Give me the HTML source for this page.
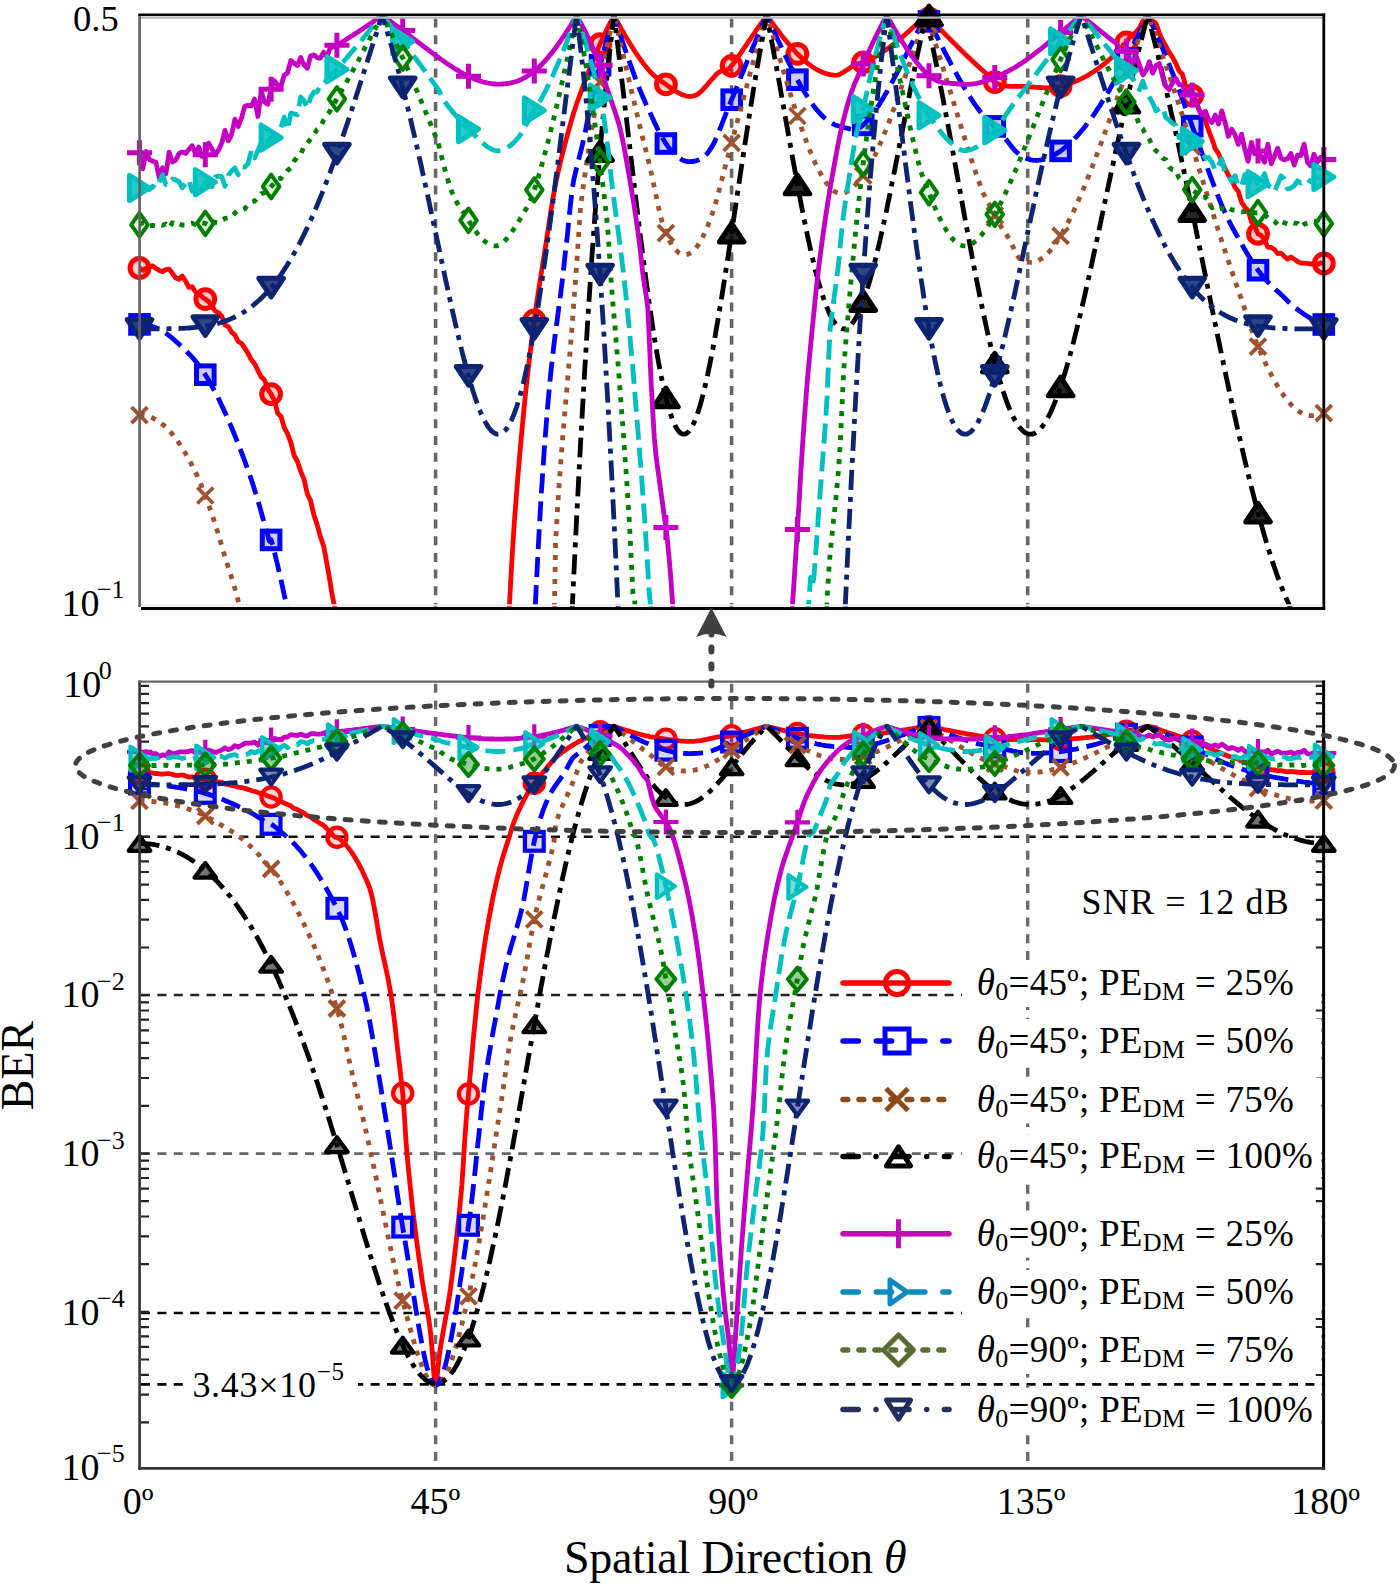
<!DOCTYPE html>
<html><head><meta charset="utf-8"><style>html,body{margin:0;padding:0;background:#fff}svg{display:block}</style></head><body>
<svg width="1400" height="1586" viewBox="0 0 1400 1586" font-family="'Liberation Serif', serif">
<defs><clipPath id="cT"><rect x="139.5" y="14.5" width="1184.3" height="593"/></clipPath>
<clipPath id="cB"><rect x="139.5" y="681.7" width="1184.3" height="786.8"/></clipPath></defs>
<rect width="100%" height="100%" fill="#fff"/>
<line x1="435.6" y1="18.5" x2="435.6" y2="607.5" stroke="#666" stroke-width="3.6" stroke-dasharray="9 7.7"/>
<line x1="731.6" y1="18.5" x2="731.6" y2="607.5" stroke="#666" stroke-width="3.6" stroke-dasharray="9 7.7"/>
<line x1="1027.7" y1="18.5" x2="1027.7" y2="607.5" stroke="#666" stroke-width="3.6" stroke-dasharray="9 7.7"/>
<g clip-path="url(#cT)"><polyline points="139.5,268 141.1,269.2 142.8,270.4 144.4,269.3 146.1,268.2 147.7,267.6 149.4,267 151,266.4 152.7,265.8 154.3,267.1 155.9,268.4 157.6,269.3 159.2,270.4 160.9,271 162.5,271.7 164.2,270.6 165.8,269.7 167.5,269.4 169.1,269.1 170.8,271.2 172.4,273.3 174,275.6 175.7,277.9 177.3,278.5 179,279.2 180.6,277.6 182.3,276.1 183.9,278.6 185.6,281.1 187.2,284.2 188.8,287.4 190.5,287 192.1,286.7 193.8,289.2 195.4,291.7 197.1,292.7 198.7,293.7 200.4,295.1 202,296.7 203.6,297.9 205.3,299.1 206.9,300.3 208.6,301.5 210.2,303.9 211.9,306.3 213.5,308.7 215.2,311 216.8,311.9 218.5,312.8 220.1,314.4 221.7,316 223.4,320.5 225,325.1 226.7,325.8 228.3,326.6 230,329.4 231.6,332.3 233.3,333.6 234.9,334.9 236.5,338.2 238.2,341.5 239.8,342.5 241.5,343.4 243.1,345.7 244.8,348.1 246.4,350.7 248.1,353.4 249.7,356.6 251.4,359.8 253,361.7 254.6,363.7 256.3,367.1 257.9,370.6 259.6,373.7 261.2,376.9 262.9,378.4 264.5,379.9 266.2,384.5 267.8,389.2 269.4,391.6 271.1,394.1 272.7,397.1 274.4,400.1 276,406.6 277.7,413.2 279.3,414.8 281,416.5 282.6,422 284.2,427.5 285.9,430.5 287.5,433.6 289.2,438 290.8,442.4 292.5,448.9 294.1,455.5 295.8,458.5 297.4,461.5 299.1,466.4 300.7,471.3 302.3,475.2 304,479.1 305.6,486.4 307.3,493.8 308.9,497.2 310.6,500.6 312.2,507.9 313.9,514.9 315.5,519.7 317.1,524.7 318.8,530.7 320.4,536.8 322.1,541.4 323.7,546.7 325.4,555.1 327,564.6 328.7,573.7 330.3,583.3 331.9,593.3 333.6,602.1 335.2,608.8 336.9,609.7 338.5,613.5 340.2,620.4 341.8,628.2 343.5,636.6 345.1,645.9 346.8,655.9 348.4,666.7 350,678.2 351.7,690.6 353.3,703.8 355,717.7 356.6,732.5 358.3,748.1 359.9,764.6 361.6,781.9 363.2,800.1 364.8,819.1 366.5,839 368.1,859.8 369.8,882.3 371.4,913.5 373.1,953.5 374.7,1000.3 376.4,1051.4 378,1103.8 379.6,1153.5 381.3,1197.5 382.9,1238.9 384.6,1279.1 386.2,1319.5 387.9,1361.8 389.5,1407.9 391.2,1460 392.8,1521.5 394.5,1592.8 396.1,1670.2 397.7,1749 399.4,1823.3 401,1896.2 402.7,1978.6 404.3,2090.8 406,2235.9 407.6,2339.8 409.3,2431.2 410.9,2513.8 412.5,2591.2 414.2,2665.7 415.8,2736 417.5,2802.7 419.1,2866.6 420.8,2928.4 422.4,2988.3 424.1,3042.1 425.7,3092 427.4,3142.2 429,3196.9 430.6,3260.9 432.3,3364.3 433.9,3483.8 435.6,3542 437.2,3491.3 438.9,3400.7 440.5,3338 442.2,3284.9 443.8,3235.8 445.4,3187.9 447.1,3138.6 448.7,3085.6 450.4,3026.7 452,2960.7 453.7,2888.6 455.3,2812.2 457,2733.1 458.6,2653.6 460.2,2569 461.9,2469.6 463.5,2335.6 465.2,2194.3 466.8,2080.1 468.5,1982.5 470.1,1881.8 471.8,1781.3 473.4,1684.1 475.1,1592.3 476.7,1507.6 478.3,1430.9 480,1359.6 481.6,1292.8 483.3,1230.2 484.9,1171.5 486.6,1116.4 488.2,1064.7 489.9,1016.1 491.5,970.2 493.1,926.8 494.8,885.8 496.4,847 498.1,810.3 499.7,775.6 501.4,742.7 503,711.9 504.7,683.7 506.3,656.8 507.9,630.1 509.6,602.4 511.2,572.1 512.9,543.9 514.5,520.2 516.2,498 517.8,477.2 519.5,457.6 521.1,439.1 522.8,421.5 524.4,404.9 526,389.1 527.7,374.1 529.3,359.7 531,346 532.6,332.9 534.3,320.3 535.9,308.3 537.6,297.2 539.2,286.5 540.8,276.1 542.5,265.8 544.1,255.5 545.8,244.9 547.4,234 549.1,222.9 550.7,212.1 552.4,201.9 554,192.4 555.6,183.7 557.3,175.9 558.9,168.4 560.6,161.3 562.2,154.6 563.9,148.1 565.5,141.8 567.2,135.7 568.8,129.7 570.5,123.9 572.1,118.2 573.7,112.8 575.4,107.7 577,102.8 578.7,98.1 580.3,93.6 582,89.1 583.6,84.6 585.3,80.3 586.9,76 588.5,71.8 590.2,67.6 591.8,63.5 593.5,59.5 595.1,55.6 596.8,51.7 598.4,47.9 600.1,44.1 601.7,40.5 603.4,36.9 605,33.4 606.6,29.9 608.3,26.6 609.9,23.3 611.6,20.1 613.2,16.9 614,15.5 614.9,17.2 616.5,20.2 618.2,23.2 619.8,26.2 621.4,29.1 623.1,32 624.7,34.9 626.4,37.7 628,40.4 629.7,43.2 631.3,45.8 633,48.4 634.6,51 636.2,53.5 637.9,55.9 639.5,58.2 641.2,60.5 642.8,62.7 644.5,64.9 646.1,66.9 647.8,68.9 649.4,70.8 651.1,72.6 652.7,74.3 654.3,75.9 656,77.2 657.6,78.5 659.3,79.7 660.9,80.9 662.6,82 664.2,83.2 665.9,84.4 667.5,85.6 669.1,86.8 670.8,87.9 672.4,89.1 674.1,90.2 675.7,91.2 677.4,92.2 679,93.1 680.7,94 682.3,94.7 683.9,95.3 685.6,95.8 687.2,96.2 688.9,96.4 690.5,96.4 692.2,96.2 693.8,95.9 695.5,95.3 697.1,94.5 698.8,93.4 700.4,92 702,90.5 703.7,88.8 705.3,86.9 707,85.1 708.6,83.1 710.3,81.2 711.9,79.3 713.6,77.5 715.2,75.7 716.8,74 718.5,72.5 720.1,71.5 721.8,71 723.4,70.7 725.1,70.4 726.7,70 728.4,69.2 730,67.8 731.6,65.8 733.3,63.5 734.9,61.3 736.6,59 738.2,56.6 739.9,54.3 741.5,51.9 743.2,49.5 744.8,47.1 746.5,44.7 748.1,42.3 749.7,39.8 751.4,37.4 753,35 754.7,32.6 756.3,30.2 758,27.8 759.6,25.5 761.3,23.1 762.9,20.8 764.5,18.5 766.2,16.2 766.7,15.5 767.8,17 769.5,19.3 771.1,21.5 772.8,23.7 774.4,25.9 776.1,28.1 777.7,30.3 779.4,32.5 781,34.6 782.6,36.7 784.3,38.7 785.9,40.8 787.6,42.8 789.2,44.7 790.9,46.7 792.5,48.5 794.2,50.3 795.8,52.1 797.4,53.8 799.1,55.5 800.7,57.1 802.4,58.7 804,60.2 805.7,61.6 807.3,63 809,64.3 810.6,65.5 812.2,66.7 813.9,67.8 815.5,68.8 817.2,69.8 818.8,70.6 820.5,71.4 822.1,72.2 823.8,72.8 825.4,73.4 827.1,73.9 828.7,74.3 830.3,74.7 832,75 833.6,75.2 835.3,75.3 836.9,75.2 838.6,74.8 840.2,74.1 841.9,73.2 843.5,72.2 845.1,71.1 846.8,70 848.4,68.9 850.1,67.7 851.7,66.7 853.4,65.8 855,65 856.7,64.4 858.3,63.9 859.9,63.4 861.6,62.9 863.2,62.3 864.9,61.6 866.5,61 868.2,60.2 869.8,59.5 871.5,58.6 873.1,57.8 874.8,56.9 876.4,56 878,55 879.7,54 881.3,52.9 883,51.9 884.6,50.7 886.3,49.6 887.9,48.4 889.6,47.2 891.2,46 892.8,44.7 894.5,43.4 896.1,42.1 897.8,40.8 899.4,39.4 901.1,38 902.7,36.6 904.4,35.2 906,33.8 907.7,32.3 909.3,30.9 910.9,29.4 912.6,27.9 914.2,26.4 915.9,24.9 917.5,23.4 919.2,21.8 920.8,20.3 922.5,18.8 924.1,17.2 925.7,15.7 925.9,15.5 927.4,16.9 929,18.4 930.7,20 932.3,21.6 934,23.2 935.6,24.8 937.3,26.4 938.9,28 940.5,29.6 942.2,31.3 943.8,32.9 945.5,34.6 947.1,36.2 948.8,37.9 950.4,39.5 952.1,41.2 953.7,42.8 955.4,44.4 957,46.1 958.6,47.7 960.3,49.3 961.9,51 963.6,52.6 965.2,54.2 966.9,55.8 968.5,57.4 970.2,58.9 971.8,60.5 973.4,62 975.1,63.6 976.7,65.1 978.4,66.6 980,68.1 981.7,69.5 983.3,71 985,72.4 986.6,73.8 988.2,75.5 989.9,77.4 991.5,79.3 993.2,80.9 994.8,82.1 996.5,83.1 998.1,83.9 999.8,84.5 1001.4,85.1 1003.1,85.5 1004.7,85.8 1006.3,86.1 1008,86.2 1009.6,86.3 1011.3,86.4 1012.9,86.4 1014.6,86.4 1016.2,86.3 1017.9,86.3 1019.5,86.3 1021.1,86.2 1022.8,86.3 1024.4,86.3 1026.1,86.4 1027.7,86.6 1029.4,86.7 1031,86.9 1032.7,87 1034.3,87.2 1035.9,87.3 1037.6,87.4 1039.2,87.5 1040.9,87.6 1042.5,87.7 1044.2,87.8 1045.8,87.8 1047.5,87.8 1049.1,87.8 1050.8,87.7 1052.4,87.6 1054,87.4 1055.7,87.2 1057.3,86.9 1059,86.6 1060.6,86.2 1062.3,85.8 1063.9,85.4 1065.6,84.9 1067.2,84.4 1068.8,83.9 1070.5,83.3 1072.1,82.7 1073.8,82.1 1075.4,81.4 1077.1,80.7 1078.7,80 1080.4,79.2 1082,78.4 1083.7,77.5 1085.3,76.7 1086.9,75.8 1088.6,74.8 1090.2,73.8 1091.9,72.8 1093.5,71.7 1095.2,70.7 1096.8,69.5 1098.5,68.3 1100.1,67.1 1101.7,65.9 1103.4,64.6 1105,63.3 1106.7,61.9 1108.3,60.5 1110,59 1111.6,57.5 1113.3,56 1114.9,54.4 1116.5,53 1118.2,51.6 1119.8,50.3 1121.5,47.9 1123.1,45.2 1124.8,43.8 1126.4,42.4 1128.1,39.8 1129.7,37.1 1131.4,35.9 1133,34.8 1134.6,33.3 1136.3,31.8 1137.9,29.8 1139.6,27.7 1141.2,24.4 1142.9,21.2 1144.5,18.5 1146.2,15.9 1147.7,15.5 1147.8,15.5 1149.4,18.3 1151.1,19.5 1152.7,20.8 1154.4,22.1 1156,23.5 1157.7,28.3 1159.3,33.3 1161,36.9 1162.6,40.5 1164.2,43.2 1165.9,46 1167.5,49.2 1169.2,52.5 1170.8,54.7 1172.5,57 1174.1,60.2 1175.8,63.4 1177.4,67.2 1179.1,71 1180.7,72.4 1182.3,73.9 1184,80 1185.6,86.1 1187.3,88.6 1188.9,91.2 1190.6,93.4 1192.2,95.6 1193.9,98.1 1195.5,100.7 1197.1,104.8 1198.8,108.9 1200.4,112.6 1202.1,116.3 1203.7,118.6 1205.4,121 1207,125.8 1208.7,130.7 1210.3,134.8 1211.9,138.9 1213.6,143.8 1215.2,148.7 1216.9,151.1 1218.5,153.5 1220.2,157.7 1221.8,161.8 1223.5,165.1 1225.1,168.5 1226.8,171.8 1228.4,175.1 1230,177.7 1231.7,180.2 1233.3,183.7 1235,187.2 1236.6,189.3 1238.3,191.3 1239.9,196.8 1241.6,202.3 1243.2,204.6 1244.8,207.1 1246.5,208.8 1248.1,210.6 1249.8,216.3 1251.4,221.8 1253.1,224.2 1254.7,226.3 1256.4,230.3 1258,233.9 1259.7,234.8 1261.3,235.5 1262.9,237.9 1264.6,240.1 1266.2,243.7 1267.9,247.2 1269.5,247.3 1271.2,247.3 1272.8,248.5 1274.5,249.5 1276.1,251.6 1277.7,253.6 1279.4,253.4 1281,253.1 1282.7,254.8 1284.3,256.4 1286,257.8 1287.6,259.1 1289.3,258.1 1290.9,257 1292.5,258 1294.2,259 1295.8,260.3 1297.5,261.5 1299.1,262.3 1300.8,263.1 1302.4,263.1 1304.1,263.1 1305.7,263.3 1307.4,263.4 1309,263.7 1310.6,264 1312.3,263.8 1313.9,263.6 1315.6,264 1317.2,264.5 1318.9,263.7 1320.5,262.8 1322.2,263.2 1323.8,263.5" fill="none" stroke="#ff0000" stroke-width="4.8" stroke-linejoin="round"/></g>
<circle cx="139.5" cy="268" r="9.4" fill="#ff0000" fill-opacity="0.2" stroke="#ff0000" stroke-width="5.0"/>
<circle cx="205.3" cy="299.1" r="9.4" fill="#ff0000" fill-opacity="0.2" stroke="#ff0000" stroke-width="5.0"/>
<circle cx="271.1" cy="394.1" r="9.4" fill="#ff0000" fill-opacity="0.2" stroke="#ff0000" stroke-width="5.0"/>
<circle cx="534.3" cy="320.3" r="9.4" fill="#ff0000" fill-opacity="0.2" stroke="#ff0000" stroke-width="5.0"/>
<circle cx="600.1" cy="44.1" r="9.4" fill="#ff0000" fill-opacity="0.2" stroke="#ff0000" stroke-width="5.0"/>
<circle cx="665.9" cy="84.4" r="9.4" fill="#ff0000" fill-opacity="0.2" stroke="#ff0000" stroke-width="5.0"/>
<circle cx="731.6" cy="65.8" r="9.4" fill="#ff0000" fill-opacity="0.2" stroke="#ff0000" stroke-width="5.0"/>
<circle cx="797.4" cy="53.8" r="9.4" fill="#ff0000" fill-opacity="0.2" stroke="#ff0000" stroke-width="5.0"/>
<circle cx="863.2" cy="62.3" r="9.4" fill="#ff0000" fill-opacity="0.2" stroke="#ff0000" stroke-width="5.0"/>
<circle cx="929" cy="18.4" r="9.4" fill="#ff0000" fill-opacity="0.2" stroke="#ff0000" stroke-width="5.0"/>
<circle cx="994.8" cy="82.1" r="9.4" fill="#ff0000" fill-opacity="0.2" stroke="#ff0000" stroke-width="5.0"/>
<circle cx="1060.6" cy="86.2" r="9.4" fill="#ff0000" fill-opacity="0.2" stroke="#ff0000" stroke-width="5.0"/>
<circle cx="1126.4" cy="42.4" r="9.4" fill="#ff0000" fill-opacity="0.2" stroke="#ff0000" stroke-width="5.0"/>
<circle cx="1192.2" cy="95.6" r="9.4" fill="#ff0000" fill-opacity="0.2" stroke="#ff0000" stroke-width="5.0"/>
<circle cx="1258" cy="233.9" r="9.4" fill="#ff0000" fill-opacity="0.2" stroke="#ff0000" stroke-width="5.0"/>
<circle cx="1323.8" cy="263.5" r="9.4" fill="#ff0000" fill-opacity="0.2" stroke="#ff0000" stroke-width="5.0"/>
<g clip-path="url(#cT)"><polyline points="139.5,324.4 141.1,324.4 142.8,324.5 144.4,324.7 146.1,324.9 147.7,325.2 149.4,325.6 151,326 152.7,326.6 154.3,327.1 155.9,327.8 157.6,328.5 159.2,329.3 160.9,330.2 162.5,331.1 164.2,332.1 165.8,333.2 167.5,334.3 169.1,335.6 170.8,336.9 172.4,338.2 174,339.7 175.7,341.2 177.3,342.7 179,344.1 180.6,345.7 182.3,347.2 183.9,348.7 185.6,350.3 187.2,352 188.8,353.6 190.5,355.4 192.1,357.2 193.8,359 195.4,361 197.1,363 198.7,365.1 200.4,367.3 202,369.7 203.6,372.1 205.3,374.7 206.9,377.4 208.6,380.2 210.2,383 211.9,386 213.5,389 215.2,392.1 216.8,395.3 218.5,398.6 220.1,402 221.7,405.4 223.4,409 225,412.6 226.7,416.2 228.3,420 230,423.8 231.6,427.7 233.3,431.7 234.9,435.7 236.5,439.7 238.2,443.9 239.8,448.1 241.5,452.3 243.1,456.7 244.8,461.1 246.4,465.7 248.1,470.3 249.7,475 251.4,479.9 253,484.8 254.6,489.9 256.3,495.2 257.9,500.6 259.6,506.3 261.2,512.1 262.9,518.1 264.5,524 266.2,529.9 267.8,535.7 269.4,541.2 271.1,539.9 272.7,544.8 274.4,551.6 276,558.5 277.7,565.5 279.3,572.7 281,579.9 282.6,587.3 284.2,594.8 285.9,602.4 287.5,610.2 289.2,618.3 290.8,626.7 292.5,635.3 294.1,644.3 295.8,653.5 297.4,663 299.1,672.9 300.7,683.1 302.3,693.5 304,704.3 305.6,715.4 307.3,726.8 308.9,738.6 310.6,750.7 312.2,763.1 313.9,775.8 315.5,788.9 317.1,802.3 318.8,816 320.4,830.1 322.1,844.5 323.7,859.3 325.4,874.4 327,889.9 328.7,905.7 330.3,921.8 331.9,938.3 333.6,955.1 335.2,972.3 336.9,989.7 338.5,1007.6 340.2,1026.5 341.8,1046.8 343.5,1068.5 345.1,1091.6 346.8,1116 348.4,1141.7 350,1168.8 351.7,1197.3 353.3,1227 355,1258 356.6,1290.2 358.3,1323.6 359.9,1358.2 361.6,1393.8 363.2,1430.4 364.8,1468 366.5,1508 368.1,1551.5 369.8,1597.9 371.4,1646.8 373.1,1697.8 374.7,1750.1 376.4,1803.1 378,1855.9 379.6,1909 381.3,1963.3 382.9,2018.5 384.6,2074 386.2,2129.6 387.9,2185.1 389.5,2241.6 391.2,2299 392.8,2357.1 394.5,2415.4 396.1,2473.5 397.7,2531.1 399.4,2587.6 401,2642.5 402.7,2695.2 404.3,2747 406,2800.3 407.6,2854.7 409.3,2910.1 410.9,2965.9 412.5,3021.9 414.2,3077.7 415.8,3132.7 417.5,3186.5 419.1,3238.6 420.8,3288.5 422.4,3335.6 424.1,3379.3 425.7,3419.1 427.4,3454.4 429,3484.5 430.6,3508.8 432.3,3526.9 433.9,3538.1 435.6,3542 437.2,3538.7 438.9,3529.1 440.5,3513.4 442.2,3492.1 443.8,3465.4 445.4,3433.7 447.1,3397.4 448.7,3357 450.4,3312.7 452,3265.1 453.7,3214.5 455.3,3161.3 457,3105.9 458.6,3048.7 460.2,2990.1 461.9,2930.3 463.5,2869.6 465.2,2808.5 466.8,2747.2 468.5,2685.8 470.1,2623.4 471.8,2552.6 473.4,2475 475.1,2393.3 476.7,2310.2 478.3,2227.8 480,2148 481.6,2064.9 483.3,1983 484.9,1914.6 486.6,1854.6 488.2,1799.3 489.9,1747.3 491.5,1697.6 493.1,1649.2 494.8,1601.2 496.4,1553 498.1,1504.8 499.7,1457.5 501.4,1411.6 503,1368 504.7,1327 506.3,1289.1 507.9,1254.5 509.6,1222.3 511.2,1191.8 512.9,1162.3 514.5,1133 516.2,1103.4 517.8,1072.9 519.5,1041.2 521.1,1007.9 522.8,971.5 524.4,927.1 526,877.2 527.7,824.6 529.3,772 531,721.3 532.6,674 534.3,631.1 535.9,592.8 537.6,560.4 539.2,530.1 540.8,502 542.5,475.9 544.1,451.8 545.8,429.6 547.4,409.3 549.1,390.6 550.7,373.7 552.4,358.3 554,344.3 555.6,331.5 557.3,319.2 558.9,307 560.6,294.5 562.2,280.8 563.9,266.1 565.5,251.2 567.2,236.7 568.8,220.5 570.5,204.2 572.1,190.2 573.7,180.3 575.4,172.7 577,165.9 578.7,159.5 580.3,153.2 582,146.5 583.6,139.4 585.3,131.5 586.9,123.5 588.5,115.7 590.2,108 591.8,100.4 593.5,93.1 595.1,85.8 596.8,78.8 598.4,71.9 600.1,65.2 601.7,58.7 603.4,52.3 605,46.2 606.6,40.2 608.3,34.3 609.9,28.7 611.6,23.2 613.2,17.9 614,15.5 614.9,18.3 616.5,23.4 618.2,28.5 619.8,33.5 621.4,38.5 623.1,43.5 624.7,48.3 626.4,53.2 628,57.9 629.7,62.6 631.3,67.2 633,71.7 634.6,76.1 636.2,80.5 637.9,84.7 639.5,88.9 641.2,92.9 642.8,96.8 644.5,100.6 646.1,104.4 647.8,108 649.4,111.5 651.1,115.1 652.7,118.6 654.3,122.1 656,125.6 657.6,128.9 659.3,132.1 660.9,135.2 662.6,138.2 664.2,140.9 665.9,143.5 667.5,145.9 669.1,148.1 670.8,150.2 672.4,152.1 674.1,153.8 675.7,155.4 677.4,156.8 679,158 680.7,159 682.3,159.9 683.9,160.6 685.6,161.1 687.2,161.5 688.9,161.7 690.5,161.7 692.2,161.5 693.8,161.3 695.5,160.9 697.1,160.5 698.8,159.8 700.4,159.1 702,158.1 703.7,156.9 705.3,155.4 707,153.7 708.6,151.6 710.3,149.3 711.9,146.7 713.6,143.7 715.2,140.4 716.8,136.7 718.5,132.7 720.1,128.6 721.8,124.3 723.4,120.1 725.1,115.8 726.7,111.6 728.4,107.6 730,103.7 731.6,99.7 733.3,95.7 734.9,91.6 736.6,87.6 738.2,83.5 739.9,79.4 741.5,75.3 743.2,71.3 744.8,67.2 746.5,63.1 748.1,59.1 749.7,55 751.4,51 753,47 754.7,43.1 756.3,39.2 758,35.3 759.6,31.5 761.3,27.7 762.9,24 764.5,20.3 766.2,16.6 766.7,15.5 767.8,17.9 769.5,21.5 771.1,25.1 772.8,28.7 774.4,32.3 776.1,35.9 777.7,39.4 779.4,43 781,46.5 782.6,50 784.3,53.5 785.9,56.9 787.6,60.3 789.2,63.7 790.9,67 792.5,70.3 794.2,73.5 795.8,76.6 797.4,79.7 799.1,82.7 800.7,85.6 802.4,88.5 804,91.3 805.7,94 807.3,96.6 809,99.1 810.6,101.6 812.2,103.9 813.9,106.1 815.5,108.3 817.2,110.3 818.8,112.2 820.5,114 822.1,115.7 823.8,117.3 825.4,118.7 827.1,120.1 828.7,121.3 830.3,122.4 832,123.4 833.6,124.2 835.3,124.9 836.9,125.5 838.6,126 840.2,126.3 841.9,126.7 843.5,127.2 845.1,127.7 846.8,128.2 848.4,128.6 850.1,129 851.7,129.3 853.4,129.4 855,129.3 856.7,129 858.3,128.4 859.9,127.5 861.6,126.3 863.2,124.9 864.9,123.3 866.5,121.5 868.2,119.7 869.8,117.7 871.5,115.6 873.1,113.5 874.8,111.2 876.4,108.8 878,106.3 879.7,103.8 881.3,101.1 883,98.4 884.6,95.6 886.3,92.8 887.9,89.9 889.6,86.9 891.2,83.9 892.8,80.8 894.5,77.7 896.1,74.5 897.8,71.3 899.4,68.1 901.1,64.8 902.7,61.6 904.4,58.3 906,55 907.7,51.7 909.3,48.4 910.9,45.1 912.6,41.8 914.2,38.5 915.9,35.2 917.5,31.9 919.2,28.7 920.8,25.4 922.5,22.2 924.1,19 925.7,15.9 925.9,15.5 927.4,18.2 929,21.4 930.7,24.6 932.3,27.8 934,30.9 935.6,34.1 937.3,37.3 938.9,40.5 940.5,43.7 942.2,46.9 943.8,50.1 945.5,53.3 947.1,56.4 948.8,59.5 950.4,62.7 952.1,65.7 953.7,68.8 955.4,71.8 957,74.8 958.6,77.8 960.3,80.7 961.9,83.6 963.6,86.4 965.2,89.2 966.9,91.9 968.5,94.6 970.2,97.2 971.8,99.8 973.4,102.3 975.1,104.7 976.7,107 978.4,109.2 980,111.3 981.7,113.2 983.3,115.1 985,116.8 986.6,118.5 988.2,120.1 989.9,121.7 991.5,123.3 993.2,124.9 994.8,126.4 996.5,128.1 998.1,129.8 999.8,131.6 1001.4,133.6 1003.1,135.6 1004.7,137.7 1006.3,139.8 1008,142 1009.6,144.1 1011.3,146.2 1012.9,148.2 1014.6,150.1 1016.2,151.8 1017.9,153.3 1019.5,154.7 1021.1,155.7 1022.8,156.7 1024.4,157.5 1026.1,158.3 1027.7,158.9 1029.4,159.4 1031,159.8 1032.7,160.1 1034.3,160.3 1035.9,160.3 1037.6,160.3 1039.2,160.2 1040.9,160 1042.5,159.7 1044.2,159.3 1045.8,158.8 1047.5,158.2 1049.1,157.5 1050.8,156.8 1052.4,156 1054,155.1 1055.7,154.1 1057.3,153.1 1059,152 1060.6,150.9 1062.3,149.7 1063.9,148.4 1065.6,147 1067.2,145.6 1068.8,144.2 1070.5,142.7 1072.1,141.1 1073.8,139.4 1075.4,137.7 1077.1,136 1078.7,134.1 1080.4,132.2 1082,130.3 1083.7,128.3 1085.3,126.2 1086.9,124.1 1088.6,121.9 1090.2,119.7 1091.9,117.4 1093.5,115.1 1095.2,112.7 1096.8,110.2 1098.5,107.7 1100.1,105.2 1101.7,102.6 1103.4,99.9 1105,97.2 1106.7,94.5 1108.3,91.7 1110,88.9 1111.6,86 1113.3,83.1 1114.9,80.1 1116.5,77.1 1118.2,74.1 1119.8,71 1121.5,67.9 1123.1,64.8 1124.8,61.7 1126.4,58.5 1128.1,55.3 1129.7,52 1131.4,48.8 1133,45.5 1134.6,42.2 1136.3,38.9 1137.9,35.5 1139.6,32.2 1141.2,28.8 1142.9,25.5 1144.5,22.1 1146.2,18.7 1147.7,15.5 1147.8,15.6 1149.4,19.1 1151.1,22.5 1152.7,26.1 1154.4,29.7 1156,33.3 1157.7,37 1159.3,40.8 1161,44.6 1162.6,48.5 1164.2,52.5 1165.9,56.5 1167.5,60.5 1169.2,64.6 1170.8,68.8 1172.5,73 1174.1,77.2 1175.8,81.5 1177.4,85.8 1179.1,90.2 1180.7,94.6 1182.3,99 1184,103.4 1185.6,107.9 1187.3,112.4 1188.9,117 1190.6,121.5 1192.2,126.1 1193.9,130.6 1195.5,135.2 1197.1,139.8 1198.8,144.4 1200.4,148.9 1202.1,153.5 1203.7,158 1205.4,162.5 1207,167 1208.7,171.5 1210.3,175.9 1211.9,180.3 1213.6,184.7 1215.2,188.9 1216.9,193.2 1218.5,197.4 1220.2,201.5 1221.8,205.4 1223.5,209.2 1225.1,212.8 1226.8,216.3 1228.4,219.7 1230,223 1231.7,226.1 1233.3,229.2 1235,232.2 1236.6,235.1 1238.3,238 1239.9,241 1241.6,243.9 1243.2,246.8 1244.8,249.6 1246.5,252.4 1248.1,255.2 1249.8,257.8 1251.4,260.4 1253.1,263 1254.7,265.5 1256.4,267.9 1258,270.2 1259.7,272.4 1261.3,274.6 1262.9,276.6 1264.6,278.5 1266.2,280.3 1267.9,282 1269.5,283.7 1271.2,285.3 1272.8,286.9 1274.5,288.4 1276.1,289.9 1277.7,291.4 1279.4,292.9 1281,294.5 1282.7,296 1284.3,297.6 1286,299.3 1287.6,300.9 1289.3,302.5 1290.9,304 1292.5,305.4 1294.2,306.8 1295.8,308.2 1297.5,309.5 1299.1,310.7 1300.8,311.9 1302.4,313.1 1304.1,314.2 1305.7,315.3 1307.4,316.4 1309,317.4 1310.6,318.4 1312.3,319.4 1313.9,320.4 1315.6,321.3 1317.2,322.3 1318.9,323.2 1320.5,324.1 1322.2,324.5 1323.8,324.5" fill="none" stroke="#0000ff" stroke-width="4.8" stroke-dasharray="20 8" stroke-linejoin="round"/></g>
<rect x="130.7" y="315.6" width="17.6" height="17.6" fill="#0000ff" fill-opacity="0.2" stroke="#0000ff" stroke-width="5.0"/>
<rect x="196.5" y="365.9" width="17.6" height="17.6" fill="#0000ff" fill-opacity="0.2" stroke="#0000ff" stroke-width="5.0"/>
<rect x="262.3" y="531.1" width="17.6" height="17.6" fill="#0000ff" fill-opacity="0.2" stroke="#0000ff" stroke-width="5.0"/>
<rect x="591.3" y="56.4" width="17.6" height="17.6" fill="#0000ff" fill-opacity="0.2" stroke="#0000ff" stroke-width="5.0"/>
<rect x="657.1" y="134.7" width="17.6" height="17.6" fill="#0000ff" fill-opacity="0.2" stroke="#0000ff" stroke-width="5.0"/>
<rect x="722.9" y="90.9" width="17.6" height="17.6" fill="#0000ff" fill-opacity="0.2" stroke="#0000ff" stroke-width="5.0"/>
<rect x="788.6" y="70.9" width="17.6" height="17.6" fill="#0000ff" fill-opacity="0.2" stroke="#0000ff" stroke-width="5.0"/>
<rect x="854.4" y="116.1" width="17.6" height="17.6" fill="#0000ff" fill-opacity="0.2" stroke="#0000ff" stroke-width="5.0"/>
<rect x="920.2" y="12.6" width="17.6" height="17.6" fill="#0000ff" fill-opacity="0.2" stroke="#0000ff" stroke-width="5.0"/>
<rect x="986" y="117.6" width="17.6" height="17.6" fill="#0000ff" fill-opacity="0.2" stroke="#0000ff" stroke-width="5.0"/>
<rect x="1051.8" y="142.1" width="17.6" height="17.6" fill="#0000ff" fill-opacity="0.2" stroke="#0000ff" stroke-width="5.0"/>
<rect x="1117.6" y="49.7" width="17.6" height="17.6" fill="#0000ff" fill-opacity="0.2" stroke="#0000ff" stroke-width="5.0"/>
<rect x="1183.4" y="117.3" width="17.6" height="17.6" fill="#0000ff" fill-opacity="0.2" stroke="#0000ff" stroke-width="5.0"/>
<rect x="1249.2" y="261.4" width="17.6" height="17.6" fill="#0000ff" fill-opacity="0.2" stroke="#0000ff" stroke-width="5.0"/>
<rect x="1315" y="315.7" width="17.6" height="17.6" fill="#0000ff" fill-opacity="0.2" stroke="#0000ff" stroke-width="5.0"/>
<g clip-path="url(#cT)"><polyline points="139.5,415.1 141.1,415.1 142.8,415.2 144.4,415.4 146.1,415.7 147.7,416.2 149.4,416.7 151,417.3 152.7,418 154.3,418.8 155.9,419.7 157.6,420.7 159.2,421.8 160.9,423 162.5,424.3 164.2,425.7 165.8,427.2 167.5,428.9 169.1,430.6 170.8,432.4 172.4,434.3 174,436.4 175.7,438.5 177.3,440.8 179,443.1 180.6,445.6 182.3,448.1 183.9,450.8 185.6,453.5 187.2,456.3 188.8,459.3 190.5,462.3 192.1,465.4 193.8,468.7 195.4,472.1 197.1,475.6 198.7,479.3 200.4,483.1 202,487 203.6,491.2 205.3,495.5 206.9,499.9 208.6,504.5 210.2,509.2 211.9,514 213.5,519 215.2,524.1 216.8,529.4 218.5,534.7 220.1,540.2 221.7,545.8 223.4,551.6 225,557.1 226.7,562.3 228.3,567.5 230,572.5 231.6,577.6 233.3,582.9 234.9,588.5 236.5,594.5 238.2,601 239.8,608 241.5,615.2 243.1,622.6 244.8,630.2 246.4,638 248.1,646 249.7,654.2 251.4,662.6 253,671.2 254.6,680 256.3,689 257.9,698.3 259.6,707.7 261.2,717.3 262.9,727.2 264.5,737.2 266.2,747.5 267.8,757.9 269.4,768.6 271.1,779.4 272.7,790.5 274.4,802 276,813.9 277.7,826.2 279.3,838.9 281,852 282.6,865.4 284.2,879.3 285.9,893.5 287.5,908.2 289.2,923.2 290.8,938.6 292.5,954.4 294.1,970.5 295.8,987 297.4,1003.8 299.1,1021 300.7,1038.5 302.3,1056.3 304,1074.4 305.6,1092.7 307.3,1111.4 308.9,1130.3 310.6,1149.6 312.2,1169.2 313.9,1189.2 315.5,1209.6 317.1,1230.5 318.8,1251.8 320.4,1273.6 322.1,1295.9 323.7,1318.8 325.4,1342.2 327,1366.3 328.7,1391 330.3,1416.4 331.9,1442.5 333.6,1469.4 335.2,1497.2 336.9,1525.8 338.5,1555.4 340.2,1588 341.8,1623.7 343.5,1661.8 345.1,1701.8 346.8,1742.7 348.4,1783.8 350,1824 351.7,1862.3 353.3,1899.3 355,1935.8 356.6,1972.1 358.3,2008.2 359.9,2044.4 361.6,2080.8 363.2,2117.8 364.8,2155.5 366.5,2194.1 368.1,2233.4 369.8,2273.4 371.4,2314.1 373.1,2355.3 374.7,2397 376.4,2439.1 378,2481.6 379.6,2524.4 381.3,2567.3 382.9,2610.3 384.6,2653.3 386.2,2696.1 387.9,2738.7 389.5,2780.9 391.2,2822.7 392.8,2863.7 394.5,2904 396.1,2943.4 397.7,2981.8 399.4,3018.9 401,3054.6 402.7,3088.8 404.3,3121.9 406,3155 407.6,3187.8 409.3,3220.2 410.9,3252.1 412.5,3283.3 414.2,3313.6 415.8,3342.9 417.5,3370.9 419.1,3397.4 420.8,3422.3 422.4,3445.5 424.1,3466.6 425.7,3485.5 427.4,3502 429,3515.9 430.6,3527.1 432.3,3535.2 433.9,3540.3 435.6,3542 437.2,3540.4 438.9,3535.7 440.5,3528.1 442.2,3517.6 443.8,3504.4 445.4,3488.5 447.1,3470.2 448.7,3449.4 450.4,3426.5 452,3401.4 453.7,3374.4 455.3,3345.6 457,3315.1 458.6,3283 460.2,3249.5 461.9,3214.7 463.5,3178.8 465.2,3141.8 466.8,3104 468.5,3065.4 470.1,3025.8 471.8,2984.2 473.4,2940.4 475.1,2894.6 476.7,2847 478.3,2797.7 480,2747 481.6,2694.9 483.3,2641.6 484.9,2587.3 486.6,2532.1 488.2,2476.3 489.9,2419.8 491.5,2362.9 493.1,2305.8 494.8,2248.5 496.4,2191.1 498.1,2133.8 499.7,2076.6 501.4,2019.8 503,1961.9 504.7,1899.5 506.3,1835.8 507.9,1774.3 509.6,1717.8 511.2,1668.6 512.9,1624.4 514.5,1582.5 516.2,1542.1 517.8,1502.5 519.5,1462.9 521.1,1422.7 522.8,1381.4 524.4,1338.4 526,1291.5 527.7,1241.4 529.3,1190.3 531,1140.2 532.6,1092.7 534.3,1049.1 535.9,1010.1 537.6,974 539.2,939.7 540.8,906.7 542.5,874.2 544.1,841.9 545.8,809.3 547.4,776.2 549.1,742.5 550.7,710 552.4,673.8 554,629.5 555.6,541.8 557.3,513 558.9,487.6 560.6,464.8 562.2,443.6 563.9,423.6 565.5,404.2 567.2,385 568.8,365.6 570.5,346 572.1,325.8 573.7,304.1 575.4,281.6 577,259.3 578.7,233.7 580.3,210.5 582,195.4 583.6,183.7 585.3,172.4 586.9,161.3 588.5,150.5 590.2,140 591.8,129.7 593.5,119.7 595.1,110 596.8,100.5 598.4,91.2 600.1,82.2 601.7,73.5 603.4,65 605,56.7 606.6,48.6 608.3,40.8 609.9,33.2 611.6,25.9 613.2,18.7 614,15.5 614.9,19.3 616.5,26.2 618.2,33.3 619.8,40.3 621.4,47.4 623.1,54.5 624.7,61.6 626.4,68.8 628,75.9 629.7,83 631.3,90.1 633,97.1 634.6,104.1 636.2,111.1 637.9,118 639.5,124.9 641.2,131.7 642.8,138.4 644.5,145 646.1,151.5 647.8,158 649.4,164.9 651.1,172.1 652.7,179.7 654.3,187.5 656,195.4 657.6,203.2 659.3,210.7 660.9,217.7 662.6,223.9 664.2,229 665.9,233.1 667.5,236.8 669.1,240.1 670.8,243.1 672.4,245.7 674.1,248 675.7,249.9 677.4,251.5 679,252.8 680.7,253.7 682.3,254.3 683.9,254.7 685.6,254.7 687.2,254.4 688.9,253.8 690.5,252.9 692.2,251.7 693.8,250.3 695.5,248.5 697.1,246.4 698.8,244 700.4,241.3 702,238.3 703.7,235.1 705.3,231.5 707,227.7 708.6,223.7 710.3,219.3 711.9,214.7 713.6,209.9 715.2,204.7 716.8,198.9 718.5,192.8 720.1,186.5 721.8,180.1 723.4,173.6 725.1,167.2 726.7,160.9 728.4,154.8 730,148.8 731.6,142.8 733.3,136.7 734.9,130.6 736.6,124.4 738.2,118.2 739.9,112 741.5,105.8 743.2,99.6 744.8,93.4 746.5,87.2 748.1,81 749.7,74.9 751.4,68.8 753,62.8 754.7,56.8 756.3,50.9 758,45.1 759.6,39.3 761.3,33.7 762.9,28.1 764.5,22.6 766.2,17.2 766.7,15.5 767.8,19.1 769.5,24.5 771.1,29.9 772.8,35.3 774.4,40.8 776.1,46.3 777.7,51.8 779.4,57.3 781,62.8 782.6,68.3 784.3,73.8 785.9,79.3 787.6,84.7 789.2,90.1 790.9,95.4 792.5,100.7 794.2,105.9 795.8,111 797.4,116 799.1,121 800.7,125.8 802.4,130.6 804,135.2 805.7,139.7 807.3,144.1 809,148.3 810.6,152.4 812.2,156.3 813.9,160.1 815.5,163.7 817.2,167.2 818.8,170.4 820.5,173.5 822.1,176.4 823.8,179.1 825.4,181.6 827.1,183.9 828.7,185.9 830.3,187.8 832,189.5 833.6,190.8 835.3,191.8 836.9,192.6 838.6,193.1 840.2,193.3 841.9,193.3 843.5,193 845.1,192.5 846.8,191.8 848.4,190.9 850.1,189.8 851.7,188.6 853.4,187.1 855,185.5 856.7,183.8 858.3,182 859.9,180.1 861.6,178 863.2,175.7 864.9,173.3 866.5,170.7 868.2,168 869.8,165.1 871.5,162.1 873.1,158.9 874.8,155.6 876.4,152.2 878,148.6 879.7,144.9 881.3,141.1 883,137.2 884.6,133.1 886.3,129 887.9,124.8 889.6,120.5 891.2,116.1 892.8,111.6 894.5,107.1 896.1,102.5 897.8,97.9 899.4,93.2 901.1,88.4 902.7,83.7 904.4,78.9 906,74 907.7,69.2 909.3,64.3 910.9,59.4 912.6,54.6 914.2,49.7 915.9,44.8 917.5,40 919.2,35.1 920.8,30.3 922.5,25.5 924.1,20.8 925.7,16.1 925.9,15.5 927.4,19.6 929,24.4 930.7,29.3 932.3,34.2 934,39.2 935.6,44.3 937.3,49.4 938.9,54.5 940.5,59.7 942.2,65 943.8,70.3 945.5,75.6 947.1,81 948.8,86.4 950.4,91.8 952.1,97.2 953.7,102.6 955.4,108 957,113.4 958.6,118.8 960.3,124.2 961.9,129.5 963.6,134.8 965.2,140.1 966.9,145.3 968.5,150.5 970.2,155.6 971.8,160.7 973.4,165.7 975.1,170.6 976.7,175.4 978.4,180.1 980,184.7 981.7,189.2 983.3,193.2 985,196.7 986.6,199.8 988.2,202.7 989.9,205.6 991.5,208.7 993.2,212 994.8,215.3 996.5,218.5 998.1,221.5 999.8,224.4 1001.4,227.2 1003.1,229.9 1004.7,232.4 1006.3,234.8 1008,237.1 1009.6,239.8 1011.3,243 1012.9,246.6 1014.6,250.3 1016.2,253.7 1017.9,256.6 1019.5,258.6 1021.1,259.7 1022.8,260.6 1024.4,261.3 1026.1,261.9 1027.7,262.2 1029.4,262.4 1031,262.4 1032.7,262.3 1034.3,262 1035.9,261.5 1037.6,260.8 1039.2,260 1040.9,259 1042.5,257.9 1044.2,256.6 1045.8,255.1 1047.5,253.6 1049.1,251.8 1050.8,249.9 1052.4,247.9 1054,245.7 1055.7,243.5 1057.3,241 1059,238.5 1060.6,235.8 1062.3,233 1063.9,230.1 1065.6,227.2 1067.2,224.1 1068.8,220.9 1070.5,217.6 1072.1,214.2 1073.8,210.7 1075.4,207.2 1077.1,203.5 1078.7,199.8 1080.4,196 1082,192.2 1083.7,188.2 1085.3,184.3 1086.9,180.2 1088.6,176.1 1090.2,171.9 1091.9,167.7 1093.5,163.4 1095.2,159.1 1096.8,154.7 1098.5,150.4 1100.1,145.9 1101.7,141.5 1103.4,137 1105,132.5 1106.7,127.9 1108.3,123.4 1110,118.8 1111.6,114.2 1113.3,109.6 1114.9,105 1116.5,100.4 1118.2,95.8 1119.8,91.2 1121.5,86.6 1123.1,82 1124.8,77.4 1126.4,72.8 1128.1,68.2 1129.7,63.7 1131.4,59.2 1133,54.6 1134.6,50.2 1136.3,45.7 1137.9,41.3 1139.6,36.9 1141.2,32.5 1142.9,28.1 1144.5,23.8 1146.2,19.6 1147.7,15.5 1147.8,15.7 1149.4,19.9 1151.1,24.2 1152.7,28.6 1154.4,33 1156,37.5 1157.7,42 1159.3,46.6 1161,51.2 1162.6,55.9 1164.2,60.6 1165.9,65.4 1167.5,70.2 1169.2,75.1 1170.8,80 1172.5,84.9 1174.1,89.9 1175.8,94.9 1177.4,100 1179.1,105.1 1180.7,110.2 1182.3,115.3 1184,120.5 1185.6,125.7 1187.3,130.9 1188.9,136.1 1190.6,141.4 1192.2,146.7 1193.9,151.9 1195.5,157.2 1197.1,162.5 1198.8,167.9 1200.4,173.2 1202.1,178.5 1203.7,183.8 1205.4,189.1 1207,194.4 1208.7,199.7 1210.3,205 1211.9,210.2 1213.6,215.5 1215.2,220.7 1216.9,225.9 1218.5,231 1220.2,236.2 1221.8,241.2 1223.5,246.3 1225.1,251.3 1226.8,256.3 1228.4,261.2 1230,266.1 1231.7,270.9 1233.3,275.8 1235,280.5 1236.6,285.3 1238.3,290 1239.9,294.8 1241.6,299.4 1243.2,304.2 1244.8,309.2 1246.5,314.2 1248.1,319.3 1249.8,324.3 1251.4,329.2 1253.1,334 1254.7,338.5 1256.4,342.8 1258,346.7 1259.7,350.5 1261.3,354.2 1262.9,357.8 1264.6,361.3 1266.2,364.8 1267.9,368.2 1269.5,371.5 1271.2,374.6 1272.8,377.7 1274.5,380.7 1276.1,383.6 1277.7,386.4 1279.4,389 1281,391.6 1282.7,394 1284.3,396.3 1286,398.5 1287.6,400.6 1289.3,402.5 1290.9,404.4 1292.5,406.1 1294.2,407.6 1295.8,409.1 1297.5,410.4 1299.1,411.5 1300.8,412.5 1302.4,413.4 1304.1,414.1 1305.7,414.7 1307.4,415.2 1309,415.5 1310.6,415.6 1312.3,415.6 1313.9,415.4 1315.6,415.1 1317.2,414.7 1318.9,414 1320.5,413.3 1322.2,413.1 1323.8,413.1" fill="none" stroke="#a0522d" stroke-width="4.8" stroke-dasharray="5 7" stroke-linejoin="round"/></g>
<path d="M131.5 407.1L147.5 423.1M131.5 423.1L147.5 407.1" stroke="#a0522d" stroke-width="3.8" fill="none"/>
<path d="M197.3 487.5L213.3 503.5M197.3 503.5L213.3 487.5" stroke="#a0522d" stroke-width="3.8" fill="none"/>
<path d="M592.1 74.2L608.1 90.2M592.1 90.2L608.1 74.2" stroke="#a0522d" stroke-width="3.8" fill="none"/>
<path d="M657.9 225.1L673.9 241.1M657.9 241.1L673.9 225.1" stroke="#a0522d" stroke-width="3.8" fill="none"/>
<path d="M723.6 134.8L739.6 150.8M723.6 150.8L739.6 134.8" stroke="#a0522d" stroke-width="3.8" fill="none"/>
<path d="M789.4 108L805.4 124M789.4 124L805.4 108" stroke="#a0522d" stroke-width="3.8" fill="none"/>
<path d="M855.2 167.7L871.2 183.7M855.2 183.7L871.2 167.7" stroke="#a0522d" stroke-width="3.8" fill="none"/>
<path d="M921 16.4L937 32.4M921 32.4L937 16.4" stroke="#a0522d" stroke-width="3.8" fill="none"/>
<path d="M986.8 207.3L1002.8 223.3M986.8 223.3L1002.8 207.3" stroke="#a0522d" stroke-width="3.8" fill="none"/>
<path d="M1052.6 227.8L1068.6 243.8M1052.6 243.8L1068.6 227.8" stroke="#a0522d" stroke-width="3.8" fill="none"/>
<path d="M1118.4 64.8L1134.4 80.8M1118.4 80.8L1134.4 64.8" stroke="#a0522d" stroke-width="3.8" fill="none"/>
<path d="M1184.2 138.7L1200.2 154.7M1184.2 154.7L1200.2 138.7" stroke="#a0522d" stroke-width="3.8" fill="none"/>
<path d="M1250 338.7L1266 354.7M1250 354.7L1266 338.7" stroke="#a0522d" stroke-width="3.8" fill="none"/>
<path d="M1315.8 405.1L1331.8 421.1M1315.8 421.1L1331.8 405.1" stroke="#a0522d" stroke-width="3.8" fill="none"/>
<g clip-path="url(#cT)"><polyline points="139.5,642.3 141.1,642.3 142.8,642.6 144.4,643 146.1,643.6 147.7,644.4 149.4,645.3 151,646.5 152.7,647.7 154.3,649.2 155.9,650.9 157.6,652.7 159.2,654.7 160.9,656.8 162.5,659.2 164.2,661.7 165.8,664.4 167.5,667.2 169.1,670.3 170.8,673.5 172.4,677 174,680.6 175.7,684.4 177.3,688.3 179,692.5 180.6,696.9 182.3,701.4 183.9,706.1 185.6,711.1 187.2,716.2 188.8,721.5 190.5,727.1 192.1,732.8 193.8,738.7 195.4,744.8 197.1,751.2 198.7,757.7 200.4,764.5 202,771.5 203.6,778.7 205.3,786.1 206.9,793.7 208.6,801.6 210.2,809.6 211.9,817.9 213.5,826.5 215.2,835.2 216.8,844.2 218.5,853.5 220.1,863 221.7,872.7 223.4,882.6 225,892.8 226.7,903.3 228.3,914 230,925 231.6,936.2 233.3,947.7 234.9,959.4 236.5,971.5 238.2,983.7 239.8,996.3 241.5,1009.1 243.1,1022.2 244.8,1035.6 246.4,1049.2 248.1,1063.2 249.7,1077.4 251.4,1091.9 253,1106.7 254.6,1121.8 256.3,1137.2 257.9,1152.9 259.6,1168.9 261.2,1185.2 262.9,1201.7 264.5,1218.6 266.2,1235.8 267.8,1253.3 269.4,1271.1 271.1,1289.2 272.7,1307.7 274.4,1326.4 276,1345.4 277.7,1364.8 279.3,1384.5 281,1404.5 282.6,1424.8 284.2,1445.4 285.9,1466.3 287.5,1487.5 289.2,1509.1 290.8,1530.9 292.5,1553.1 294.1,1575.5 295.8,1598.3 297.4,1621.4 299.1,1644.7 300.7,1668.4 302.3,1692.4 304,1716.6 305.6,1741.2 307.3,1766 308.9,1791.1 310.6,1816.5 312.2,1842.1 313.9,1868 315.5,1894.2 317.1,1920.6 318.8,1947.3 320.4,1974.2 322.1,2001.3 323.7,2028.6 325.4,2056.2 327,2084 328.7,2111.9 330.3,2140.1 331.9,2168.4 333.6,2196.9 335.2,2225.5 336.9,2254.3 338.5,2283.2 340.2,2312.2 341.8,2341.4 343.5,2370.6 345.1,2399.9 346.8,2429.2 348.4,2458.6 350,2488.1 351.7,2517.5 353.3,2546.9 355,2576.4 356.6,2605.7 358.3,2635.1 359.9,2664.3 361.6,2693.5 363.2,2722.5 364.8,2751.4 366.5,2780.2 368.1,2808.8 369.8,2837.1 371.4,2865.3 373.1,2893.2 374.7,2920.9 376.4,2948.3 378,2975.3 379.6,3002 381.3,3028.4 382.9,3054.4 384.6,3080 386.2,3105.1 387.9,3129.8 389.5,3154 391.2,3177.7 392.8,3200.9 394.5,3223.5 396.1,3245.5 397.7,3266.9 399.4,3287.6 401,3307.7 402.7,3327.2 404.3,3345.9 406,3363.8 407.6,3381 409.3,3397.4 410.9,3413 412.5,3427.7 414.2,3441.6 415.8,3454.5 417.5,3466.6 419.1,3477.7 420.8,3487.9 422.4,3497.1 424.1,3505.2 425.7,3512.4 427.4,3518.5 429,3523.5 430.6,3527.4 432.3,3530.3 433.9,3532 435.6,3532.6 437.2,3532 438.9,3530.2 440.5,3527.3 442.2,3523.2 443.8,3517.8 445.4,3511.3 447.1,3503.5 448.7,3494.5 450.4,3484.2 452,3472.8 453.7,3460 455.3,3446 457,3430.8 458.6,3414.3 460.2,3396.5 461.9,3377.5 463.5,3357.2 465.2,3335.8 466.8,3313 468.5,3289.1 470.1,3264 471.8,3237.6 473.4,3210.1 475.1,3181.4 476.7,3151.5 478.3,3120.5 480,3088.4 481.6,3055.2 483.3,3020.9 484.9,2985.6 486.6,2949.3 488.2,2912 489.9,2873.7 491.5,2834.4 493.1,2794.3 494.8,2753.3 496.4,2711.5 498.1,2668.9 499.7,2625.5 501.4,2581.4 503,2536.6 504.7,2491.1 506.3,2445.1 507.9,2398.5 509.6,2351.3 511.2,2303.7 512.9,2255.7 514.5,2207.3 516.2,2158.5 517.8,2109.4 519.5,2060.1 521.1,2010.6 522.8,1960.9 524.4,1911.1 526,1861.3 527.7,1811.4 529.3,1761.5 531,1711.8 532.6,1662.1 534.3,1612.6 535.9,1563.4 537.6,1514.3 539.2,1465.6 540.8,1417.2 542.5,1369.2 544.1,1321.7 545.8,1274.6 547.4,1228 549.1,1181.9 550.7,1136.4 552.4,1091.5 554,1047.3 555.6,1003.7 557.3,960.9 558.9,918.8 560.6,877.4 562.2,836.8 563.9,797.1 565.5,758.2 567.2,720.1 568.8,682.9 570.5,646.6 572.1,611.2 573.7,576.7 575.4,543.1 577,510.4 578.7,478.7 580.3,447.9 582,418.1 583.6,389.2 585.3,361.3 586.9,334.3 588.5,308.2 590.2,283.1 591.8,258.9 593.5,235.6 595.1,213.1 596.8,191.6 598.4,171 600.1,151.2 601.7,132.2 603.4,114.1 605,96.8 606.6,80.2 608.3,64.5 609.9,49.4 611.6,35.1 613.2,21.5 614,15.5 614.9,22.5 616.5,35.7 618.2,49.1 619.8,62.7 621.4,76.4 623.1,90.2 624.7,104.2 626.4,118.2 628,132.2 629.7,146.3 631.3,160.3 633,174.3 634.6,188.2 636.2,202 637.9,215.6 639.5,229.1 641.2,242.3 642.8,255.4 644.5,268.1 646.1,280.5 647.8,292.7 649.4,304.4 651.1,315.8 652.7,326.8 654.3,337.4 656,347.5 657.6,357.1 659.3,366.2 660.9,374.9 662.6,382.9 664.2,390.5 665.9,397.5 667.5,403.8 669.1,409.6 670.8,414.9 672.4,419.4 674.1,423.4 675.7,426.8 677.4,429.5 679,431.6 680.7,433.1 682.3,434 683.9,434.2 685.6,433.8 687.2,432.9 688.9,431.3 690.5,429.1 692.2,426.3 693.8,423 695.5,419.1 697.1,414.7 698.8,409.8 700.4,404.3 702,398.4 703.7,391.9 705.3,385.1 707,377.8 708.6,370.1 710.3,362 711.9,353.6 713.6,344.8 715.2,335.7 716.8,326.3 718.5,316.6 720.1,306.7 721.8,296.6 723.4,286.3 725.1,275.8 726.7,265.1 728.4,254.4 730,243.5 731.6,232.6 733.3,221.6 734.9,210.6 736.6,199.5 738.2,188.5 739.9,177.5 741.5,166.5 743.2,155.6 744.8,144.8 746.5,134.1 748.1,123.5 749.7,113.1 751.4,102.8 753,92.6 754.7,82.6 756.3,72.8 758,63.2 759.6,53.8 761.3,44.5 762.9,35.5 764.5,26.8 766.2,18.2 766.7,15.5 767.8,21.2 769.5,29.8 771.1,38.4 772.8,47.2 774.4,56.1 776.1,65.1 777.7,74.2 779.4,83.4 781,92.6 782.6,101.9 784.3,111.2 785.9,120.5 787.6,129.8 789.2,139 790.9,148.3 792.5,157.5 794.2,166.6 795.8,175.6 797.4,184.5 799.1,193.3 800.7,202 802.4,210.5 804,218.8 805.7,226.9 807.3,234.8 809,242.5 810.6,249.9 812.2,257.1 813.9,264 815.5,270.7 817.2,277 818.8,283 820.5,288.7 822.1,294 823.8,299 825.4,303.7 827.1,307.9 828.7,311.8 830.3,315.3 832,318.4 833.6,321.1 835.3,323.4 836.9,325.3 838.6,326.8 840.2,327.9 841.9,328.6 843.5,328.8 845.1,328.7 846.8,328.1 848.4,327.2 850.1,325.8 851.7,324 853.4,321.9 855,319.3 856.7,316.4 858.3,313.1 859.9,309.4 861.6,305.4 863.2,301.1 864.9,296.4 866.5,291.4 868.2,286.1 869.8,280.5 871.5,274.6 873.1,268.5 874.8,262.1 876.4,255.5 878,248.6 879.7,241.5 881.3,234.3 883,226.8 884.6,219.2 886.3,211.5 887.9,203.6 889.6,195.6 891.2,187.4 892.8,179.2 894.5,171 896.1,162.6 897.8,154.2 899.4,145.8 901.1,137.4 902.7,128.9 904.4,120.5 906,112.1 907.7,103.7 909.3,95.3 910.9,87 912.6,78.8 914.2,70.7 915.9,62.6 917.5,54.6 919.2,46.7 920.8,39 922.5,31.3 924.1,23.8 925.7,16.4 925.9,15.5 927.4,22 929,29.5 930.7,37.2 932.3,45 934,52.9 935.6,61 937.3,69.2 938.9,77.5 940.5,86 942.2,94.5 943.8,103.2 945.5,111.9 947.1,120.7 948.8,129.5 950.4,138.5 952.1,147.4 953.7,156.4 955.4,165.5 957,174.5 958.6,183.6 960.3,192.7 961.9,201.7 963.6,210.8 965.2,219.8 966.9,228.7 968.5,237.6 970.2,246.4 971.8,255.1 973.4,263.8 975.1,272.3 976.7,280.7 978.4,289 980,297.2 981.7,305.2 983.3,313 985,320.7 986.6,328.2 988.2,335.5 989.9,342.6 991.5,349.5 993.2,356.1 994.8,362.6 996.5,368.8 998.1,374.8 999.8,380.5 1001.4,385.9 1003.1,391.1 1004.7,396 1006.3,400.7 1008,405 1009.6,409.1 1011.3,412.8 1012.9,416.3 1014.6,419.5 1016.2,422.3 1017.9,424.9 1019.5,427.2 1021.1,429.1 1022.8,430.7 1024.4,432.1 1026.1,433.1 1027.7,433.8 1029.4,434.1 1031,434.2 1032.7,434 1034.3,433.4 1035.9,432.6 1037.6,431.5 1039.2,430 1040.9,428.3 1042.5,426.3 1044.2,424 1045.8,421.4 1047.5,418.5 1049.1,415.4 1050.8,412 1052.4,408.3 1054,404.4 1055.7,400.3 1057.3,395.9 1059,391.3 1060.6,386.5 1062.3,381.4 1063.9,376.2 1065.6,370.7 1067.2,365.1 1068.8,359.3 1070.5,353.3 1072.1,347.1 1073.8,340.8 1075.4,334.3 1077.1,327.7 1078.7,320.9 1080.4,314.1 1082,307.1 1083.7,300 1085.3,292.8 1086.9,285.5 1088.6,278.1 1090.2,270.7 1091.9,263.2 1093.5,255.6 1095.2,248 1096.8,240.3 1098.5,232.6 1100.1,224.9 1101.7,217.1 1103.4,209.4 1105,201.6 1106.7,193.8 1108.3,186.1 1110,178.3 1111.6,170.6 1113.3,162.9 1114.9,155.2 1116.5,147.6 1118.2,140 1119.8,132.4 1121.5,124.9 1123.1,117.5 1124.8,110.1 1126.4,102.8 1128.1,95.6 1129.7,88.4 1131.4,81.3 1133,74.3 1134.6,67.4 1136.3,60.5 1137.9,53.8 1139.6,47.1 1141.2,40.5 1142.9,34.1 1144.5,27.7 1146.2,21.4 1147.7,15.5 1147.8,15.8 1149.4,21.9 1151.1,28.2 1152.7,34.6 1154.4,41.1 1156,47.6 1157.7,54.3 1159.3,61.1 1161,67.9 1162.6,74.8 1164.2,81.8 1165.9,88.9 1167.5,96.1 1169.2,103.3 1170.8,110.7 1172.5,118 1174.1,125.5 1175.8,133 1177.4,140.6 1179.1,148.2 1180.7,155.9 1182.3,163.7 1184,171.5 1185.6,179.3 1187.3,187.2 1188.9,195.1 1190.6,203.1 1192.2,211.1 1193.9,219.1 1195.5,227.1 1197.1,235.2 1198.8,243.3 1200.4,251.3 1202.1,259.4 1203.7,267.5 1205.4,275.6 1207,283.7 1208.7,291.8 1210.3,299.9 1211.9,308 1213.6,316 1215.2,324 1216.9,332 1218.5,340 1220.2,347.9 1221.8,355.8 1223.5,363.7 1225.1,371.5 1226.8,379.3 1228.4,387 1230,394.6 1231.7,402.2 1233.3,409.7 1235,417.2 1236.6,424.6 1238.3,431.9 1239.9,439.1 1241.6,446.3 1243.2,453.3 1244.8,460.3 1246.5,467.2 1248.1,474 1249.8,480.7 1251.4,487.3 1253.1,493.8 1254.7,500.2 1256.4,506.5 1258,512.6 1259.7,518.7 1261.3,524.6 1262.9,530.4 1264.6,536.1 1266.2,541.7 1267.9,547.1 1269.5,552.4 1271.2,557.6 1272.8,562.6 1274.5,567.5 1276.1,572.2 1277.7,576.9 1279.4,581.3 1281,585.7 1282.7,589.8 1284.3,593.9 1286,597.7 1287.6,601.5 1289.3,605 1290.9,608.4 1292.5,611.7 1294.2,614.8 1295.8,617.7 1297.5,620.5 1299.1,623.1 1300.8,625.6 1302.4,627.9 1304.1,630 1305.7,631.9 1307.4,633.7 1309,635.3 1310.6,636.8 1312.3,638.1 1313.9,639.2 1315.6,640.1 1317.2,640.9 1318.9,641.5 1320.5,641.9 1322.2,642.2 1323.8,642.3" fill="none" stroke="#000000" stroke-width="4.8" stroke-dasharray="20 7 5 7" stroke-linejoin="round"/></g>
<path d="M600.1 141.9L612.4 160.5L587.8 160.5Z" stroke="#000000" stroke-width="5.0" fill="#000000" fill-opacity="0.85" stroke-linejoin="round"/>
<path d="M665.9 388.2L678.2 406.8L653.6 406.8Z" stroke="#000000" stroke-width="5.0" fill="#000000" fill-opacity="0.85" stroke-linejoin="round"/>
<path d="M731.6 223.3L743.9 241.9L719.4 241.9Z" stroke="#000000" stroke-width="5.0" fill="#000000" fill-opacity="0.85" stroke-linejoin="round"/>
<path d="M797.4 175.2L809.7 193.8L785.1 193.8Z" stroke="#000000" stroke-width="5.0" fill="#000000" fill-opacity="0.85" stroke-linejoin="round"/>
<path d="M863.2 291.8L875.5 310.4L850.9 310.4Z" stroke="#000000" stroke-width="5.0" fill="#000000" fill-opacity="0.85" stroke-linejoin="round"/>
<path d="M929 6.2L941.3 24.8L916.7 24.8Z" stroke="#000000" stroke-width="5.0" fill="#000000" fill-opacity="0.85" stroke-linejoin="round"/>
<path d="M994.8 353.3L1007.1 371.9L982.5 371.9Z" stroke="#000000" stroke-width="5.0" fill="#000000" fill-opacity="0.85" stroke-linejoin="round"/>
<path d="M1060.6 377.2L1072.9 395.8L1048.3 395.8Z" stroke="#000000" stroke-width="5.0" fill="#000000" fill-opacity="0.85" stroke-linejoin="round"/>
<path d="M1126.4 93.5L1138.7 112.1L1114.1 112.1Z" stroke="#000000" stroke-width="5.0" fill="#000000" fill-opacity="0.85" stroke-linejoin="round"/>
<path d="M1192.2 201.8L1204.5 220.4L1179.9 220.4Z" stroke="#000000" stroke-width="5.0" fill="#000000" fill-opacity="0.85" stroke-linejoin="round"/>
<path d="M1258 503.3L1270.3 521.9L1245.7 521.9Z" stroke="#000000" stroke-width="5.0" fill="#000000" fill-opacity="0.85" stroke-linejoin="round"/>
<g clip-path="url(#cT)"><polyline points="139.5,152.8 141.1,160.8 142.8,168.9 144.4,160.2 146.1,151.5 147.7,155.5 149.4,159.7 151,160.3 152.7,161.1 154.3,161.7 155.9,162.3 157.6,170.1 159.2,177.8 160.9,172.9 162.5,167.8 164.2,171 165.8,173.8 167.5,163.3 169.1,152.1 170.8,157.5 172.4,162 174,161.2 175.7,160.2 177.3,156.9 179,153.7 180.6,152.6 182.3,152.1 183.9,152.3 185.6,153.4 187.2,151.4 188.8,149.7 190.5,147.6 192.1,145.7 193.8,149.5 195.4,153.3 197.1,150.3 198.7,147.1 200.4,151.9 202,156.4 203.6,155.6 205.3,154.7 206.9,149 208.6,143.1 210.2,146 211.9,148.8 213.5,151.7 215.2,154.5 216.8,152.5 218.5,150.3 220.1,146.7 221.7,143.1 223.4,137 225,130.4 226.7,135.8 228.3,140.8 230,137.6 231.6,134.3 233.3,126.7 234.9,119.1 236.5,122.7 238.2,126.6 239.8,122.2 241.5,118.1 243.1,112.2 244.8,106.4 246.4,105.9 248.1,105.4 249.7,105.6 251.4,105.9 253,102.5 254.6,99.1 256.3,107.8 257.9,116.5 259.6,103.8 261.2,91.2 262.9,96.7 264.5,102.2 266.2,103.2 267.8,104.2 269.4,96.8 271.1,89.2 272.7,85 274.4,80.8 276,83 277.7,85.2 279.3,85.7 281,86.2 282.6,80.7 284.2,75.3 285.9,74.1 287.5,73.1 289.2,66.7 290.8,60.5 292.5,61.8 294.1,63.3 295.8,64.4 297.4,65.5 299.1,61.5 300.7,57.5 302.3,61.2 304,65 305.6,66.7 307.3,68.3 308.9,62.2 310.6,56 312.2,55.4 313.9,54.8 315.5,56.4 317.1,57.7 318.8,58.1 320.4,58.2 322.1,54.9 323.7,52.1 325.4,55 327,56.8 328.7,51.7 330.3,47.9 331.9,47.4 333.6,46.8 335.2,46.1 336.9,45.2 338.5,44.2 340.2,43.2 341.8,42.2 343.5,41.2 345.1,40.2 346.8,39.1 348.4,38.1 350,37 351.7,36 353.3,34.9 355,33.9 356.6,32.8 358.3,31.7 359.9,30.6 361.6,29.5 363.2,28.4 364.8,27.3 366.5,26.2 368.1,25.1 369.8,24 371.4,22.9 373.1,21.7 374.7,20.6 376.4,19.5 378,18.3 379.6,17.2 381.3,16 382.1,15.5 382.9,16.1 384.6,17.3 386.2,18.4 387.9,19.6 389.5,20.8 391.2,22 392.8,23.2 394.5,24.4 396.1,25.6 397.7,26.8 399.4,28 401,29.2 402.7,30.5 404.3,31.7 406,32.9 407.6,34.2 409.3,35.4 410.9,36.7 412.5,38 414.2,39.2 415.8,40.5 417.5,41.7 419.1,43 420.8,44.2 422.4,45.5 424.1,46.8 425.7,48 427.4,49.2 429,50.5 430.6,51.7 432.3,53 433.9,54.2 435.6,55.4 437.2,56.6 438.9,57.8 440.5,59 442.2,60.1 443.8,61.3 445.4,62.4 447.1,63.6 448.7,64.7 450.4,65.8 452,66.8 453.7,67.9 455.3,68.9 457,69.9 458.6,70.9 460.2,71.9 461.9,72.8 463.5,73.7 465.2,74.6 466.8,75.5 468.5,76.3 470.1,77.1 471.8,77.8 473.4,78.5 475.1,79.2 476.7,79.9 478.3,80.5 480,81 481.6,81.5 483.3,82 484.9,82.4 486.6,82.8 488.2,83.2 489.9,83.4 491.5,83.7 493.1,83.9 494.8,84 496.4,84.1 498.1,84.1 499.7,84.1 501.4,84.1 503,84 504.7,83.9 506.3,83.7 507.9,83.5 509.6,83.2 511.2,82.8 512.9,82.4 514.5,82 516.2,81.5 517.8,80.9 519.5,80.2 521.1,79.5 522.8,78.7 524.4,77.9 526,76.9 527.7,75.9 529.3,74.8 531,73.7 532.6,72.4 534.3,71.1 535.9,69.8 537.6,68.3 539.2,66.8 540.8,65.2 542.5,63.5 544.1,61.8 545.8,60 547.4,58.1 549.1,56.1 550.7,54.1 552.4,52.1 554,49.9 555.6,47.8 557.3,45.5 558.9,43.2 560.6,40.9 562.2,38.4 563.9,36 565.5,33.5 567.2,30.9 568.8,28.3 570.5,25.7 572.1,23 573.7,20.2 575.4,17.4 576.5,15.5 577,16.4 578.7,19.3 580.3,22.3 582,25.3 583.6,28.5 585.3,31.7 586.9,35.1 588.5,38.5 590.2,42 591.8,45.6 593.5,49.4 595.1,53.2 596.8,57.1 598.4,61.1 600.1,65.3 601.7,69.8 603.4,75.4 605,81.5 606.6,87.2 608.3,92 609.9,96.8 611.6,101.6 613.2,106.5 614.9,111.5 616.5,116.5 618.2,121.7 619.8,127.4 621.4,134.3 623.1,142.2 624.7,150.9 626.4,160.2 628,169.7 629.7,179.2 631.3,188.7 633,198.6 634.6,208.8 636.2,219.6 637.9,231 639.5,244 641.2,258.7 642.8,273.5 644.5,285.9 646.1,295.1 647.8,307.8 649.4,341.9 651.1,382.1 652.7,410.7 654.3,437.4 656,455.6 657.6,467.7 659.3,479.8 660.9,491.8 662.6,503.7 664.2,515.7 665.9,527.6 667.5,541.1 669.1,557.9 670.8,577.9 672.4,600.8 674.1,626.5 675.7,654.8 677.4,685.4 679,717.9 680.7,751.7 682.3,786.3 683.9,820.8 685.6,857.3 687.2,896.7 688.9,939.1 690.5,984.6 692.2,1032.9 693.8,1084.1 695.5,1138.2 697.1,1196.5 698.8,1259.2 700.4,1326.4 702,1397.8 703.7,1473.4 705.3,1553 707,1637.6 708.6,1729.6 710.3,1831.2 711.9,1938.2 713.6,2063.1 715.2,2246.8 716.8,2547.4 718.5,2720.7 720.1,2850.2 721.8,2957 723.4,3053.5 725.1,3143.3 726.7,3212.6 728.4,3280.5 730,3370.4 731.6,3542 733.3,3462.7 734.9,3323 736.6,3193.3 738.2,3056.1 739.9,2926.7 741.5,2805.5 743.2,2689 744.8,2576.1 746.5,2466 748.1,2365.1 749.7,2268 751.4,2165.4 753,2049.1 754.7,1900.7 756.3,1739.4 758,1591.7 759.6,1475.3 761.3,1389.2 762.9,1315.1 764.5,1249.7 766.2,1190.2 767.8,1134.5 769.5,1080.9 771.1,1030.2 772.8,982.4 774.4,937.6 776.1,895.7 777.7,856.8 779.4,820.8 781,787.7 782.6,757.4 784.3,729.3 785.9,702.8 787.6,677.4 789.2,652.7 790.9,628.3 792.5,604 794.2,579.5 795.8,554.7 797.4,529.4 799.1,502.1 800.7,473.7 802.4,447.8 804,424 805.7,401.7 807.3,381.2 809,362.5 810.6,346 812.2,329.3 813.9,312.4 815.5,296 817.2,280.7 818.8,266.6 820.5,253.5 822.1,241.1 823.8,229.4 825.4,218.1 827.1,207.3 828.7,197 830.3,187.2 832,177.7 833.6,168.5 835.3,159.4 836.9,150.5 838.6,141.9 840.2,133.9 841.9,126.5 843.5,119.8 845.1,113.5 846.8,107.4 848.4,101.6 850.1,96.3 851.7,91.3 853.4,86.8 855,82.7 856.7,78.9 858.3,75.2 859.9,71.6 861.6,67.9 863.2,64.1 864.9,60.3 866.5,56.6 868.2,52.9 869.8,49.3 871.5,45.7 873.1,42.2 874.8,38.7 876.4,35.4 878,32 879.7,28.8 881.3,25.6 883,22.5 884.6,19.4 886.3,16.4 886.8,15.5 887.9,17.5 889.6,20.4 891.2,23.3 892.8,26.1 894.5,28.9 896.1,31.7 897.8,34.5 899.4,37.2 901.1,39.8 902.7,42.4 904.4,45 906,47.5 907.7,49.9 909.3,52.3 910.9,54.7 912.6,56.9 914.2,59.2 915.9,61.3 917.5,63.4 919.2,65.4 920.8,67.3 922.5,69.2 924.1,71 925.7,72.7 927.4,74.4 929,75.8 930.7,77.1 932.3,78.2 934,79.2 935.6,80.1 937.3,80.8 938.9,81.4 940.5,81.9 942.2,82.3 943.8,82.6 945.5,82.8 947.1,83 948.8,83.2 950.4,83.3 952.1,83.4 953.7,83.5 955.4,83.6 957,83.8 958.6,84 960.3,84.2 961.9,84.3 963.6,84.4 965.2,84.4 966.9,84.4 968.5,84.4 970.2,84.3 971.8,84.1 973.4,83.9 975.1,83.7 976.7,83.4 978.4,83 980,82.6 981.7,82.2 983.3,81.8 985,81.2 986.6,80.7 988.2,80.1 989.9,79.5 991.5,78.8 993.2,78.1 994.8,77.4 996.5,76.7 998.1,75.9 999.8,75.2 1001.4,74.4 1003.1,73.6 1004.7,72.8 1006.3,72 1008,71.2 1009.6,70.3 1011.3,69.4 1012.9,68.5 1014.6,67.6 1016.2,66.6 1017.9,65.6 1019.5,64.5 1021.1,63.4 1022.8,62.3 1024.4,61.2 1026.1,60 1027.7,58.8 1029.4,57.6 1031,56.4 1032.7,55.2 1034.3,53.9 1035.9,52.7 1037.6,51.4 1039.2,50.1 1040.9,48.8 1042.5,47.5 1044.2,46.1 1045.8,44.8 1047.5,43.4 1049.1,42.1 1050.8,40.7 1052.4,39.4 1054,38 1055.7,36.6 1057.3,35.3 1059,33.9 1060.6,32.5 1062.3,31.1 1063.9,29.8 1065.6,28.4 1067.2,27 1068.8,25.6 1070.5,24.3 1072.1,22.9 1073.8,21.6 1075.4,20.2 1077.1,18.9 1078.7,17.5 1080.4,16.2 1081.2,15.5 1082,16.1 1083.7,17.5 1085.3,18.8 1086.9,20.1 1088.6,21.5 1090.2,22.8 1091.9,24.1 1093.5,25.4 1095.2,26.8 1096.8,28.1 1098.5,29.4 1100.1,30.7 1101.7,32.1 1103.4,33.4 1105,34.7 1106.7,36 1108.3,37.3 1110,38.6 1111.6,39.9 1113.3,41.2 1114.9,42.2 1116.5,43.7 1118.2,46.4 1119.8,50.1 1121.5,50.6 1123.1,50.3 1124.8,50.9 1126.4,51.2 1128.1,54.7 1129.7,58.7 1131.4,60.9 1133,63.2 1134.6,60.1 1136.3,56.3 1137.9,60.6 1139.6,65.4 1141.2,70.2 1142.9,75 1144.5,72.6 1146.2,70.2 1147.8,66 1149.4,61.7 1151.1,67.5 1152.7,73.2 1154.4,69.4 1156,65.6 1157.7,64.6 1159.3,63.6 1161,69.9 1162.6,76.2 1164.2,81.3 1165.9,86.4 1167.5,88 1169.2,89.6 1170.8,86.2 1172.5,82.7 1174.1,80.6 1175.8,78.4 1177.4,81.5 1179.1,84.7 1180.7,84.7 1182.3,84.7 1184,89.1 1185.6,93.6 1187.3,92.1 1188.9,90.5 1190.6,92.7 1192.2,94.9 1193.9,97.2 1195.5,99.7 1197.1,104.5 1198.8,109.5 1200.4,112.2 1202.1,115 1203.7,113 1205.4,111.2 1207,115.4 1208.7,119.6 1210.3,121.1 1211.9,122.6 1213.6,118.9 1215.2,115.1 1216.9,119.6 1218.5,124 1220.2,117.5 1221.8,110.9 1223.5,116.8 1225.1,122.7 1226.8,129.6 1228.4,136.4 1230,132.8 1231.7,129.2 1233.3,132 1235,134.7 1236.6,139.5 1238.3,144.4 1239.9,139.2 1241.6,134.1 1243.2,141.7 1244.8,149.4 1246.5,155.4 1248.1,161.4 1249.8,151.9 1251.4,142.3 1253.1,148.1 1254.7,153.9 1256.4,152.5 1258,151 1259.7,154 1261.3,157 1262.9,159.5 1264.6,162.1 1266.2,153.2 1267.9,144.3 1269.5,154.1 1271.2,163.9 1272.8,160 1274.5,156 1276.1,152.2 1277.7,148.2 1279.4,153.2 1281,158.2 1282.7,159.1 1284.3,159.9 1286,159.3 1287.6,158.7 1289.3,156.1 1290.9,153.6 1292.5,159.4 1294.2,165.1 1295.8,160.2 1297.5,155.2 1299.1,155.3 1300.8,155.5 1302.4,149.8 1304.1,144.1 1305.7,153 1307.4,161.9 1309,163.9 1310.6,165.9 1312.3,160.1 1313.9,154.3 1315.6,158.3 1317.2,162.2 1318.9,159.8 1320.5,157.4 1322.2,158.4 1323.8,159.4" fill="none" stroke="#c400c4" stroke-width="4.8" stroke-linejoin="round"/></g>
<path d="M127 152.8L152 152.8M139.5 140.3L139.5 165.3" stroke="#c400c4" stroke-width="5.0" fill="none"/>
<path d="M192.8 154.7L217.8 154.7M205.3 142.2L205.3 167.2" stroke="#c400c4" stroke-width="5.0" fill="none"/>
<path d="M258.6 89.2L283.6 89.2M271.1 76.7L271.1 101.7" stroke="#c400c4" stroke-width="5.0" fill="none"/>
<path d="M324.4 45.2L349.4 45.2M336.9 32.7L336.9 57.7" stroke="#c400c4" stroke-width="5.0" fill="none"/>
<path d="M390.2 30.5L415.2 30.5M402.7 18L402.7 43" stroke="#c400c4" stroke-width="5.0" fill="none"/>
<path d="M456 76.3L481 76.3M468.5 63.8L468.5 88.8" stroke="#c400c4" stroke-width="5.0" fill="none"/>
<path d="M521.8 71.1L546.8 71.1M534.3 58.6L534.3 83.6" stroke="#c400c4" stroke-width="5.0" fill="none"/>
<path d="M587.6 65.3L612.6 65.3M600.1 52.8L600.1 77.8" stroke="#c400c4" stroke-width="5.0" fill="none"/>
<path d="M653.4 527.6L678.4 527.6M665.9 515.1L665.9 540.1" stroke="#c400c4" stroke-width="5.0" fill="none"/>
<path d="M784.9 529.4L809.9 529.4M797.4 516.9L797.4 541.9" stroke="#c400c4" stroke-width="5.0" fill="none"/>
<path d="M850.7 64.1L875.7 64.1M863.2 51.6L863.2 76.6" stroke="#c400c4" stroke-width="5.0" fill="none"/>
<path d="M916.5 75.8L941.5 75.8M929 63.3L929 88.3" stroke="#c400c4" stroke-width="5.0" fill="none"/>
<path d="M982.3 77.4L1007.3 77.4M994.8 64.9L994.8 89.9" stroke="#c400c4" stroke-width="5.0" fill="none"/>
<path d="M1048.1 32.5L1073.1 32.5M1060.6 20L1060.6 45" stroke="#c400c4" stroke-width="5.0" fill="none"/>
<path d="M1113.9 51.2L1138.9 51.2M1126.4 38.7L1126.4 63.7" stroke="#c400c4" stroke-width="5.0" fill="none"/>
<path d="M1179.7 94.9L1204.7 94.9M1192.2 82.4L1192.2 107.4" stroke="#c400c4" stroke-width="5.0" fill="none"/>
<path d="M1245.5 151L1270.5 151M1258 138.5L1258 163.5" stroke="#c400c4" stroke-width="5.0" fill="none"/>
<path d="M1311.3 159.4L1336.3 159.4M1323.8 146.9L1323.8 171.9" stroke="#c400c4" stroke-width="5.0" fill="none"/>
<g clip-path="url(#cT)"><polyline points="139.5,188 141.1,186.6 142.8,185.1 144.4,186.1 146.1,187.2 147.7,188.4 149.4,189.6 151,187.9 152.7,186.3 154.3,187.4 155.9,188.6 157.6,185.4 159.2,182.2 160.9,178.4 162.5,174.7 164.2,179.6 165.8,184.5 167.5,184.7 169.1,185 170.8,182 172.4,179 174,179.4 175.7,179.9 177.3,180.8 179,181.7 180.6,184.7 182.3,187.8 183.9,185.6 185.6,183.3 187.2,181.5 188.8,179.7 190.5,185.5 192.1,191.2 193.8,188.8 195.4,186.4 197.1,190.2 198.7,194 200.4,192.1 202,190.1 203.6,186.2 205.3,182.2 206.9,182.3 208.6,182.4 210.2,184.6 211.9,186.8 213.5,181.9 215.2,177 216.8,176.6 218.5,176.2 220.1,176.4 221.7,176.6 223.4,181.4 225,186.2 226.7,180.8 228.3,175.3 230,173.1 231.6,170.8 233.3,169.4 234.9,167.9 236.5,171.4 238.2,174.8 239.8,170.8 241.5,166.8 243.1,167 244.8,167.2 246.4,165.4 248.1,163.7 249.7,157.1 251.4,150.6 253,154.3 254.6,157.9 256.3,154.2 257.9,150.5 259.6,146.4 261.2,142.3 262.9,144.7 264.5,147.2 266.2,144.3 267.8,141.4 269.4,139.5 271.1,137.6 272.7,135.8 274.4,134.1 276,136 277.7,137.9 279.3,132.7 281,127.5 282.6,122.3 284.2,117.1 285.9,123.4 287.5,129.7 289.2,121.4 290.8,113.1 292.5,113.5 294.1,113.9 295.8,114.3 297.4,114.8 299.1,105.9 300.7,97 302.3,98.8 304,100.5 305.6,104.3 307.3,108.1 308.9,102.9 310.6,97.7 312.2,94.7 313.9,91.9 315.5,92.1 317.1,92 318.8,88.5 320.4,85.4 322.1,85 323.7,84.3 325.4,81.6 327,79.1 328.7,76.9 330.3,74.8 331.9,74.6 333.6,73.6 335.2,71.3 336.9,69.3 338.5,67.4 340.2,65.5 341.8,63.6 343.5,61.7 345.1,59.8 346.8,57.8 348.4,55.9 350,53.9 351.7,52 353.3,50 355,48.1 356.6,46.1 358.3,44.1 359.9,42.1 361.6,40.2 363.2,38.2 364.8,36.2 366.5,34.2 368.1,32.3 369.8,30.3 371.4,28.3 373.1,26.3 374.7,24.3 376.4,22.4 378,20.4 379.6,18.4 381.3,16.4 382.1,15.5 382.9,16.5 384.6,18.5 386.2,20.5 387.9,22.5 389.5,24.5 391.2,26.6 392.8,28.6 394.5,30.7 396.1,32.8 397.7,34.9 399.4,37 401,39.1 402.7,41.3 404.3,43.4 406,45.6 407.6,47.8 409.3,49.9 410.9,52.1 412.5,54.3 414.2,56.5 415.8,58.8 417.5,61 419.1,63.2 420.8,65.4 422.4,67.7 424.1,69.9 425.7,72.1 427.4,74.4 429,76.6 430.6,78.9 432.3,81.1 433.9,83.4 435.6,85.6 437.2,87.8 438.9,90.4 440.5,93.9 442.2,97.6 443.8,100.3 445.4,102.5 447.1,104.7 448.7,106.9 450.4,109 452,111.1 453.7,113.1 455.3,115.1 457,117 458.6,118.9 460.2,120.7 461.9,122.5 463.5,124.3 465.2,126 466.8,127.6 468.5,129.2 470.1,130.8 471.8,132.4 473.4,134 475.1,135.6 476.7,137.2 478.3,138.8 480,140.4 481.6,142 483.3,143.4 484.9,144.8 486.6,146.1 488.2,147.3 489.9,148.3 491.5,149.2 493.1,149.9 494.8,150.4 496.4,150.6 498.1,150.6 499.7,150.5 501.4,150.2 503,149.7 504.7,149 506.3,148.2 507.9,147.2 509.6,146.1 511.2,144.8 512.9,143.3 514.5,141.8 516.2,140 517.8,138.2 519.5,136.2 521.1,133.8 522.8,131.1 524.4,128.1 526,125 527.7,121.9 529.3,118.8 531,115.8 532.6,113 534.3,110.4 535.9,107.9 537.6,105.2 539.2,102.4 540.8,99.6 542.5,96.6 544.1,93.5 545.8,90.3 547.4,87 549.1,83.6 550.7,80.1 552.4,76.6 554,72.9 555.6,69.1 557.3,65.3 558.9,61.4 560.6,57.4 562.2,53.3 563.9,49.2 565.5,45 567.2,40.8 568.8,36.4 570.5,32.1 572.1,27.6 573.7,23.1 575.4,18.6 576.5,15.5 577,16.9 578.7,21.6 580.3,26.5 582,31.5 583.6,36.6 585.3,42 586.9,47.5 588.5,53.1 590.2,58.9 591.8,65 593.5,71.1 595.1,77.5 596.8,84.1 598.4,90.8 600.1,97.7 601.7,105.2 603.4,114.4 605,125.3 606.6,137.7 608.3,151.6 609.9,166.3 611.6,181.1 613.2,194.9 614.9,207.1 616.5,219 618.2,231.1 619.8,243.4 621.4,256.3 623.1,269.8 624.7,284.3 626.4,299.7 628,316.1 629.7,333.3 631.3,351.4 633,370.3 634.6,389.8 636.2,409.9 637.9,430.3 639.5,451 641.2,472.1 642.8,494 644.5,516.7 646.1,541.7 647.8,569.3 649.4,595.1 651.1,610.1 652.7,612.9 654.3,633.7 656,659 657.6,688.3 659.3,721.1 660.9,756.7 662.6,794.4 664.2,833 665.9,871.3 667.5,909.7 669.1,949.9 670.8,991.8 672.4,1035.4 674.1,1080.7 675.7,1127.6 677.4,1175.9 679,1225.5 680.7,1276.1 682.3,1327.5 683.9,1380.6 685.6,1436.2 687.2,1495.2 688.9,1558.6 690.5,1626.2 692.2,1699.2 693.8,1779.3 695.5,1871.6 697.1,1985.4 698.8,2096.4 700.4,2183.7 702,2261.1 703.7,2332.8 705.3,2403.1 707,2477 708.6,2560.1 710.3,2658.8 711.9,2767.6 713.6,2875 715.2,2967.8 716.8,3045.9 718.5,3117.3 720.1,3182.9 721.8,3244 723.4,3302.1 725.1,3361.2 726.7,3424.4 728.4,3482.5 730,3525.3 731.6,3542 733.3,3531.1 734.9,3501.1 736.6,3455.4 738.2,3398 739.9,3332.6 741.5,3262.6 743.2,3166.7 744.8,3046.3 746.5,2943.4 748.1,2859 749.7,2781.4 751.4,2707.3 753,2633.9 754.7,2558.5 756.3,2485.8 758,2420.8 759.6,2354.8 761.3,2280.2 762.9,2190.5 764.5,2052.8 766.2,1836 767.8,1739.5 769.5,1666 771.1,1605.1 772.8,1550.3 774.4,1495.6 776.1,1437.2 777.7,1378.3 779.4,1320.9 781,1265.8 782.6,1213.8 784.3,1165.5 785.9,1121.2 787.6,1081.2 789.2,1044.8 790.9,1010.6 792.5,977.5 794.2,944.5 795.8,910.8 797.4,875.7 799.1,836.6 800.7,792.6 802.4,747.2 804,703.2 805.7,662.9 807.3,627.7 809,599 810.6,577.5 812.2,587 813.9,577.4 815.5,555.9 817.2,532.8 818.8,509.8 820.5,487.9 822.1,466.8 823.8,445.6 825.4,423.4 827.1,396.7 828.7,357 830.3,327.2 832,313.8 833.6,301.3 835.3,289 836.9,276.8 838.6,263.4 840.2,246 841.9,228.7 843.5,215.1 845.1,203.5 846.8,192.7 848.4,182 850.1,171.2 851.7,160.5 853.4,150.3 855,140.9 856.7,132.3 858.3,125.4 859.9,120.7 861.6,115.9 863.2,109.2 864.9,101.3 866.5,93.7 868.2,86.2 869.8,78.8 871.5,71.7 873.1,64.8 874.8,58.1 876.4,51.6 878,45.4 879.7,39.3 881.3,33.4 883,27.8 884.6,22.3 886.3,17.1 886.8,15.5 887.9,19 889.6,24 891.2,28.9 892.8,33.8 894.5,38.5 896.1,43.2 897.8,47.8 899.4,52.3 901.1,56.7 902.7,61 904.4,65.1 906,69.2 907.7,73.2 909.3,77.1 910.9,80.8 912.6,84.5 914.2,88 915.9,91.4 917.5,94.8 919.2,98 920.8,101.1 922.5,104.1 924.1,107 925.7,109.9 927.4,112.6 929,115.3 930.7,117.8 932.3,120.3 934,122.7 935.6,125.1 937.3,127.4 938.9,129.6 940.5,131.7 942.2,133.7 943.8,135.6 945.5,137.5 947.1,139.2 948.8,140.8 950.4,142.3 952.1,143.7 953.7,144.9 955.4,146.2 957,147.5 958.6,148.7 960.3,149.6 961.9,150.3 963.6,150.6 965.2,150.6 966.9,150.5 968.5,150.2 970.2,149.8 971.8,149.3 973.4,148.6 975.1,147.8 976.7,146.9 978.4,145.8 980,144.7 981.7,143.4 983.3,142.1 985,140.6 986.6,139.1 988.2,137.5 989.9,135.8 991.5,134 993.2,132.2 994.8,130.3 996.5,128.3 998.1,126.2 999.8,123.9 1001.4,121.6 1003.1,119.1 1004.7,116.7 1006.3,114.2 1008,111.8 1009.6,109.4 1011.3,107 1012.9,104.6 1014.6,102.4 1016.2,100.2 1017.9,98.1 1019.5,96 1021.1,93.9 1022.8,91.7 1024.4,89.6 1026.1,87.4 1027.7,85.2 1029.4,83 1031,80.8 1032.7,78.7 1034.3,76.4 1035.9,74.2 1037.6,72 1039.2,69.8 1040.9,67.6 1042.5,65.4 1044.2,63.2 1045.8,61 1047.5,58.8 1049.1,56.6 1050.8,54.4 1052.4,52.2 1054,50 1055.7,47.9 1057.3,45.7 1059,43.5 1060.6,41.4 1062.3,39.3 1063.9,37.1 1065.6,35 1067.2,32.9 1068.8,30.8 1070.5,28.7 1072.1,26.7 1073.8,24.6 1075.4,22.6 1077.1,20.5 1078.7,18.5 1080.4,16.5 1081.2,15.5 1082,16.5 1083.7,18.4 1085.3,20.4 1086.9,22.4 1088.6,24.4 1090.2,26.4 1091.9,28.4 1093.5,30.5 1095.2,32.5 1096.8,34.5 1098.5,36.5 1100.1,38.5 1101.7,40.5 1103.4,42.6 1105,44.6 1106.7,46.6 1108.3,48.6 1110,50.6 1111.6,52.6 1113.3,54.6 1114.9,56.7 1116.5,58.8 1118.2,60.9 1119.8,62.9 1121.5,64.8 1123.1,66.5 1124.8,68.6 1126.4,70.6 1128.1,71.7 1129.7,72.6 1131.4,75.6 1133,78.7 1134.6,81.8 1136.3,85.1 1137.9,87.4 1139.6,89.7 1141.2,85.4 1142.9,81.2 1144.5,86.1 1146.2,91 1147.8,94 1149.4,97.1 1151.1,100.1 1152.7,103.1 1154.4,107 1156,110.9 1157.7,109.8 1159.3,108.8 1161,107.9 1162.6,107.1 1164.2,112.4 1165.9,117.6 1167.5,118.8 1169.2,120.1 1170.8,121.8 1172.5,123.4 1174.1,124.2 1175.8,124.9 1177.4,131.3 1179.1,137.6 1180.7,135.5 1182.3,133.3 1184,136.6 1185.6,139.9 1187.3,136.6 1188.9,133.4 1190.6,137.3 1192.2,141.3 1193.9,141.2 1195.5,141.2 1197.1,140.2 1198.8,139.4 1200.4,146.2 1202.1,153 1203.7,155.7 1205.4,158.3 1207,157.9 1208.7,157.5 1210.3,159.8 1211.9,162 1213.6,166.4 1215.2,170.6 1216.9,168 1218.5,165.2 1220.2,162.1 1221.8,158.9 1223.5,166.1 1225.1,173.4 1226.8,174.3 1228.4,175.1 1230,178.4 1231.7,181.6 1233.3,178.7 1235,175.8 1236.6,180.9 1238.3,186 1239.9,186.3 1241.6,186.6 1243.2,180.6 1244.8,174.6 1246.5,181.2 1248.1,187.6 1249.8,182.5 1251.4,177.4 1253.1,176.4 1254.7,175.4 1256.4,179.8 1258,184.1 1259.7,182.7 1261.3,181.2 1262.9,177.4 1264.6,173.6 1266.2,179.6 1267.9,185.5 1269.5,186.6 1271.2,187.6 1272.8,189.7 1274.5,191.8 1276.1,187.9 1277.7,184 1279.4,180 1281,175.9 1282.7,177.3 1284.3,178.6 1286,183.7 1287.6,188.9 1289.3,188.5 1290.9,188.1 1292.5,186.9 1294.2,185.8 1295.8,183.4 1297.5,180.9 1299.1,182 1300.8,183.1 1302.4,181.7 1304.1,180.3 1305.7,179.7 1307.4,179.2 1309,180.5 1310.6,181.7 1312.3,180.7 1313.9,179.6 1315.6,178.5 1317.2,177.5 1318.9,177.9 1320.5,178.3 1322.2,177.6 1323.8,177" fill="none" stroke="#00c0c0" stroke-width="4.8" stroke-dasharray="20 8" stroke-linejoin="round"/></g>
<path d="M149.5 188L129.5 175.4L129.5 200.6Z" stroke="#00c0c0" stroke-width="5.0" fill="#00c0c0" fill-opacity="0.85" stroke-linejoin="round"/>
<path d="M215.3 182.2L195.3 169.6L195.3 194.8Z" stroke="#00c0c0" stroke-width="5.0" fill="#00c0c0" fill-opacity="0.85" stroke-linejoin="round"/>
<path d="M281.1 137.6L261.1 125L261.1 150.2Z" stroke="#00c0c0" stroke-width="5.0" fill="#00c0c0" fill-opacity="0.85" stroke-linejoin="round"/>
<path d="M346.9 69.3L326.9 56.7L326.9 81.9Z" stroke="#00c0c0" stroke-width="5.0" fill="#00c0c0" fill-opacity="0.85" stroke-linejoin="round"/>
<path d="M412.7 41.3L392.7 28.7L392.7 53.9Z" stroke="#00c0c0" stroke-width="5.0" fill="#00c0c0" fill-opacity="0.85" stroke-linejoin="round"/>
<path d="M478.5 129.2L458.5 116.6L458.5 141.8Z" stroke="#00c0c0" stroke-width="5.0" fill="#00c0c0" fill-opacity="0.85" stroke-linejoin="round"/>
<path d="M544.3 110.4L524.3 97.8L524.3 123Z" stroke="#00c0c0" stroke-width="5.0" fill="#00c0c0" fill-opacity="0.85" stroke-linejoin="round"/>
<path d="M610.1 97.7L590.1 85.1L590.1 110.3Z" stroke="#00c0c0" stroke-width="5.0" fill="#00c0c0" fill-opacity="0.85" stroke-linejoin="round"/>
<path d="M873.2 109.2L853.2 96.6L853.2 121.8Z" stroke="#00c0c0" stroke-width="5.0" fill="#00c0c0" fill-opacity="0.85" stroke-linejoin="round"/>
<path d="M939 115.3L919 102.7L919 127.9Z" stroke="#00c0c0" stroke-width="5.0" fill="#00c0c0" fill-opacity="0.85" stroke-linejoin="round"/>
<path d="M1004.8 130.3L984.8 117.7L984.8 142.9Z" stroke="#00c0c0" stroke-width="5.0" fill="#00c0c0" fill-opacity="0.85" stroke-linejoin="round"/>
<path d="M1070.6 41.4L1050.6 28.8L1050.6 54Z" stroke="#00c0c0" stroke-width="5.0" fill="#00c0c0" fill-opacity="0.85" stroke-linejoin="round"/>
<path d="M1136.4 70.6L1116.4 58L1116.4 83.2Z" stroke="#00c0c0" stroke-width="5.0" fill="#00c0c0" fill-opacity="0.85" stroke-linejoin="round"/>
<path d="M1202.2 141.3L1182.2 128.7L1182.2 153.9Z" stroke="#00c0c0" stroke-width="5.0" fill="#00c0c0" fill-opacity="0.85" stroke-linejoin="round"/>
<path d="M1268 184.1L1248 171.5L1248 196.7Z" stroke="#00c0c0" stroke-width="5.0" fill="#00c0c0" fill-opacity="0.85" stroke-linejoin="round"/>
<path d="M1333.8 177L1313.8 164.4L1313.8 189.6Z" stroke="#00c0c0" stroke-width="5.0" fill="#00c0c0" fill-opacity="0.85" stroke-linejoin="round"/>
<g clip-path="url(#cT)"><polyline points="139.5,224.8 141.1,223.8 142.8,222.8 144.4,222.9 146.1,223.1 147.7,224.4 149.4,225.7 151,225.6 152.7,225.4 154.3,225.6 155.9,225.8 157.6,225 159.2,224.2 160.9,224.7 162.5,225.2 164.2,224.6 165.8,224 167.5,225.9 169.1,227.8 170.8,225.3 172.4,222.7 174,223.9 175.7,225.2 177.3,224.5 179,223.9 180.6,224.5 182.3,225.1 183.9,225.2 185.6,225.3 187.2,224.6 188.8,224 190.5,223.6 192.1,223.2 193.8,223.9 195.4,224.6 197.1,224.5 198.7,224.3 200.4,223.5 202,222.8 203.6,223.1 205.3,223.4 206.9,224.3 208.6,225.2 210.2,223.4 211.9,221.5 213.5,221.9 215.2,222.2 216.8,222.7 218.5,223 220.1,221.6 221.7,220.2 223.4,219.3 225,218.4 226.7,218.2 228.3,218 230,217.5 231.6,217 233.3,215 234.9,213.1 236.5,211.6 238.2,210.1 239.8,210.1 241.5,210 243.1,209.4 244.8,208.7 246.4,206.8 248.1,204.8 249.7,203.4 251.4,202 253,201.5 254.6,201.1 256.3,199.1 257.9,197.2 259.6,195.5 261.2,193.7 262.9,193.3 264.5,192.8 266.2,191.8 267.8,190.8 269.4,188.7 271.1,186.5 272.7,184.8 274.4,183 276,180.7 277.7,178.4 279.3,178.4 281,178.5 282.6,176.2 284.2,173.9 285.9,172.2 287.5,170.4 289.2,169.2 290.8,167.9 292.5,164.6 294.1,161.2 295.8,158.9 297.4,156.5 299.1,155.4 300.7,154.3 302.3,150.6 304,146.9 305.6,145.1 307.3,143.3 308.9,141.2 310.6,139.1 312.2,137 313.9,134.8 315.5,132.1 317.1,129.5 318.8,128.3 320.4,126.8 322.1,123.4 323.7,120 325.4,117.5 327,115 328.7,112.9 330.3,110.6 331.9,107.4 333.6,104.4 335.2,101.7 336.9,98.9 338.5,96.1 340.2,93.3 341.8,90.4 343.5,87.5 345.1,84.6 346.8,81.6 348.4,78.7 350,75.7 351.7,72.7 353.3,69.7 355,66.7 356.6,63.6 358.3,60.6 359.9,57.5 361.6,54.4 363.2,51.3 364.8,48.2 366.5,45.1 368.1,42 369.8,38.9 371.4,35.7 373.1,32.6 374.7,29.5 376.4,26.4 378,23.2 379.6,20.1 381.3,17 382.1,15.5 382.9,17.1 384.6,20.3 386.2,23.5 387.9,26.7 389.5,30 391.2,33.4 392.8,36.8 394.5,40.2 396.1,43.7 397.7,47.2 399.4,50.7 401,54.3 402.7,58 404.3,61.6 406,65.3 407.6,69.1 409.3,72.9 410.9,76.7 412.5,80.5 414.2,84.4 415.8,88.3 417.5,92.2 419.1,96.1 420.8,100.1 422.4,104 424.1,108 425.7,112.1 427.4,116.1 429,120.1 430.6,124.1 432.3,128.2 433.9,132.2 435.6,136.3 437.2,140.3 438.9,145.4 440.5,153 442.2,159.2 443.8,165.3 445.4,171.3 447.1,177.2 448.7,182.8 450.4,187.9 452,192.4 453.7,196.3 455.3,199.7 457,202.7 458.6,205.4 460.2,207.8 461.9,210.1 463.5,212.4 465.2,214.9 466.8,217.6 468.5,220.3 470.1,222.9 471.8,225.5 473.4,227.9 475.1,230.3 476.7,232.5 478.3,234.6 480,236.5 481.6,238.3 483.3,239.9 484.9,241.4 486.6,242.6 488.2,243.7 489.9,244.6 491.5,245.2 493.1,245.7 494.8,245.9 496.4,245.8 498.1,245.4 499.7,244.7 501.4,243.8 503,242.5 504.7,240.9 506.3,239.2 507.9,237.2 509.6,235.1 511.2,232.8 512.9,230.4 514.5,227.9 516.2,225.3 517.8,222.7 519.5,220 521.1,217.4 522.8,214.7 524.4,212 526,209.1 527.7,206 529.3,202.6 531,198.8 532.6,194.6 534.3,189.9 535.9,184.9 537.6,179.6 539.2,174 540.8,168.3 542.5,162.4 544.1,156.4 545.8,150.2 547.4,143.9 549.1,137.5 550.7,131 552.4,124.3 554,117.5 555.6,110.5 557.3,103.5 558.9,96.3 560.6,89.1 562.2,81.7 563.9,74.3 565.5,66.8 567.2,59.2 568.8,51.6 570.5,44 572.1,36.3 573.7,28.5 575.4,20.8 576.5,15.5 577,17.9 578.7,25.9 580.3,34.2 582,42.9 583.6,51.9 585.3,61.3 586.9,71 588.5,81.1 590.2,91.5 591.8,102.4 593.5,113.6 595.1,125.2 596.8,137.3 598.4,149.7 600.1,162.5 601.7,175.7 603.4,189.2 605,203 606.6,217.3 608.3,235.5 609.9,262.4 611.6,287.6 613.2,306.7 614.9,325.9 616.5,345.6 618.2,365.8 619.8,386.7 621.4,408 623.1,429.9 624.7,452.7 626.4,476.3 628,501.1 629.7,527.7 631.3,560.1 633,593.8 634.6,599.3 636.2,622.8 637.9,656.4 639.5,695.7 641.2,739.7 642.8,786.9 644.5,835.2 646.1,882 647.8,924 649.4,960.6 651.1,996.5 652.7,1032 654.3,1067.5 656,1103.3 657.6,1139.7 659.3,1177.2 660.9,1216.4 662.6,1260.5 664.2,1314.1 665.9,1368.5 667.5,1419.4 669.1,1469.9 670.8,1520.3 672.4,1571.2 674.1,1622.9 675.7,1675.3 677.4,1726.3 679,1777.3 680.7,1830.4 682.3,1888.2 683.9,1954.4 685.6,2056 687.2,2175.9 688.9,2270.4 690.5,2343.3 692.2,2409.5 693.8,2471.7 695.5,2532.7 697.1,2595.8 698.8,2662.6 700.4,2730.7 702,2798.8 703.7,2865.8 705.3,2930.2 707,2991.2 708.6,3050.5 710.3,3108.2 711.9,3163.5 713.6,3215.7 715.2,3263.9 716.8,3307.4 718.5,3346.8 720.1,3384.9 721.8,3420.9 723.4,3453.9 725.1,3483.1 726.7,3507.5 728.4,3526 730,3537.8 731.6,3542 733.3,3538.5 734.9,3528.4 736.6,3512.1 738.2,3490.1 739.9,3463 741.5,3431.2 743.2,3395.4 744.8,3356 746.5,3313.7 748.1,3268.8 749.7,3221.9 751.4,3171.8 753,3112.1 754.7,3045.2 756.3,2974.7 758,2904 759.6,2835.9 761.3,2769.5 762.9,2703.1 764.5,2636.8 766.2,2570.3 767.8,2503.9 769.5,2438.1 771.1,2374 772.8,2309.9 774.4,2244.8 776.1,2177.5 777.7,2106.5 779.4,2027.2 781,1943.9 782.6,1861.8 784.3,1785.4 785.9,1718.6 787.6,1661.9 789.2,1609.6 790.9,1560.1 792.5,1512.2 794.2,1464.9 795.8,1417.3 797.4,1368.6 799.1,1316.7 800.7,1263.6 802.4,1213.7 804,1170.5 805.7,1133.1 807.3,1097 809,1061.8 810.6,1027.1 812.2,992.4 813.9,957.6 815.5,921.8 817.2,878 818.8,827.3 820.5,774.4 822.1,722.8 823.8,675.2 825.4,633.5 827.1,598.9 828.7,572.3 830.3,551.8 832,534.9 833.6,519.5 835.3,504.2 836.9,487.6 838.6,468.6 840.2,444.9 841.9,408.7 843.5,374.3 845.1,350.9 846.8,330.2 848.4,310.6 850.1,291.5 851.7,273 853.4,255.1 855,238 856.7,221.7 858.3,206.1 859.9,191.2 861.6,177 863.2,163.6 864.9,150.7 866.5,138.2 868.2,126.2 869.8,114.5 871.5,103.3 873.1,92.4 874.8,81.9 876.4,71.8 878,62 879.7,52.6 881.3,43.4 883,34.6 884.6,26.2 886.3,18 886.8,15.5 887.9,21 889.6,28.9 891.2,36.9 892.8,45 894.5,53 896.1,61 897.8,69 899.4,77 901.1,84.9 902.7,92.8 904.4,100.6 906,108.4 907.7,116 909.3,123.5 910.9,130.9 912.6,138.2 914.2,145.3 915.9,152.2 917.5,158.9 919.2,165.5 920.8,171.4 922.5,176.2 924.1,180.4 925.7,184.2 927.4,188.2 929,192.7 930.7,197.1 932.3,201.3 934,205.3 935.6,209.1 937.3,212.8 938.9,216.3 940.5,219.7 942.2,222.9 943.8,226 945.5,228.9 947.1,231.5 948.8,234 950.4,236.2 952.1,238.3 953.7,240.1 955.4,241.6 957,243 958.6,244 960.3,244.9 961.9,245.5 963.6,245.8 965.2,245.9 966.9,245.7 968.5,245.3 970.2,244.7 971.8,243.8 973.4,242.8 975.1,241.5 976.7,240.1 978.4,238.5 980,236.7 981.7,234.7 983.3,232.6 985,230.4 986.6,228 988.2,225.5 989.9,222.9 991.5,220.1 993.2,217.3 994.8,214.4 996.5,211.4 998.1,208.2 999.8,205 1001.4,201.7 1003.1,198.3 1004.7,194.9 1006.3,191.3 1008,187.7 1009.6,184 1011.3,180.2 1012.9,176.4 1014.6,172.5 1016.2,168.6 1017.9,164.7 1019.5,160.7 1021.1,156.6 1022.8,152.6 1024.4,148.5 1026.1,144.4 1027.7,140.3 1029.4,136.2 1031,132 1032.7,127.9 1034.3,123.7 1035.9,119.6 1037.6,115.5 1039.2,111.3 1040.9,107.2 1042.5,103.1 1044.2,99 1045.8,94.9 1047.5,90.9 1049.1,86.9 1050.8,82.9 1052.4,78.9 1054,75 1055.7,71.1 1057.3,67.2 1059,63.3 1060.6,59.5 1062.3,55.8 1063.9,52 1065.6,48.4 1067.2,44.7 1068.8,41.1 1070.5,37.6 1072.1,34 1073.8,30.6 1075.4,27.2 1077.1,23.8 1078.7,20.5 1080.4,17.2 1081.2,15.5 1082,17 1083.7,20.3 1085.3,23.5 1086.9,26.8 1088.6,30 1090.2,33.3 1091.9,36.5 1093.5,39.7 1095.2,43 1096.8,46.2 1098.5,49.4 1100.1,52.7 1101.7,55.9 1103.4,59.1 1105,62.3 1106.7,65.4 1108.3,68.6 1110,71.8 1111.6,74.9 1113.3,78 1114.9,81.2 1116.5,84.5 1118.2,87.5 1119.8,90.3 1121.5,93.4 1123.1,96.4 1124.8,99.3 1126.4,102.1 1128.1,105.5 1129.7,108.9 1131.4,111.1 1133,113 1134.6,114.7 1136.3,116.1 1137.9,121.1 1139.6,126.3 1141.2,127.7 1142.9,129.1 1144.5,132.2 1146.2,135.2 1147.8,137.3 1149.4,139.4 1151.1,143.3 1152.7,147.2 1154.4,149 1156,150.8 1157.7,151.9 1159.3,152.9 1161,155.4 1162.6,158 1164.2,158.8 1165.9,159.6 1167.5,163.4 1169.2,167.1 1170.8,168.4 1172.5,169.6 1174.1,169.9 1175.8,170.2 1177.4,174.2 1179.1,178.2 1180.7,180 1182.3,181.8 1184,182.8 1185.6,183.8 1187.3,185.3 1188.9,186.9 1190.6,188.3 1192.2,189.7 1193.9,191 1195.5,192.3 1197.1,194.4 1198.8,196.4 1200.4,197 1202.1,197.5 1203.7,197.3 1205.4,197 1207,198.8 1208.7,200.6 1210.3,204.3 1211.9,207.9 1213.6,207.3 1215.2,206.6 1216.9,207.9 1218.5,209.2 1220.2,208.7 1221.8,208.2 1223.5,209.3 1225.1,210.3 1226.8,209.1 1228.4,207.8 1230,208.8 1231.7,209.8 1233.3,210 1235,210.2 1236.6,210.9 1238.3,211.5 1239.9,211.7 1241.6,212 1243.2,211.7 1244.8,211.5 1246.5,210.8 1248.1,210.1 1249.8,210.8 1251.4,211.4 1253.1,212.1 1254.7,212.9 1256.4,212.8 1258,212.7 1259.7,212.9 1261.3,213.3 1262.9,214.1 1264.6,215 1266.2,216.3 1267.9,217.7 1269.5,218.4 1271.2,219.1 1272.8,220.1 1274.5,221 1276.1,223 1277.7,224.9 1279.4,223.2 1281,221.4 1282.7,222.1 1284.3,222.8 1286,223.4 1287.6,224.1 1289.3,223.1 1290.9,222.2 1292.5,222.7 1294.2,223.2 1295.8,223.2 1297.5,223.3 1299.1,225.2 1300.8,227.2 1302.4,225.7 1304.1,224.2 1305.7,223.6 1307.4,223.1 1309,222.2 1310.6,221.4 1312.3,221.2 1313.9,221.1 1315.6,221.4 1317.2,221.6 1318.9,223.6 1320.5,225.5 1322.2,224.6 1323.8,223.7" fill="none" stroke="#008000" stroke-width="4.8" stroke-dasharray="5 7" stroke-linejoin="round"/></g>
<path d="M139.5 213L147.8 224.8L139.5 236.6L131.2 224.8Z" stroke="#008000" stroke-width="4.0" fill="#008000" fill-opacity="0.1" stroke-linejoin="round"/>
<path d="M205.3 211.6L213.6 223.4L205.3 235.2L197 223.4Z" stroke="#008000" stroke-width="4.0" fill="#008000" fill-opacity="0.1" stroke-linejoin="round"/>
<path d="M271.1 174.7L279.4 186.5L271.1 198.3L262.8 186.5Z" stroke="#008000" stroke-width="4.0" fill="#008000" fill-opacity="0.1" stroke-linejoin="round"/>
<path d="M336.9 87.1L345.2 98.9L336.9 110.7L328.6 98.9Z" stroke="#008000" stroke-width="4.0" fill="#008000" fill-opacity="0.1" stroke-linejoin="round"/>
<path d="M402.7 46.2L411 58L402.7 69.8L394.4 58Z" stroke="#008000" stroke-width="4.0" fill="#008000" fill-opacity="0.1" stroke-linejoin="round"/>
<path d="M468.5 208.5L476.8 220.3L468.5 232.1L460.2 220.3Z" stroke="#008000" stroke-width="4.0" fill="#008000" fill-opacity="0.1" stroke-linejoin="round"/>
<path d="M534.3 178.1L542.6 189.9L534.3 201.7L526 189.9Z" stroke="#008000" stroke-width="4.0" fill="#008000" fill-opacity="0.1" stroke-linejoin="round"/>
<path d="M600.1 150.7L608.4 162.5L600.1 174.3L591.8 162.5Z" stroke="#008000" stroke-width="4.0" fill="#008000" fill-opacity="0.1" stroke-linejoin="round"/>
<path d="M863.2 151.8L871.5 163.6L863.2 175.4L854.9 163.6Z" stroke="#008000" stroke-width="4.0" fill="#008000" fill-opacity="0.1" stroke-linejoin="round"/>
<path d="M929 180.9L937.3 192.7L929 204.5L920.7 192.7Z" stroke="#008000" stroke-width="4.0" fill="#008000" fill-opacity="0.1" stroke-linejoin="round"/>
<path d="M994.8 202.6L1003.1 214.4L994.8 226.2L986.5 214.4Z" stroke="#008000" stroke-width="4.0" fill="#008000" fill-opacity="0.1" stroke-linejoin="round"/>
<path d="M1060.6 47.7L1068.9 59.5L1060.6 71.3L1052.3 59.5Z" stroke="#008000" stroke-width="4.0" fill="#008000" fill-opacity="0.1" stroke-linejoin="round"/>
<path d="M1126.4 90.3L1134.7 102.1L1126.4 113.9L1118.1 102.1Z" stroke="#008000" stroke-width="4.0" fill="#008000" fill-opacity="0.1" stroke-linejoin="round"/>
<path d="M1192.2 177.9L1200.5 189.7L1192.2 201.5L1183.9 189.7Z" stroke="#008000" stroke-width="4.0" fill="#008000" fill-opacity="0.1" stroke-linejoin="round"/>
<path d="M1258 200.9L1266.3 212.7L1258 224.5L1249.7 212.7Z" stroke="#008000" stroke-width="4.0" fill="#008000" fill-opacity="0.1" stroke-linejoin="round"/>
<path d="M1323.8 211.9L1332.1 223.7L1323.8 235.5L1315.5 223.7Z" stroke="#008000" stroke-width="4.0" fill="#008000" fill-opacity="0.1" stroke-linejoin="round"/>
<g clip-path="url(#cT)"><polyline points="139.5,328.8 141.1,328.8 142.8,328.8 144.4,328.8 146.1,328.8 147.7,328.8 149.4,328.8 151,328.8 152.7,328.8 154.3,328.8 155.9,328.8 157.6,328.8 159.2,328.8 160.9,328.8 162.5,328.8 164.2,328.8 165.8,328.8 167.5,328.8 169.1,328.7 170.8,328.7 172.4,328.7 174,328.6 175.7,328.6 177.3,328.5 179,328.5 180.6,328.4 182.3,328.4 183.9,328.3 185.6,328.2 187.2,328.1 188.8,328 190.5,327.9 192.1,327.7 193.8,327.6 195.4,327.4 197.1,327.2 198.7,327.1 200.4,326.9 202,326.6 203.6,326.4 205.3,326.1 206.9,325.8 208.6,325.5 210.2,325.2 211.9,324.9 213.5,324.5 215.2,324.1 216.8,323.7 218.5,323.2 220.1,322.8 221.7,322.3 223.4,321.7 225,321.1 226.7,320.5 228.3,319.9 230,319.2 231.6,318.5 233.3,317.8 234.9,317 236.5,316.2 238.2,315.3 239.8,314.4 241.5,313.5 243.1,312.5 244.8,311.4 246.4,310.3 248.1,309.2 249.7,308 251.4,306.8 253,305.5 254.6,304.1 256.3,302.7 257.9,301.3 259.6,299.8 261.2,298.2 262.9,296.6 264.5,294.9 266.2,293.2 267.8,291.4 269.4,289.5 271.1,287.6 272.7,285.6 274.4,283.5 276,281.4 277.7,279.2 279.3,276.9 281,274.6 282.6,272.2 284.2,269.7 285.9,267.2 287.5,264.6 289.2,261.9 290.8,259.1 292.5,256.3 294.1,253.4 295.8,250.4 297.4,247.4 299.1,244.3 300.7,241.1 302.3,237.8 304,234.5 305.6,231.1 307.3,227.6 308.9,224.1 310.6,220.5 312.2,216.8 313.9,213 315.5,209.2 317.1,205.3 318.8,201.3 320.4,197.3 322.1,193.2 323.7,189 325.4,184.8 327,180.5 328.7,176.2 330.3,171.8 331.9,167.3 333.6,162.8 335.2,158.2 336.9,153.6 338.5,148.9 340.2,144.2 341.8,139.4 343.5,134.6 345.1,129.8 346.8,124.9 348.4,119.9 350,115 351.7,110 353.3,105 355,99.9 356.6,94.8 358.3,89.7 359.9,84.6 361.6,79.5 363.2,74.4 364.8,69.2 366.5,64.1 368.1,58.9 369.8,53.8 371.4,48.6 373.1,43.5 374.7,38.3 376.4,33.2 378,28.1 379.6,23 381.3,17.9 382.1,15.5 382.9,18.1 384.6,23.3 386.2,28.6 387.9,34 389.5,39.5 391.2,45.1 392.8,50.8 394.5,56.6 396.1,62.6 397.7,68.6 399.4,74.8 401,81.1 402.7,87.4 404.3,93.9 406,100.5 407.6,107.2 409.3,114 410.9,120.9 412.5,127.8 414.2,134.9 415.8,142 417.5,149.3 419.1,156.6 420.8,163.9 422.4,171.4 424.1,178.9 425.7,186.4 427.4,194 429,201.7 430.6,209.4 432.3,217.1 433.9,224.8 435.6,232.6 437.2,240.3 438.9,248.1 440.5,255.8 442.2,263.6 443.8,271.3 445.4,278.9 447.1,286.5 448.7,294.1 450.4,301.6 452,308.9 453.7,316.3 455.3,323.5 457,330.5 458.6,337.5 460.2,344.3 461.9,351 463.5,357.5 465.2,363.8 466.8,370 468.5,375.9 470.1,381.6 471.8,387.1 473.4,392.4 475.1,397.4 476.7,402.1 478.3,406.6 480,410.8 481.6,414.6 483.3,418.2 484.9,421.4 486.6,424.3 488.2,426.9 489.9,429 491.5,430.9 493.1,432.3 494.8,433.3 496.4,434 498.1,434.2 499.7,434 501.4,433.4 503,432.4 504.7,431 506.3,429.1 507.9,426.7 509.6,423.9 511.2,420.7 512.9,417 514.5,412.8 516.2,408.2 517.8,403.2 519.5,397.7 521.1,391.8 522.8,385.4 524.4,378.5 526,371.3 527.7,363.6 529.3,355.5 531,347 532.6,338.1 534.3,328.8 535.9,319.2 537.6,309.2 539.2,298.8 540.8,288.2 542.5,277.2 544.1,265.9 545.8,254.3 547.4,242.5 549.1,230.4 550.7,218.2 552.4,205.7 554,193.1 555.6,180.3 557.3,167.4 558.9,154.4 560.6,141.3 562.2,128.1 563.9,115 565.5,101.8 567.2,88.7 568.8,75.6 570.5,62.5 572.1,49.6 573.7,36.8 575.4,24.1 576.5,15.5 577,19.4 578.7,32.4 580.3,46.2 582,60.6 583.6,75.8 585.3,91.7 586.9,108.5 588.5,126.1 590.2,144.5 591.8,163.9 593.5,184.1 595.1,205.3 596.8,227.4 598.4,250.5 600.1,274.5 601.7,299.6 603.4,325.8 605,353 606.6,381.2 608.3,410.5 609.9,441 611.6,472.5 613.2,505.1 614.9,538.9 616.5,573.8 618.2,609.8 619.8,647 621.4,685.2 623.1,724.6 624.7,765.1 626.4,806.7 628,849.4 629.7,893.1 631.3,937.9 633,983.7 634.6,1030.6 636.2,1078.4 637.9,1127.1 639.5,1176.8 641.2,1227.3 642.8,1278.7 644.5,1330.9 646.1,1383.8 647.8,1437.5 649.4,1491.8 651.1,1546.7 652.7,1602.1 654.3,1658.1 656,1714.4 657.6,1771.2 659.3,1828.2 660.9,1885.5 662.6,1942.9 664.2,2000.5 665.9,2058 667.5,2115.5 669.1,2173 670.8,2230.2 672.4,2287.1 674.1,2343.7 675.7,2399.8 677.4,2455.5 679,2510.5 680.7,2564.9 682.3,2618.5 683.9,2671.3 685.6,2723.3 687.2,2774.2 688.9,2824 690.5,2872.7 692.2,2920.2 693.8,2966.4 695.5,3011.3 697.1,3054.7 698.8,3096.5 700.4,3136.9 702,3175.5 703.7,3212.5 705.3,3247.7 707,3281.1 708.6,3312.6 710.3,3342.1 711.9,3369.7 713.6,3395.3 715.2,3418.8 716.8,3440.1 718.5,3459.3 720.1,3476.4 721.8,3491.2 723.4,3503.8 725.1,3514.1 726.7,3522.2 728.4,3527.9 730,3531.4 731.6,3532.6 733.3,3531.4 734.9,3527.9 736.6,3522.2 738.2,3514.1 739.9,3503.8 741.5,3491.2 743.2,3476.4 744.8,3459.3 746.5,3440.1 748.1,3418.8 749.7,3395.3 751.4,3369.7 753,3342.1 754.7,3312.6 756.3,3281.1 758,3247.7 759.6,3212.5 761.3,3175.5 762.9,3136.9 764.5,3096.5 766.2,3054.7 767.8,3011.3 769.5,2966.4 771.1,2920.2 772.8,2872.7 774.4,2824 776.1,2774.2 777.7,2723.3 779.4,2671.3 781,2618.5 782.6,2564.9 784.3,2510.5 785.9,2455.5 787.6,2399.8 789.2,2343.7 790.9,2287.1 792.5,2230.2 794.2,2173 795.8,2115.5 797.4,2058 799.1,2000.5 800.7,1942.9 802.4,1885.5 804,1828.2 805.7,1771.2 807.3,1714.4 809,1658.1 810.6,1602.1 812.2,1546.7 813.9,1491.8 815.5,1437.5 817.2,1383.8 818.8,1330.9 820.5,1278.7 822.1,1227.3 823.8,1176.8 825.4,1127.1 827.1,1078.4 828.7,1030.6 830.3,983.7 832,937.9 833.6,893.1 835.3,849.4 836.9,806.7 838.6,765.1 840.2,724.6 841.9,685.2 843.5,647 845.1,609.8 846.8,573.8 848.4,538.9 850.1,505.1 851.7,472.5 853.4,441 855,410.5 856.7,381.2 858.3,353 859.9,325.8 861.6,299.6 863.2,274.5 864.9,250.5 866.5,227.4 868.2,205.3 869.8,184.1 871.5,163.9 873.1,144.5 874.8,126.1 876.4,108.5 878,91.7 879.7,75.8 881.3,60.6 883,46.2 884.6,32.4 886.3,19.4 886.8,15.5 887.9,24.1 889.6,36.8 891.2,49.6 892.8,62.5 894.5,75.6 896.1,88.7 897.8,101.8 899.4,115 901.1,128.1 902.7,141.3 904.4,154.4 906,167.4 907.7,180.3 909.3,193.1 910.9,205.7 912.6,218.2 914.2,230.4 915.9,242.5 917.5,254.3 919.2,265.9 920.8,277.2 922.5,288.2 924.1,298.8 925.7,309.2 927.4,319.2 929,328.8 930.7,338.1 932.3,347 934,355.5 935.6,363.6 937.3,371.3 938.9,378.5 940.5,385.4 942.2,391.8 943.8,397.7 945.5,403.2 947.1,408.2 948.8,412.8 950.4,417 952.1,420.7 953.7,423.9 955.4,426.7 957,429.1 958.6,431 960.3,432.4 961.9,433.4 963.6,434 965.2,434.2 966.9,434 968.5,433.3 970.2,432.3 971.8,430.9 973.4,429 975.1,426.9 976.7,424.3 978.4,421.4 980,418.2 981.7,414.6 983.3,410.8 985,406.6 986.6,402.1 988.2,397.4 989.9,392.4 991.5,387.1 993.2,381.6 994.8,375.9 996.5,370 998.1,363.8 999.8,357.5 1001.4,351 1003.1,344.3 1004.7,337.5 1006.3,330.5 1008,323.5 1009.6,316.3 1011.3,308.9 1012.9,301.6 1014.6,294.1 1016.2,286.5 1017.9,278.9 1019.5,271.3 1021.1,263.6 1022.8,255.8 1024.4,248.1 1026.1,240.3 1027.7,232.6 1029.4,224.8 1031,217.1 1032.7,209.4 1034.3,201.7 1035.9,194 1037.6,186.4 1039.2,178.9 1040.9,171.4 1042.5,163.9 1044.2,156.6 1045.8,149.3 1047.5,142 1049.1,134.9 1050.8,127.8 1052.4,120.9 1054,114 1055.7,107.2 1057.3,100.5 1059,93.9 1060.6,87.4 1062.3,81.1 1063.9,74.8 1065.6,68.6 1067.2,62.6 1068.8,56.6 1070.5,50.8 1072.1,45.1 1073.8,39.5 1075.4,34 1077.1,28.6 1078.7,23.3 1080.4,18.1 1081.2,15.5 1082,17.9 1083.7,23 1085.3,28.1 1086.9,33.2 1088.6,38.3 1090.2,43.5 1091.9,48.6 1093.5,53.8 1095.2,58.9 1096.8,64.1 1098.5,69.2 1100.1,74.4 1101.7,79.5 1103.4,84.6 1105,89.7 1106.7,94.8 1108.3,99.9 1110,105 1111.6,110 1113.3,115 1114.9,119.9 1116.5,124.9 1118.2,129.8 1119.8,134.6 1121.5,139.4 1123.1,144.2 1124.8,148.9 1126.4,153.6 1128.1,158.2 1129.7,162.8 1131.4,167.3 1133,171.8 1134.6,176.2 1136.3,180.5 1137.9,184.8 1139.6,189 1141.2,193.2 1142.9,197.3 1144.5,201.3 1146.2,205.3 1147.8,209.2 1149.4,213 1151.1,216.8 1152.7,220.5 1154.4,224.1 1156,227.6 1157.7,231.1 1159.3,234.5 1161,237.8 1162.6,241.1 1164.2,244.3 1165.9,247.4 1167.5,250.4 1169.2,253.4 1170.8,256.3 1172.5,259.1 1174.1,261.9 1175.8,264.6 1177.4,267.2 1179.1,269.7 1180.7,272.2 1182.3,274.6 1184,276.9 1185.6,279.2 1187.3,281.4 1188.9,283.5 1190.6,285.6 1192.2,287.6 1193.9,289.5 1195.5,291.4 1197.1,293.2 1198.8,294.9 1200.4,296.6 1202.1,298.2 1203.7,299.8 1205.4,301.3 1207,302.7 1208.7,304.1 1210.3,305.5 1211.9,306.8 1213.6,308 1215.2,309.2 1216.9,310.3 1218.5,311.4 1220.2,312.5 1221.8,313.5 1223.5,314.4 1225.1,315.3 1226.8,316.2 1228.4,317 1230,317.8 1231.7,318.5 1233.3,319.2 1235,319.9 1236.6,320.5 1238.3,321.1 1239.9,321.7 1241.6,322.3 1243.2,322.8 1244.8,323.2 1246.5,323.7 1248.1,324.1 1249.8,324.5 1251.4,324.9 1253.1,325.2 1254.7,325.5 1256.4,325.8 1258,326.1 1259.7,326.4 1261.3,326.6 1262.9,326.9 1264.6,327.1 1266.2,327.2 1267.9,327.4 1269.5,327.6 1271.2,327.7 1272.8,327.9 1274.5,328 1276.1,328.1 1277.7,328.2 1279.4,328.3 1281,328.4 1282.7,328.4 1284.3,328.5 1286,328.5 1287.6,328.6 1289.3,328.6 1290.9,328.7 1292.5,328.7 1294.2,328.7 1295.8,328.8 1297.5,328.8 1299.1,328.8 1300.8,328.8 1302.4,328.8 1304.1,328.8 1305.7,328.8 1307.4,328.8 1309,328.8 1310.6,328.8 1312.3,328.8 1313.9,328.8 1315.6,328.8 1317.2,328.8 1318.9,328.8 1320.5,328.8 1322.2,328.8 1323.8,328.8" fill="none" stroke="#0c2472" stroke-width="4.8" stroke-dasharray="20 7 5 7" stroke-linejoin="round"/></g>
<path d="M139.5 338.1L151.8 319.5L127.2 319.5Z" stroke="#0c2472" stroke-width="5.0" fill="#0c2472" fill-opacity="0.85" stroke-linejoin="round"/>
<path d="M205.3 335.4L217.6 316.8L193 316.8Z" stroke="#0c2472" stroke-width="5.0" fill="#0c2472" fill-opacity="0.85" stroke-linejoin="round"/>
<path d="M271.1 296.9L283.4 278.3L258.8 278.3Z" stroke="#0c2472" stroke-width="5.0" fill="#0c2472" fill-opacity="0.85" stroke-linejoin="round"/>
<path d="M336.9 162.9L349.2 144.3L324.6 144.3Z" stroke="#0c2472" stroke-width="5.0" fill="#0c2472" fill-opacity="0.85" stroke-linejoin="round"/>
<path d="M402.7 96.7L415 78.1L390.4 78.1Z" stroke="#0c2472" stroke-width="5.0" fill="#0c2472" fill-opacity="0.85" stroke-linejoin="round"/>
<path d="M468.5 385.2L480.8 366.6L456.2 366.6Z" stroke="#0c2472" stroke-width="5.0" fill="#0c2472" fill-opacity="0.85" stroke-linejoin="round"/>
<path d="M534.3 338.1L546.6 319.5L522 319.5Z" stroke="#0c2472" stroke-width="5.0" fill="#0c2472" fill-opacity="0.85" stroke-linejoin="round"/>
<path d="M600.1 283.8L612.4 265.2L587.8 265.2Z" stroke="#0c2472" stroke-width="5.0" fill="#0c2472" fill-opacity="0.85" stroke-linejoin="round"/>
<path d="M863.2 283.8L875.5 265.2L850.9 265.2Z" stroke="#0c2472" stroke-width="5.0" fill="#0c2472" fill-opacity="0.85" stroke-linejoin="round"/>
<path d="M929 338.1L941.3 319.5L916.7 319.5Z" stroke="#0c2472" stroke-width="5.0" fill="#0c2472" fill-opacity="0.85" stroke-linejoin="round"/>
<path d="M994.8 385.2L1007.1 366.6L982.5 366.6Z" stroke="#0c2472" stroke-width="5.0" fill="#0c2472" fill-opacity="0.85" stroke-linejoin="round"/>
<path d="M1060.6 96.7L1072.9 78.1L1048.3 78.1Z" stroke="#0c2472" stroke-width="5.0" fill="#0c2472" fill-opacity="0.85" stroke-linejoin="round"/>
<path d="M1126.4 162.9L1138.7 144.3L1114.1 144.3Z" stroke="#0c2472" stroke-width="5.0" fill="#0c2472" fill-opacity="0.85" stroke-linejoin="round"/>
<path d="M1192.2 296.9L1204.5 278.3L1179.9 278.3Z" stroke="#0c2472" stroke-width="5.0" fill="#0c2472" fill-opacity="0.85" stroke-linejoin="round"/>
<path d="M1258 335.4L1270.3 316.8L1245.7 316.8Z" stroke="#0c2472" stroke-width="5.0" fill="#0c2472" fill-opacity="0.85" stroke-linejoin="round"/>
<path d="M1323.8 338.1L1336.1 319.5L1311.5 319.5Z" stroke="#0c2472" stroke-width="5.0" fill="#0c2472" fill-opacity="0.85" stroke-linejoin="round"/>
<line x1="139.6" y1="14" x2="139.6" y2="607" stroke="#606060" stroke-width="2.6"/>
<line x1="138.3" y1="14.7" x2="1325.1" y2="14.7" stroke="#000" stroke-width="2.6"/>
<line x1="141" y1="17.6" x2="1322.3" y2="17.6" stroke="#b4b4b4" stroke-width="2.4"/>
<line x1="1323.8" y1="13.4" x2="1323.8" y2="610" stroke="#000" stroke-width="2.8"/>
<line x1="141" y1="608.4" x2="1325.1" y2="608.4" stroke="#000" stroke-width="3"/>
<text x="73" y="31" font-size="36.5" text-anchor="start">0.5</text>
<text x="61.4" y="615.5" font-size="38">10<tspan font-size="26" dx="-2.5" dy="-17.5">&#8722;1</tspan></text>
<line x1="141" y1="836.8" x2="1322.3" y2="836.8" stroke="#111" stroke-width="2.6" stroke-dasharray="9 7.4"/>
<line x1="141" y1="995" x2="1322.3" y2="995" stroke="#222" stroke-width="2.6" stroke-dasharray="9 7.4"/>
<line x1="141" y1="1153.6" x2="1322.3" y2="1153.6" stroke="#666" stroke-width="2.6" stroke-dasharray="9 7.4"/>
<line x1="141" y1="1313" x2="1322.3" y2="1313" stroke="#000" stroke-width="2.6" stroke-dasharray="9 7.4"/>
<line x1="141" y1="1384.4" x2="1322.3" y2="1384.4" stroke="#000" stroke-width="2.6" stroke-dasharray="9 7.4"/>
<line x1="435.6" y1="683.7" x2="435.6" y2="1468.5" stroke="#6a6a6a" stroke-width="3.4" stroke-dasharray="9 7.7"/>
<line x1="731.6" y1="683.7" x2="731.6" y2="1468.5" stroke="#6a6a6a" stroke-width="3.4" stroke-dasharray="9 7.7"/>
<line x1="1027.7" y1="683.7" x2="1027.7" y2="1468.5" stroke="#6a6a6a" stroke-width="3.4" stroke-dasharray="9 7.7"/>
<path d="M141 836.9h8M1322.3 836.9h-6.5M141 789.2h8M1322.3 789.2h-6.5M141 761.4h8M1322.3 761.4h-6.5M141 741.6h8M1322.3 741.6h-6.5M141 726.3h8M1322.3 726.3h-6.5M141 713.7h8M1322.3 713.7h-6.5M141 703.1h8M1322.3 703.1h-6.5M141 693.9h8M1322.3 693.9h-6.5M141 685.8h8M1322.3 685.8h-6.5M141 995.2h8M1322.3 995.2h-6.5M141 947.5h8M1322.3 947.5h-6.5M141 919.7h8M1322.3 919.7h-6.5M141 899.9h8M1322.3 899.9h-6.5M141 884.6h8M1322.3 884.6h-6.5M141 872h8M1322.3 872h-6.5M141 861.4h8M1322.3 861.4h-6.5M141 852.2h8M1322.3 852.2h-6.5M141 844.1h8M1322.3 844.1h-6.5M141 1153.5h8M1322.3 1153.5h-6.5M141 1105.8h8M1322.3 1105.8h-6.5M141 1078h8M1322.3 1078h-6.5M141 1058.2h8M1322.3 1058.2h-6.5M141 1042.9h8M1322.3 1042.9h-6.5M141 1030.3h8M1322.3 1030.3h-6.5M141 1019.7h8M1322.3 1019.7h-6.5M141 1010.5h8M1322.3 1010.5h-6.5M141 1002.4h8M1322.3 1002.4h-6.5M141 1311.8h8M1322.3 1311.8h-6.5M141 1264.1h8M1322.3 1264.1h-6.5M141 1236.3h8M1322.3 1236.3h-6.5M141 1216.5h8M1322.3 1216.5h-6.5M141 1201.2h8M1322.3 1201.2h-6.5M141 1188.6h8M1322.3 1188.6h-6.5M141 1178h8M1322.3 1178h-6.5M141 1168.8h8M1322.3 1168.8h-6.5M141 1160.7h8M1322.3 1160.7h-6.5M141 1422.4h8M1322.3 1422.4h-6.5M141 1394.6h8M1322.3 1394.6h-6.5M141 1374.8h8M1322.3 1374.8h-6.5M141 1359.5h8M1322.3 1359.5h-6.5M141 1346.9h8M1322.3 1346.9h-6.5M141 1336.3h8M1322.3 1336.3h-6.5M141 1327.1h8M1322.3 1327.1h-6.5M141 1319h8M1322.3 1319h-6.5" stroke="#222" stroke-width="2.2"/>
<g clip-path="url(#cB)"><polyline points="139.5,773.4 141.1,773.7 142.8,773.9 144.4,773.7 146.1,773.5 147.7,773.4 149.4,773.3 151,773.1 152.7,773 154.3,773.3 155.9,773.5 157.6,773.7 159.2,773.9 160.9,774 162.5,774.1 164.2,773.9 165.8,773.8 167.5,773.7 169.1,773.7 170.8,774 172.4,774.4 174,774.9 175.7,775.3 177.3,775.4 179,775.5 180.6,775.2 182.3,775 183.9,775.4 185.6,775.9 187.2,776.5 188.8,777.1 190.5,777 192.1,776.9 193.8,777.4 195.4,777.9 197.1,778.1 198.7,778.2 200.4,778.5 202,778.8 203.6,779 205.3,779.3 206.9,779.5 208.6,779.7 210.2,780.2 211.9,780.6 213.5,781 215.2,781.5 216.8,781.7 218.5,781.8 220.1,782.1 221.7,782.4 223.4,783.3 225,784.1 226.7,784.3 228.3,784.4 230,784.9 231.6,785.5 233.3,785.7 234.9,786 236.5,786.6 238.2,787.2 239.8,787.4 241.5,787.5 243.1,788 244.8,788.4 246.4,788.9 248.1,789.4 249.7,790 251.4,790.6 253,791 254.6,791.3 256.3,792 257.9,792.6 259.6,793.2 261.2,793.8 262.9,794.1 264.5,794.4 266.2,795.2 267.8,796.1 269.4,796.5 271.1,797 272.7,797.6 274.4,798.1 276,799.4 277.7,800.6 279.3,800.9 281,801.2 282.6,802.2 284.2,803.2 285.9,803.8 287.5,804.4 289.2,805.2 290.8,806 292.5,807.3 294.1,808.5 295.8,809 297.4,809.6 299.1,810.5 300.7,811.4 302.3,812.2 304,812.9 305.6,814.3 307.3,815.7 308.9,816.3 310.6,816.9 312.2,818.3 313.9,819.6 315.5,820.5 317.1,821.4 318.8,822.6 320.4,823.7 322.1,824.5 323.7,825.5 325.4,827.1 327,828.9 328.7,830.6 330.3,832.4 331.9,834.2 333.6,835.9 335.2,837.1 336.9,837.3 338.5,838 340.2,839.3 341.8,840.8 343.5,842.3 345.1,844.1 346.8,845.9 348.4,848 350,850.1 351.7,852.4 353.3,854.9 355,857.5 356.6,860.3 358.3,863.2 359.9,866.3 361.6,869.5 363.2,872.9 364.8,876.4 366.5,880.2 368.1,884 369.8,888.3 371.4,894.1 373.1,901.6 374.7,910.3 376.4,919.9 378,929.7 379.6,939 381.3,947.2 382.9,954.9 384.6,962.4 386.2,970 387.9,977.9 389.5,986.5 391.2,996.2 392.8,1007.7 394.5,1021.1 396.1,1035.5 397.7,1050.2 399.4,1064.1 401,1077.8 402.7,1093.2 404.3,1114.1 406,1141.3 407.6,1160.7 409.3,1177.8 410.9,1193.2 412.5,1207.7 414.2,1221.6 415.8,1234.7 417.5,1247.2 419.1,1259.1 420.8,1270.7 422.4,1281.9 424.1,1291.9 425.7,1301.3 427.4,1310.6 429,1320.9 430.6,1332.8 432.3,1352.2 433.9,1374.5 435.6,1385.4 437.2,1375.9 438.9,1359 440.5,1347.2 442.2,1337.3 443.8,1328.1 445.4,1319.2 447.1,1310 448.7,1300.1 450.4,1289.1 452,1276.7 453.7,1263.2 455.3,1249 457,1234.2 458.6,1219.3 460.2,1203.5 461.9,1184.9 463.5,1159.9 465.2,1133.5 466.8,1112.1 468.5,1093.9 470.1,1075.1 471.8,1056.3 473.4,1038.1 475.1,1021 476.7,1005.1 478.3,990.8 480,977.5 481.6,965 483.3,953.3 484.9,942.3 486.6,932 488.2,922.4 489.9,913.3 491.5,904.7 493.1,896.6 494.8,888.9 496.4,881.7 498.1,874.8 499.7,868.3 501.4,862.2 503,856.4 504.7,851.1 506.3,846.1 507.9,841.1 509.6,835.9 511.2,830.3 512.9,825 514.5,820.6 516.2,816.4 517.8,812.5 519.5,808.9 521.1,805.4 522.8,802.1 524.4,799 526,796.1 527.7,793.3 529.3,790.6 531,788 532.6,785.6 534.3,783.2 535.9,781 537.6,778.9 539.2,776.9 540.8,775 542.5,773 544.1,771.1 545.8,769.1 547.4,767.1 549.1,765 550.7,763 552.4,761.1 554,759.3 555.6,757.7 557.3,756.2 558.9,754.8 560.6,753.5 562.2,752.2 563.9,751 565.5,749.9 567.2,748.7 568.8,747.6 570.5,746.5 572.1,745.5 573.7,744.4 575.4,743.5 577,742.6 578.7,741.7 580.3,740.8 582,740 583.6,739.2 585.3,738.4 586.9,737.6 588.5,736.8 590.2,736 591.8,735.2 593.5,734.5 595.1,733.7 596.8,733 598.4,732.3 600.1,731.6 601.7,730.9 603.4,730.2 605,729.6 606.6,728.9 608.3,728.3 609.9,727.7 611.6,727.1 613.2,726.5 614,726.3 614.9,726.6 616.5,727.1 618.2,727.7 619.8,728.2 621.4,728.8 623.1,729.3 624.7,729.9 626.4,730.4 628,730.9 629.7,731.4 631.3,731.9 633,732.4 634.6,732.9 636.2,733.3 637.9,733.8 639.5,734.2 641.2,734.7 642.8,735.1 644.5,735.5 646.1,735.9 647.8,736.2 649.4,736.6 651.1,736.9 652.7,737.2 654.3,737.5 656,737.8 657.6,738 659.3,738.3 660.9,738.5 662.6,738.7 664.2,738.9 665.9,739.1 667.5,739.4 669.1,739.6 670.8,739.8 672.4,740 674.1,740.2 675.7,740.4 677.4,740.6 679,740.8 680.7,740.9 682.3,741.1 683.9,741.2 685.6,741.3 687.2,741.3 688.9,741.4 690.5,741.4 692.2,741.3 693.8,741.3 695.5,741.2 697.1,741 698.8,740.8 700.4,740.6 702,740.3 703.7,739.9 705.3,739.6 707,739.3 708.6,738.9 710.3,738.5 711.9,738.2 713.6,737.8 715.2,737.5 716.8,737.2 718.5,736.9 720.1,736.7 721.8,736.6 723.4,736.6 725.1,736.5 726.7,736.4 728.4,736.3 730,736 731.6,735.7 733.3,735.2 734.9,734.8 736.6,734.4 738.2,733.9 739.9,733.5 741.5,733.1 743.2,732.6 744.8,732.2 746.5,731.7 748.1,731.3 749.7,730.8 751.4,730.3 753,729.9 754.7,729.4 756.3,729 758,728.6 759.6,728.1 761.3,727.7 762.9,727.2 764.5,726.8 766.2,726.4 766.7,726.3 767.8,726.5 769.5,727 771.1,727.4 772.8,727.8 774.4,728.2 776.1,728.6 777.7,729 779.4,729.4 781,729.8 782.6,730.2 784.3,730.6 785.9,731 787.6,731.4 789.2,731.7 790.9,732.1 792.5,732.4 794.2,732.8 795.8,733.1 797.4,733.4 799.1,733.7 800.7,734 802.4,734.3 804,734.6 805.7,734.9 807.3,735.1 809,735.4 810.6,735.6 812.2,735.8 813.9,736 815.5,736.2 817.2,736.4 818.8,736.6 820.5,736.7 822.1,736.8 823.8,737 825.4,737.1 827.1,737.2 828.7,737.3 830.3,737.3 832,737.4 833.6,737.4 835.3,737.4 836.9,737.4 838.6,737.3 840.2,737.2 841.9,737 843.5,736.9 845.1,736.7 846.8,736.4 848.4,736.2 850.1,736 851.7,735.8 853.4,735.7 855,735.5 856.7,735.4 858.3,735.3 859.9,735.2 861.6,735.1 863.2,735 864.9,734.9 866.5,734.8 868.2,734.6 869.8,734.5 871.5,734.3 873.1,734.2 874.8,734 876.4,733.8 878,733.6 879.7,733.4 881.3,733.2 883,733 884.6,732.8 886.3,732.6 887.9,732.4 889.6,732.2 891.2,731.9 892.8,731.7 894.5,731.5 896.1,731.2 897.8,731 899.4,730.7 901.1,730.5 902.7,730.2 904.4,729.9 906,729.7 907.7,729.4 909.3,729.1 910.9,728.8 912.6,728.6 914.2,728.3 915.9,728 917.5,727.7 919.2,727.4 920.8,727.2 922.5,726.9 924.1,726.6 925.7,726.3 925.9,726.3 927.4,726.5 929,726.8 930.7,727.1 932.3,727.4 934,727.7 935.6,728 937.3,728.3 938.9,728.6 940.5,728.9 942.2,729.2 943.8,729.5 945.5,729.8 947.1,730.1 948.8,730.4 950.4,730.7 952.1,731 953.7,731.4 955.4,731.7 957,732 958.6,732.3 960.3,732.6 961.9,732.9 963.6,733.2 965.2,733.5 966.9,733.8 968.5,734.1 970.2,734.4 971.8,734.7 973.4,735 975.1,735.2 976.7,735.5 978.4,735.8 980,736.1 981.7,736.3 983.3,736.6 985,736.9 986.6,737.2 988.2,737.5 989.9,737.8 991.5,738.2 993.2,738.5 994.8,738.7 996.5,738.9 998.1,739 999.8,739.2 1001.4,739.3 1003.1,739.3 1004.7,739.4 1006.3,739.4 1008,739.5 1009.6,739.5 1011.3,739.5 1012.9,739.5 1014.6,739.5 1016.2,739.5 1017.9,739.5 1019.5,739.5 1021.1,739.5 1022.8,739.5 1024.4,739.5 1026.1,739.5 1027.7,739.5 1029.4,739.6 1031,739.6 1032.7,739.6 1034.3,739.6 1035.9,739.7 1037.6,739.7 1039.2,739.7 1040.9,739.7 1042.5,739.8 1044.2,739.8 1045.8,739.8 1047.5,739.8 1049.1,739.8 1050.8,739.7 1052.4,739.7 1054,739.7 1055.7,739.7 1057.3,739.6 1059,739.5 1060.6,739.5 1062.3,739.4 1063.9,739.3 1065.6,739.2 1067.2,739.1 1068.8,739 1070.5,738.9 1072.1,738.8 1073.8,738.7 1075.4,738.6 1077.1,738.4 1078.7,738.3 1080.4,738.2 1082,738 1083.7,737.8 1085.3,737.7 1086.9,737.5 1088.6,737.3 1090.2,737.2 1091.9,737 1093.5,736.8 1095.2,736.6 1096.8,736.3 1098.5,736.1 1100.1,735.9 1101.7,735.7 1103.4,735.4 1105,735.2 1106.7,734.9 1108.3,734.7 1110,734.4 1111.6,734.1 1113.3,733.8 1114.9,733.5 1116.5,733.3 1118.2,733 1119.8,732.8 1121.5,732.3 1123.1,731.8 1124.8,731.5 1126.4,731.3 1128.1,730.8 1129.7,730.3 1131.4,730.1 1133,729.9 1134.6,729.6 1136.3,729.3 1137.9,728.9 1139.6,728.5 1141.2,727.9 1142.9,727.3 1144.5,726.8 1146.2,726.3 1147.7,726.3 1147.8,726.3 1149.4,726.8 1151.1,727 1152.7,727.2 1154.4,727.5 1156,727.7 1157.7,728.7 1159.3,729.6 1161,730.2 1162.6,730.9 1164.2,731.4 1165.9,731.9 1167.5,732.6 1169.2,733.2 1170.8,733.6 1172.5,734 1174.1,734.6 1175.8,735.2 1177.4,735.9 1179.1,736.6 1180.7,736.9 1182.3,737.2 1184,738.3 1185.6,739.4 1187.3,739.9 1188.9,740.4 1190.6,740.8 1192.2,741.2 1193.9,741.7 1195.5,742.2 1197.1,742.9 1198.8,743.7 1200.4,744.4 1202.1,745.1 1203.7,745.5 1205.4,746 1207,746.9 1208.7,747.8 1210.3,748.6 1211.9,749.3 1213.6,750.2 1215.2,751.2 1216.9,751.6 1218.5,752 1220.2,752.8 1221.8,753.6 1223.5,754.2 1225.1,754.8 1226.8,755.5 1228.4,756.1 1230,756.6 1231.7,757 1233.3,757.7 1235,758.4 1236.6,758.7 1238.3,759.1 1239.9,760.1 1241.6,761.2 1243.2,761.6 1244.8,762.1 1246.5,762.4 1248.1,762.7 1249.8,763.8 1251.4,764.8 1253.1,765.3 1254.7,765.6 1256.4,766.4 1258,767.1 1259.7,767.2 1261.3,767.4 1262.9,767.8 1264.6,768.2 1266.2,768.9 1267.9,769.6 1269.5,769.6 1271.2,769.6 1272.8,769.8 1274.5,770 1276.1,770.4 1277.7,770.8 1279.4,770.7 1281,770.7 1282.7,771 1284.3,771.3 1286,771.5 1287.6,771.8 1289.3,771.6 1290.9,771.4 1292.5,771.6 1294.2,771.8 1295.8,772 1297.5,772.2 1299.1,772.4 1300.8,772.5 1302.4,772.5 1304.1,772.5 1305.7,772.6 1307.4,772.6 1309,772.6 1310.6,772.7 1312.3,772.7 1313.9,772.6 1315.6,772.7 1317.2,772.8 1318.9,772.6 1320.5,772.5 1322.2,772.5 1323.8,772.6" fill="none" stroke="#ff0000" stroke-width="4.8" stroke-linejoin="round"/></g>
<circle cx="139.5" cy="773.4" r="9.6" fill="#ff0000" fill-opacity="0.15" stroke="#ff0000" stroke-width="4.2"/>
<circle cx="205.3" cy="779.3" r="9.6" fill="#ff0000" fill-opacity="0.15" stroke="#ff0000" stroke-width="4.2"/>
<circle cx="271.1" cy="797" r="9.6" fill="#ff0000" fill-opacity="0.15" stroke="#ff0000" stroke-width="4.2"/>
<circle cx="336.9" cy="837.3" r="9.6" fill="#ff0000" fill-opacity="0.15" stroke="#ff0000" stroke-width="4.2"/>
<circle cx="402.7" cy="1093.2" r="9.6" fill="#ff0000" fill-opacity="0.15" stroke="#ff0000" stroke-width="4.2"/>
<circle cx="468.5" cy="1093.9" r="9.6" fill="#ff0000" fill-opacity="0.15" stroke="#ff0000" stroke-width="4.2"/>
<circle cx="534.3" cy="783.2" r="9.6" fill="#ff0000" fill-opacity="0.15" stroke="#ff0000" stroke-width="4.2"/>
<circle cx="600.1" cy="731.6" r="9.6" fill="#ff0000" fill-opacity="0.15" stroke="#ff0000" stroke-width="4.2"/>
<circle cx="665.9" cy="739.1" r="9.6" fill="#ff0000" fill-opacity="0.15" stroke="#ff0000" stroke-width="4.2"/>
<circle cx="731.6" cy="735.7" r="9.6" fill="#ff0000" fill-opacity="0.15" stroke="#ff0000" stroke-width="4.2"/>
<circle cx="797.4" cy="733.4" r="9.6" fill="#ff0000" fill-opacity="0.15" stroke="#ff0000" stroke-width="4.2"/>
<circle cx="863.2" cy="735" r="9.6" fill="#ff0000" fill-opacity="0.15" stroke="#ff0000" stroke-width="4.2"/>
<circle cx="929" cy="726.8" r="9.6" fill="#ff0000" fill-opacity="0.15" stroke="#ff0000" stroke-width="4.2"/>
<circle cx="994.8" cy="738.7" r="9.6" fill="#ff0000" fill-opacity="0.15" stroke="#ff0000" stroke-width="4.2"/>
<circle cx="1060.6" cy="739.5" r="9.6" fill="#ff0000" fill-opacity="0.15" stroke="#ff0000" stroke-width="4.2"/>
<circle cx="1126.4" cy="731.3" r="9.6" fill="#ff0000" fill-opacity="0.15" stroke="#ff0000" stroke-width="4.2"/>
<circle cx="1192.2" cy="741.2" r="9.6" fill="#ff0000" fill-opacity="0.15" stroke="#ff0000" stroke-width="4.2"/>
<circle cx="1258" cy="767.1" r="9.6" fill="#ff0000" fill-opacity="0.15" stroke="#ff0000" stroke-width="4.2"/>
<circle cx="1323.8" cy="772.6" r="9.6" fill="#ff0000" fill-opacity="0.15" stroke="#ff0000" stroke-width="4.2"/>
<g clip-path="url(#cB)"><polyline points="139.5,784 141.1,784 142.8,784 144.4,784 146.1,784.1 147.7,784.1 149.4,784.2 151,784.3 152.7,784.4 154.3,784.5 155.9,784.6 157.6,784.8 159.2,784.9 160.9,785.1 162.5,785.2 164.2,785.4 165.8,785.6 167.5,785.8 169.1,786.1 170.8,786.3 172.4,786.6 174,786.8 175.7,787.1 177.3,787.4 179,787.7 180.6,788 182.3,788.2 183.9,788.5 185.6,788.8 187.2,789.1 188.8,789.5 190.5,789.8 192.1,790.1 193.8,790.5 195.4,790.8 197.1,791.2 198.7,791.6 200.4,792 202,792.5 203.6,792.9 205.3,793.4 206.9,793.9 208.6,794.4 210.2,794.9 211.9,795.5 213.5,796.1 215.2,796.6 216.8,797.2 218.5,797.9 220.1,798.5 221.7,799.1 223.4,799.8 225,800.5 226.7,801.2 228.3,801.9 230,802.6 231.6,803.3 233.3,804 234.9,804.8 236.5,805.5 238.2,806.3 239.8,807.1 241.5,807.9 243.1,808.7 244.8,809.5 246.4,810.4 248.1,811.3 249.7,812.1 251.4,813 253,814 254.6,814.9 256.3,815.9 257.9,816.9 259.6,818 261.2,819.1 262.9,820.2 264.5,821.3 266.2,822.4 267.8,823.5 269.4,824.5 271.1,824.3 272.7,825.2 274.4,826.4 276,827.7 277.7,829.1 279.3,830.4 281,831.7 282.6,833.1 284.2,834.5 285.9,836 287.5,837.4 289.2,838.9 290.8,840.5 292.5,842.1 294.1,843.8 295.8,845.5 297.4,847.3 299.1,849.1 300.7,851 302.3,853 304,855 305.6,857.1 307.3,859.2 308.9,861.4 310.6,863.7 312.2,866 313.9,868.4 315.5,870.8 317.1,873.3 318.8,875.9 320.4,878.5 322.1,881.2 323.7,884 325.4,886.8 327,889.7 328.7,892.6 330.3,895.6 331.9,898.7 333.6,901.9 335.2,905.1 336.9,908.3 338.5,911.7 340.2,915.2 341.8,919 343.5,923.1 345.1,927.4 346.8,931.9 348.4,936.8 350,941.8 351.7,947.1 353.3,952.7 355,958.5 356.6,964.5 358.3,970.7 359.9,977.2 361.6,983.9 363.2,990.7 364.8,997.7 366.5,1005.2 368.1,1013.3 369.8,1022 371.4,1031.2 373.1,1040.7 374.7,1050.5 376.4,1060.4 378,1070.2 379.6,1080.2 381.3,1090.3 382.9,1100.6 384.6,1111 386.2,1121.4 387.9,1131.8 389.5,1142.3 391.2,1153.1 392.8,1163.9 394.5,1174.8 396.1,1185.7 397.7,1196.4 399.4,1207 401,1217.2 402.7,1227.1 404.3,1236.8 406,1246.7 407.6,1256.9 409.3,1267.3 410.9,1277.7 412.5,1288.2 414.2,1298.6 415.8,1308.9 417.5,1318.9 419.1,1328.7 420.8,1338 422.4,1346.8 424.1,1355 425.7,1362.4 427.4,1369 429,1374.6 430.6,1379.2 432.3,1382.5 433.9,1384.6 435.6,1385.4 437.2,1384.8 438.9,1383 440.5,1380 442.2,1376 443.8,1371 445.4,1365.1 447.1,1358.3 448.7,1350.8 450.4,1342.5 452,1333.6 453.7,1324.2 455.3,1314.2 457,1303.9 458.6,1293.2 460.2,1282.2 461.9,1271 463.5,1259.7 465.2,1248.3 466.8,1236.8 468.5,1225.3 470.1,1213.7 471.8,1200.5 473.4,1185.9 475.1,1170.7 476.7,1155.1 478.3,1139.7 480,1124.8 481.6,1109.3 483.3,1094 484.9,1081.2 486.6,1070 488.2,1059.6 489.9,1049.9 491.5,1040.6 493.1,1031.6 494.8,1022.6 496.4,1013.6 498.1,1004.6 499.7,995.8 501.4,987.2 503,979 504.7,971.4 506.3,964.3 507.9,957.8 509.6,951.8 511.2,946.1 512.9,940.6 514.5,935.1 516.2,929.6 517.8,923.9 519.5,918 521.1,911.7 522.8,904.9 524.4,896.6 526,887.3 527.7,877.5 529.3,867.6 531,858.2 532.6,849.3 534.3,841.3 535.9,834.2 537.6,828.1 539.2,822.4 540.8,817.2 542.5,812.3 544.1,807.8 545.8,803.7 547.4,799.8 549.1,796.4 550.7,793.2 552.4,790.3 554,787.7 555.6,785.3 557.3,783 558.9,780.7 560.6,778.4 562.2,775.8 563.9,773.1 565.5,770.3 567.2,767.6 568.8,764.6 570.5,761.5 572.1,758.9 573.7,757 575.4,755.6 577,754.4 578.7,753.2 580.3,752 582,750.7 583.6,749.4 585.3,747.9 586.9,746.4 588.5,745 590.2,743.5 591.8,742.1 593.5,740.7 595.1,739.4 596.8,738.1 598.4,736.8 600.1,735.5 601.7,734.3 603.4,733.1 605,732 606.6,730.9 608.3,729.8 609.9,728.7 611.6,727.7 613.2,726.7 614,726.3 614.9,726.8 616.5,727.7 618.2,728.7 619.8,729.6 621.4,730.6 623.1,731.5 624.7,732.4 626.4,733.3 628,734.2 629.7,735.1 631.3,735.9 633,736.8 634.6,737.6 636.2,738.4 637.9,739.2 639.5,740 641.2,740.7 642.8,741.5 644.5,742.2 646.1,742.9 647.8,743.5 649.4,744.2 651.1,744.9 652.7,745.5 654.3,746.2 656,746.8 657.6,747.4 659.3,748.1 660.9,748.6 662.6,749.2 664.2,749.7 665.9,750.2 667.5,750.6 669.1,751 670.8,751.4 672.4,751.8 674.1,752.1 675.7,752.4 677.4,752.7 679,752.9 680.7,753.1 682.3,753.2 683.9,753.4 685.6,753.5 687.2,753.5 688.9,753.6 690.5,753.6 692.2,753.5 693.8,753.5 695.5,753.4 697.1,753.3 698.8,753.2 700.4,753.1 702,752.9 703.7,752.7 705.3,752.4 707,752.1 708.6,751.7 710.3,751.3 711.9,750.8 713.6,750.2 715.2,749.6 716.8,748.9 718.5,748.2 720.1,747.4 721.8,746.6 723.4,745.8 725.1,745 726.7,744.2 728.4,743.5 730,742.7 731.6,742 733.3,741.2 734.9,740.5 736.6,739.7 738.2,739 739.9,738.2 741.5,737.4 743.2,736.7 744.8,735.9 746.5,735.2 748.1,734.4 749.7,733.6 751.4,732.9 753,732.1 754.7,731.4 756.3,730.7 758,730 759.6,729.2 761.3,728.5 762.9,727.8 764.5,727.1 766.2,726.5 766.7,726.3 767.8,726.7 769.5,727.4 771.1,728 772.8,728.7 774.4,729.4 776.1,730.1 777.7,730.7 779.4,731.4 781,732 782.6,732.7 784.3,733.4 785.9,734 787.6,734.6 789.2,735.3 790.9,735.9 792.5,736.5 794.2,737.1 795.8,737.7 797.4,738.3 799.1,738.8 800.7,739.4 802.4,739.9 804,740.4 805.7,740.9 807.3,741.4 809,741.9 810.6,742.3 812.2,742.8 813.9,743.2 815.5,743.6 817.2,744 818.8,744.3 820.5,744.7 822.1,745 823.8,745.3 825.4,745.5 827.1,745.8 828.7,746 830.3,746.2 832,746.4 833.6,746.6 835.3,746.7 836.9,746.8 838.6,746.9 840.2,747 841.9,747 843.5,747.1 845.1,747.2 846.8,747.3 848.4,747.4 850.1,747.5 851.7,747.5 853.4,747.5 855,747.5 856.7,747.5 858.3,747.4 859.9,747.2 861.6,747 863.2,746.7 864.9,746.4 866.5,746.1 868.2,745.7 869.8,745.4 871.5,745 873.1,744.6 874.8,744.1 876.4,743.7 878,743.2 879.7,742.8 881.3,742.3 883,741.8 884.6,741.2 886.3,740.7 887.9,740.2 889.6,739.6 891.2,739 892.8,738.5 894.5,737.9 896.1,737.3 897.8,736.7 899.4,736.1 901.1,735.5 902.7,734.9 904.4,734.3 906,733.6 907.7,733 909.3,732.4 910.9,731.8 912.6,731.2 914.2,730.5 915.9,729.9 917.5,729.3 919.2,728.7 920.8,728.1 922.5,727.5 924.1,726.9 925.7,726.3 925.9,726.3 927.4,726.8 929,727.4 930.7,727.9 932.3,728.5 934,729.1 935.6,729.7 937.3,730.3 938.9,730.9 940.5,731.5 942.2,732.1 943.8,732.7 945.5,733.3 947.1,733.9 948.8,734.5 950.4,735.1 952.1,735.6 953.7,736.2 955.4,736.8 957,737.3 958.6,737.9 960.3,738.4 961.9,739 963.6,739.5 965.2,740 966.9,740.5 968.5,741 970.2,741.5 971.8,742 973.4,742.5 975.1,742.9 976.7,743.4 978.4,743.8 980,744.2 981.7,744.5 983.3,744.9 985,745.2 986.6,745.5 988.2,745.8 989.9,746.1 991.5,746.4 993.2,746.7 994.8,747 996.5,747.3 998.1,747.6 999.8,748 1001.4,748.3 1003.1,748.7 1004.7,749.1 1006.3,749.5 1008,749.9 1009.6,750.3 1011.3,750.7 1012.9,751.1 1014.6,751.4 1016.2,751.7 1017.9,752 1019.5,752.3 1021.1,752.5 1022.8,752.6 1024.4,752.8 1026.1,752.9 1027.7,753.1 1029.4,753.1 1031,753.2 1032.7,753.3 1034.3,753.3 1035.9,753.3 1037.6,753.3 1039.2,753.3 1040.9,753.3 1042.5,753.2 1044.2,753.1 1045.8,753 1047.5,752.9 1049.1,752.8 1050.8,752.7 1052.4,752.5 1054,752.3 1055.7,752.2 1057.3,752 1059,751.8 1060.6,751.6 1062.3,751.3 1063.9,751.1 1065.6,750.8 1067.2,750.6 1068.8,750.3 1070.5,750 1072.1,749.7 1073.8,749.4 1075.4,749.1 1077.1,748.8 1078.7,748.4 1080.4,748.1 1082,747.7 1083.7,747.3 1085.3,746.9 1086.9,746.6 1088.6,746.1 1090.2,745.7 1091.9,745.3 1093.5,744.9 1095.2,744.4 1096.8,744 1098.5,743.5 1100.1,743 1101.7,742.5 1103.4,742 1105,741.5 1106.7,741 1108.3,740.5 1110,740 1111.6,739.4 1113.3,738.9 1114.9,738.3 1116.5,737.8 1118.2,737.2 1119.8,736.6 1121.5,736.1 1123.1,735.5 1124.8,734.9 1126.4,734.3 1128.1,733.7 1129.7,733.1 1131.4,732.5 1133,731.9 1134.6,731.2 1136.3,730.6 1137.9,730 1139.6,729.4 1141.2,728.7 1142.9,728.1 1144.5,727.5 1146.2,726.9 1147.7,726.3 1147.8,726.3 1149.4,726.9 1151.1,727.6 1152.7,728.2 1154.4,728.9 1156,729.6 1157.7,730.3 1159.3,731 1161,731.7 1162.6,732.4 1164.2,733.2 1165.9,733.9 1167.5,734.7 1169.2,735.4 1170.8,736.2 1172.5,737 1174.1,737.8 1175.8,738.6 1177.4,739.4 1179.1,740.2 1180.7,741 1182.3,741.9 1184,742.7 1185.6,743.5 1187.3,744.4 1188.9,745.2 1190.6,746.1 1192.2,746.9 1193.9,747.8 1195.5,748.6 1197.1,749.5 1198.8,750.3 1200.4,751.2 1202.1,752 1203.7,752.9 1205.4,753.7 1207,754.6 1208.7,755.4 1210.3,756.2 1211.9,757.1 1213.6,757.9 1215.2,758.7 1216.9,759.5 1218.5,760.2 1220.2,761 1221.8,761.7 1223.5,762.5 1225.1,763.1 1226.8,763.8 1228.4,764.4 1230,765 1231.7,765.6 1233.3,766.2 1235,766.8 1236.6,767.3 1238.3,767.8 1239.9,768.4 1241.6,768.9 1243.2,769.5 1244.8,770 1246.5,770.5 1248.1,771 1249.8,771.5 1251.4,772 1253.1,772.5 1254.7,773 1256.4,773.4 1258,773.9 1259.7,774.3 1261.3,774.7 1262.9,775 1264.6,775.4 1266.2,775.7 1267.9,776.1 1269.5,776.4 1271.2,776.7 1272.8,777 1274.5,777.3 1276.1,777.5 1277.7,777.8 1279.4,778.1 1281,778.4 1282.7,778.7 1284.3,779 1286,779.3 1287.6,779.6 1289.3,779.9 1290.9,780.2 1292.5,780.4 1294.2,780.7 1295.8,781 1297.5,781.2 1299.1,781.4 1300.8,781.7 1302.4,781.9 1304.1,782.1 1305.7,782.3 1307.4,782.5 1309,782.7 1310.6,782.9 1312.3,783.1 1313.9,783.2 1315.6,783.4 1317.2,783.6 1318.9,783.8 1320.5,783.9 1322.2,784 1323.8,784" fill="none" stroke="#0000ff" stroke-width="4.8" stroke-dasharray="20 8" stroke-linejoin="round"/></g>
<rect x="130.1" y="774.6" width="18.8" height="18.8" fill="#0000ff" fill-opacity="0.15" stroke="#0000ff" stroke-width="4.2"/>
<rect x="195.9" y="784" width="18.8" height="18.8" fill="#0000ff" fill-opacity="0.15" stroke="#0000ff" stroke-width="4.2"/>
<rect x="261.7" y="814.9" width="18.8" height="18.8" fill="#0000ff" fill-opacity="0.15" stroke="#0000ff" stroke-width="4.2"/>
<rect x="327.5" y="898.9" width="18.8" height="18.8" fill="#0000ff" fill-opacity="0.15" stroke="#0000ff" stroke-width="4.2"/>
<rect x="393.3" y="1217.7" width="18.8" height="18.8" fill="#0000ff" fill-opacity="0.15" stroke="#0000ff" stroke-width="4.2"/>
<rect x="459.1" y="1215.9" width="18.8" height="18.8" fill="#0000ff" fill-opacity="0.15" stroke="#0000ff" stroke-width="4.2"/>
<rect x="524.9" y="831.9" width="18.8" height="18.8" fill="#0000ff" fill-opacity="0.15" stroke="#0000ff" stroke-width="4.2"/>
<rect x="590.7" y="726.1" width="18.8" height="18.8" fill="#0000ff" fill-opacity="0.15" stroke="#0000ff" stroke-width="4.2"/>
<rect x="656.5" y="740.8" width="18.8" height="18.8" fill="#0000ff" fill-opacity="0.15" stroke="#0000ff" stroke-width="4.2"/>
<rect x="722.2" y="732.6" width="18.8" height="18.8" fill="#0000ff" fill-opacity="0.15" stroke="#0000ff" stroke-width="4.2"/>
<rect x="788" y="728.9" width="18.8" height="18.8" fill="#0000ff" fill-opacity="0.15" stroke="#0000ff" stroke-width="4.2"/>
<rect x="853.8" y="737.3" width="18.8" height="18.8" fill="#0000ff" fill-opacity="0.15" stroke="#0000ff" stroke-width="4.2"/>
<rect x="919.6" y="718" width="18.8" height="18.8" fill="#0000ff" fill-opacity="0.15" stroke="#0000ff" stroke-width="4.2"/>
<rect x="985.4" y="737.6" width="18.8" height="18.8" fill="#0000ff" fill-opacity="0.15" stroke="#0000ff" stroke-width="4.2"/>
<rect x="1051.2" y="742.2" width="18.8" height="18.8" fill="#0000ff" fill-opacity="0.15" stroke="#0000ff" stroke-width="4.2"/>
<rect x="1117" y="724.9" width="18.8" height="18.8" fill="#0000ff" fill-opacity="0.15" stroke="#0000ff" stroke-width="4.2"/>
<rect x="1182.8" y="737.5" width="18.8" height="18.8" fill="#0000ff" fill-opacity="0.15" stroke="#0000ff" stroke-width="4.2"/>
<rect x="1248.6" y="764.5" width="18.8" height="18.8" fill="#0000ff" fill-opacity="0.15" stroke="#0000ff" stroke-width="4.2"/>
<rect x="1314.4" y="774.6" width="18.8" height="18.8" fill="#0000ff" fill-opacity="0.15" stroke="#0000ff" stroke-width="4.2"/>
<g clip-path="url(#cB)"><polyline points="139.5,800.9 141.1,800.9 142.8,801 144.4,801 146.1,801.1 147.7,801.1 149.4,801.2 151,801.3 152.7,801.5 154.3,801.6 155.9,801.8 157.6,802 159.2,802.2 160.9,802.4 162.5,802.7 164.2,802.9 165.8,803.2 167.5,803.5 169.1,803.8 170.8,804.2 172.4,804.5 174,804.9 175.7,805.3 177.3,805.7 179,806.2 180.6,806.6 182.3,807.1 183.9,807.6 185.6,808.1 187.2,808.6 188.8,809.2 190.5,809.8 192.1,810.3 193.8,811 195.4,811.6 197.1,812.2 198.7,812.9 200.4,813.6 202,814.4 203.6,815.2 205.3,816 206.9,816.8 208.6,817.6 210.2,818.5 211.9,819.4 213.5,820.4 215.2,821.3 216.8,822.3 218.5,823.3 220.1,824.3 221.7,825.4 223.4,826.4 225,827.5 226.7,828.5 228.3,829.4 230,830.4 231.6,831.3 233.3,832.3 234.9,833.3 236.5,834.5 238.2,835.7 239.8,837 241.5,838.3 243.1,839.7 244.8,841.1 246.4,842.6 248.1,844.1 249.7,845.6 251.4,847.2 253,848.8 254.6,850.5 256.3,852.1 257.9,853.9 259.6,855.6 261.2,857.4 262.9,859.3 264.5,861.1 266.2,863.1 267.8,865 269.4,867 271.1,869 272.7,871.1 274.4,873.3 276,875.5 277.7,877.8 279.3,880.1 281,882.6 282.6,885.1 284.2,887.7 285.9,890.4 287.5,893.1 289.2,895.9 290.8,898.8 292.5,901.7 294.1,904.7 295.8,907.8 297.4,911 299.1,914.2 300.7,917.4 302.3,920.8 304,924.2 305.6,927.6 307.3,931.1 308.9,934.6 310.6,938.2 312.2,941.9 313.9,945.6 315.5,949.4 317.1,953.3 318.8,957.3 320.4,961.4 322.1,965.6 323.7,969.8 325.4,974.2 327,978.7 328.7,983.3 330.3,988.1 331.9,993 333.6,998 335.2,1003.2 336.9,1008.5 338.5,1014.1 340.2,1020.2 341.8,1026.8 343.5,1034 345.1,1041.4 346.8,1049.1 348.4,1056.8 350,1064.3 351.7,1071.4 353.3,1078.3 355,1085.2 356.6,1091.9 358.3,1098.7 359.9,1105.5 361.6,1112.3 363.2,1119.2 364.8,1126.2 366.5,1133.4 368.1,1140.8 369.8,1148.3 371.4,1155.9 373.1,1163.6 374.7,1171.4 376.4,1179.2 378,1187.2 379.6,1195.2 381.3,1203.2 382.9,1211.2 384.6,1219.3 386.2,1227.3 387.9,1235.2 389.5,1243.1 391.2,1250.9 392.8,1258.6 394.5,1266.1 396.1,1273.5 397.7,1280.7 399.4,1287.6 401,1294.3 402.7,1300.7 404.3,1306.9 406,1313 407.6,1319.2 409.3,1325.2 410.9,1331.2 412.5,1337 414.2,1342.7 415.8,1348.1 417.5,1353.4 419.1,1358.3 420.8,1363 422.4,1367.3 424.1,1371.3 425.7,1374.8 427.4,1377.9 429,1380.5 430.6,1382.6 432.3,1384.1 433.9,1385 435.6,1385.4 437.2,1385.1 438.9,1384.2 440.5,1382.8 442.2,1380.8 443.8,1378.3 445.4,1375.4 447.1,1371.9 448.7,1368.1 450.4,1363.8 452,1359.1 453.7,1354 455.3,1348.7 457,1343 458.6,1337 460.2,1330.7 461.9,1324.2 463.5,1317.5 465.2,1310.6 466.8,1303.5 468.5,1296.3 470.1,1288.9 471.8,1281.1 473.4,1272.9 475.1,1264.4 476.7,1255.5 478.3,1246.3 480,1236.8 481.6,1227 483.3,1217.1 484.9,1206.9 486.6,1196.6 488.2,1186.2 489.9,1175.6 491.5,1165 493.1,1154.3 494.8,1143.6 496.4,1132.9 498.1,1122.2 499.7,1111.5 501.4,1100.9 503,1090 504.7,1078.4 506.3,1066.5 507.9,1055 509.6,1044.4 511.2,1035.2 512.9,1027 514.5,1019.1 516.2,1011.6 517.8,1004.2 519.5,996.8 521.1,989.3 522.8,981.5 524.4,973.5 526,964.7 527.7,955.4 529.3,945.8 531,936.5 532.6,927.6 534.3,919.4 535.9,912.1 537.6,905.4 539.2,899 540.8,892.8 542.5,886.8 544.1,880.7 545.8,874.6 547.4,868.4 549.1,862.1 550.7,856 552.4,849.3 554,841 555.6,824.6 557.3,819.2 558.9,814.5 560.6,810.2 562.2,806.3 563.9,802.5 565.5,798.9 567.2,795.3 568.8,791.7 570.5,788 572.1,784.2 573.7,780.2 575.4,776 577,771.8 578.7,767 580.3,762.7 582,759.9 583.6,757.7 585.3,755.6 586.9,753.5 588.5,751.5 590.2,749.5 591.8,747.6 593.5,745.7 595.1,743.9 596.8,742.1 598.4,740.4 600.1,738.7 601.7,737.1 603.4,735.5 605,734 606.6,732.4 608.3,731 609.9,729.6 611.6,728.2 613.2,726.9 614,726.3 614.9,727 616.5,728.3 618.2,729.6 619.8,730.9 621.4,732.2 623.1,733.5 624.7,734.9 626.4,736.2 628,737.5 629.7,738.9 631.3,740.2 633,741.5 634.6,742.8 636.2,744.1 637.9,745.4 639.5,746.7 641.2,748 642.8,749.2 644.5,750.5 646.1,751.7 647.8,752.9 649.4,754.2 651.1,755.5 652.7,756.9 654.3,758.4 656,759.9 657.6,761.3 659.3,762.7 660.9,764 662.6,765.2 664.2,766.2 665.9,766.9 667.5,767.6 669.1,768.2 670.8,768.8 672.4,769.3 674.1,769.7 675.7,770.1 677.4,770.4 679,770.6 680.7,770.8 682.3,770.9 683.9,771 685.6,771 687.2,770.9 688.9,770.8 690.5,770.6 692.2,770.4 693.8,770.1 695.5,769.8 697.1,769.4 698.8,769 700.4,768.5 702,767.9 703.7,767.3 705.3,766.6 707,765.9 708.6,765.2 710.3,764.3 711.9,763.5 713.6,762.6 715.2,761.6 716.8,760.5 718.5,759.4 720.1,758.2 721.8,757 723.4,755.8 725.1,754.6 726.7,753.4 728.4,752.3 730,751.2 731.6,750 733.3,748.9 734.9,747.8 736.6,746.6 738.2,745.4 739.9,744.3 741.5,743.1 743.2,742 744.8,740.8 746.5,739.7 748.1,738.5 749.7,737.4 751.4,736.2 753,735.1 754.7,734 756.3,732.9 758,731.8 759.6,730.7 761.3,729.7 762.9,728.6 764.5,727.6 766.2,726.6 766.7,726.3 767.8,726.9 769.5,727.9 771.1,728.9 772.8,730 774.4,731 776.1,732 777.7,733 779.4,734.1 781,735.1 782.6,736.1 784.3,737.1 785.9,738.2 787.6,739.2 789.2,740.2 790.9,741.2 792.5,742.2 794.2,743.1 795.8,744.1 797.4,745 799.1,746 800.7,746.9 802.4,747.8 804,748.6 805.7,749.5 807.3,750.3 809,751.1 810.6,751.8 812.2,752.6 813.9,753.3 815.5,754 817.2,754.6 818.8,755.2 820.5,755.8 822.1,756.3 823.8,756.8 825.4,757.3 827.1,757.7 828.7,758.1 830.3,758.5 832,758.8 833.6,759 835.3,759.2 836.9,759.4 838.6,759.4 840.2,759.5 841.9,759.5 843.5,759.4 845.1,759.3 846.8,759.2 848.4,759 850.1,758.8 851.7,758.6 853.4,758.3 855,758 856.7,757.7 858.3,757.4 859.9,757 861.6,756.6 863.2,756.2 864.9,755.8 866.5,755.3 868.2,754.8 869.8,754.2 871.5,753.7 873.1,753.1 874.8,752.4 876.4,751.8 878,751.1 879.7,750.4 881.3,749.7 883,749 884.6,748.2 886.3,747.5 887.9,746.7 889.6,745.9 891.2,745.1 892.8,744.2 894.5,743.4 896.1,742.5 897.8,741.6 899.4,740.8 901.1,739.9 902.7,739 904.4,738.1 906,737.2 907.7,736.3 909.3,735.4 910.9,734.5 912.6,733.6 914.2,732.6 915.9,731.7 917.5,730.8 919.2,729.9 920.8,729 922.5,728.1 924.1,727.2 925.7,726.4 925.9,726.3 927.4,727 929,727.9 930.7,728.8 932.3,729.8 934,730.7 935.6,731.6 937.3,732.6 938.9,733.5 940.5,734.5 942.2,735.5 943.8,736.5 945.5,737.5 947.1,738.5 948.8,739.5 950.4,740.5 952.1,741.5 953.7,742.5 955.4,743.5 957,744.6 958.6,745.6 960.3,746.6 961.9,747.6 963.6,748.6 965.2,749.5 966.9,750.5 968.5,751.5 970.2,752.4 971.8,753.4 973.4,754.3 975.1,755.2 976.7,756.1 978.4,757 980,757.9 981.7,758.7 983.3,759.5 985,760.1 986.6,760.7 988.2,761.3 989.9,761.8 991.5,762.4 993.2,763 994.8,763.6 996.5,764.2 998.1,764.8 999.8,765.3 1001.4,765.8 1003.1,766.3 1004.7,766.8 1006.3,767.2 1008,767.7 1009.6,768.2 1011.3,768.8 1012.9,769.4 1014.6,770.1 1016.2,770.8 1017.9,771.3 1019.5,771.7 1021.1,771.9 1022.8,772.1 1024.4,772.2 1026.1,772.3 1027.7,772.4 1029.4,772.4 1031,772.4 1032.7,772.4 1034.3,772.3 1035.9,772.2 1037.6,772.1 1039.2,772 1040.9,771.8 1042.5,771.6 1044.2,771.3 1045.8,771 1047.5,770.7 1049.1,770.4 1050.8,770.1 1052.4,769.7 1054,769.3 1055.7,768.9 1057.3,768.4 1059,767.9 1060.6,767.4 1062.3,766.9 1063.9,766.4 1065.6,765.8 1067.2,765.2 1068.8,764.6 1070.5,764 1072.1,763.4 1073.8,762.7 1075.4,762.1 1077.1,761.4 1078.7,760.7 1080.4,760 1082,759.3 1083.7,758.5 1085.3,757.8 1086.9,757 1088.6,756.3 1090.2,755.5 1091.9,754.7 1093.5,753.9 1095.2,753.1 1096.8,752.3 1098.5,751.5 1100.1,750.6 1101.7,749.8 1103.4,749 1105,748.1 1106.7,747.3 1108.3,746.4 1110,745.6 1111.6,744.7 1113.3,743.8 1114.9,743 1116.5,742.1 1118.2,741.3 1119.8,740.4 1121.5,739.5 1123.1,738.7 1124.8,737.8 1126.4,737 1128.1,736.1 1129.7,735.3 1131.4,734.4 1133,733.6 1134.6,732.7 1136.3,731.9 1137.9,731.1 1139.6,730.2 1141.2,729.4 1142.9,728.6 1144.5,727.8 1146.2,727 1147.7,726.3 1147.8,726.3 1149.4,727.1 1151.1,727.9 1152.7,728.7 1154.4,729.5 1156,730.4 1157.7,731.2 1159.3,732.1 1161,732.9 1162.6,733.8 1164.2,734.7 1165.9,735.6 1167.5,736.5 1169.2,737.4 1170.8,738.3 1172.5,739.2 1174.1,740.2 1175.8,741.1 1177.4,742 1179.1,743 1180.7,743.9 1182.3,744.9 1184,745.9 1185.6,746.8 1187.3,747.8 1188.9,748.8 1190.6,749.8 1192.2,750.8 1193.9,751.8 1195.5,752.7 1197.1,753.7 1198.8,754.7 1200.4,755.7 1202.1,756.7 1203.7,757.7 1205.4,758.7 1207,759.7 1208.7,760.7 1210.3,761.7 1211.9,762.6 1213.6,763.6 1215.2,764.6 1216.9,765.6 1218.5,766.5 1220.2,767.5 1221.8,768.4 1223.5,769.4 1225.1,770.3 1226.8,771.3 1228.4,772.2 1230,773.1 1231.7,774 1233.3,774.9 1235,775.8 1236.6,776.7 1238.3,777.6 1239.9,778.4 1241.6,779.3 1243.2,780.2 1244.8,781.1 1246.5,782.1 1248.1,783 1249.8,784 1251.4,784.9 1253.1,785.8 1254.7,786.6 1256.4,787.4 1258,788.1 1259.7,788.9 1261.3,789.6 1262.9,790.2 1264.6,790.9 1266.2,791.5 1267.9,792.2 1269.5,792.8 1271.2,793.4 1272.8,794 1274.5,794.5 1276.1,795 1277.7,795.6 1279.4,796.1 1281,796.5 1282.7,797 1284.3,797.4 1286,797.8 1287.6,798.2 1289.3,798.6 1290.9,798.9 1292.5,799.3 1294.2,799.5 1295.8,799.8 1297.5,800.1 1299.1,800.3 1300.8,800.5 1302.4,800.6 1304.1,800.8 1305.7,800.9 1307.4,801 1309,801 1310.6,801 1312.3,801 1313.9,801 1315.6,800.9 1317.2,800.9 1318.9,800.7 1320.5,800.6 1322.2,800.6 1323.8,800.6" fill="none" stroke="#a0522d" stroke-width="4.8" stroke-dasharray="5 7" stroke-linejoin="round"/></g>
<path d="M131.5 792.9L147.5 808.9M131.5 808.9L147.5 792.9" stroke="#a0522d" stroke-width="4.0" fill="none"/>
<path d="M197.3 808L213.3 824M197.3 824L213.3 808" stroke="#a0522d" stroke-width="4.0" fill="none"/>
<path d="M263.1 861L279.1 877M263.1 877L279.1 861" stroke="#a0522d" stroke-width="4.0" fill="none"/>
<path d="M328.9 1000.5L344.9 1016.5M328.9 1016.5L344.9 1000.5" stroke="#a0522d" stroke-width="4.0" fill="none"/>
<path d="M394.7 1292.7L410.7 1308.7M394.7 1308.7L410.7 1292.7" stroke="#a0522d" stroke-width="4.0" fill="none"/>
<path d="M460.5 1288.3L476.5 1304.3M460.5 1304.3L476.5 1288.3" stroke="#a0522d" stroke-width="4.0" fill="none"/>
<path d="M526.3 911.4L542.3 927.4M526.3 927.4L542.3 911.4" stroke="#a0522d" stroke-width="4.0" fill="none"/>
<path d="M592.1 730.7L608.1 746.7M592.1 746.7L608.1 730.7" stroke="#a0522d" stroke-width="4.0" fill="none"/>
<path d="M657.9 758.9L673.9 774.9M657.9 774.9L673.9 758.9" stroke="#a0522d" stroke-width="4.0" fill="none"/>
<path d="M723.6 742L739.6 758M723.6 758L739.6 742" stroke="#a0522d" stroke-width="4.0" fill="none"/>
<path d="M789.4 737L805.4 753M789.4 753L805.4 737" stroke="#a0522d" stroke-width="4.0" fill="none"/>
<path d="M855.2 748.2L871.2 764.2M855.2 764.2L871.2 748.2" stroke="#a0522d" stroke-width="4.0" fill="none"/>
<path d="M921 719.9L937 735.9M921 735.9L937 719.9" stroke="#a0522d" stroke-width="4.0" fill="none"/>
<path d="M986.8 755.6L1002.8 771.6M986.8 771.6L1002.8 755.6" stroke="#a0522d" stroke-width="4.0" fill="none"/>
<path d="M1052.6 759.4L1068.6 775.4M1052.6 775.4L1068.6 759.4" stroke="#a0522d" stroke-width="4.0" fill="none"/>
<path d="M1118.4 729L1134.4 745M1118.4 745L1134.4 729" stroke="#a0522d" stroke-width="4.0" fill="none"/>
<path d="M1184.2 742.8L1200.2 758.8M1184.2 758.8L1200.2 742.8" stroke="#a0522d" stroke-width="4.0" fill="none"/>
<path d="M1250 780.1L1266 796.1M1250 796.1L1266 780.1" stroke="#a0522d" stroke-width="4.0" fill="none"/>
<path d="M1315.8 792.6L1331.8 808.6M1315.8 808.6L1331.8 792.6" stroke="#a0522d" stroke-width="4.0" fill="none"/>
<g clip-path="url(#cB)"><polyline points="139.5,843.4 141.1,843.4 142.8,843.5 144.4,843.5 146.1,843.7 147.7,843.8 149.4,844 151,844.2 152.7,844.4 154.3,844.7 155.9,845 157.6,845.3 159.2,845.7 160.9,846.1 162.5,846.6 164.2,847 165.8,847.5 167.5,848.1 169.1,848.6 170.8,849.2 172.4,849.9 174,850.6 175.7,851.3 177.3,852 179,852.8 180.6,853.6 182.3,854.5 183.9,855.3 185.6,856.3 187.2,857.2 188.8,858.2 190.5,859.2 192.1,860.3 193.8,861.4 195.4,862.6 197.1,863.8 198.7,865 200.4,866.2 202,867.5 203.6,868.9 205.3,870.3 206.9,871.7 208.6,873.2 210.2,874.7 211.9,876.2 213.5,877.8 215.2,879.5 216.8,881.1 218.5,882.9 220.1,884.6 221.7,886.5 223.4,888.3 225,890.2 226.7,892.2 228.3,894.2 230,896.2 231.6,898.3 233.3,900.5 234.9,902.7 236.5,904.9 238.2,907.2 239.8,909.6 241.5,912 243.1,914.4 244.8,916.9 246.4,919.5 248.1,922.1 249.7,924.7 251.4,927.4 253,930.2 254.6,933 256.3,935.9 257.9,938.8 259.6,941.8 261.2,944.9 262.9,948 264.5,951.1 266.2,954.3 267.8,957.6 269.4,960.9 271.1,964.3 272.7,967.8 274.4,971.3 276,974.8 277.7,978.4 279.3,982.1 281,985.9 282.6,989.6 284.2,993.5 285.9,997.4 287.5,1001.4 289.2,1005.4 290.8,1009.5 292.5,1013.6 294.1,1017.8 295.8,1022.1 297.4,1026.4 299.1,1030.8 300.7,1035.2 302.3,1039.7 304,1044.2 305.6,1048.8 307.3,1053.4 308.9,1058.1 310.6,1062.9 312.2,1067.7 313.9,1072.5 315.5,1077.4 317.1,1082.3 318.8,1087.3 320.4,1092.3 322.1,1097.4 323.7,1102.5 325.4,1107.7 327,1112.9 328.7,1118.1 330.3,1123.3 331.9,1128.6 333.6,1134 335.2,1139.3 336.9,1144.7 338.5,1150.1 340.2,1155.5 341.8,1161 343.5,1166.4 345.1,1171.9 346.8,1177.4 348.4,1182.9 350,1188.4 351.7,1193.9 353.3,1199.4 355,1204.9 356.6,1210.4 358.3,1215.9 359.9,1221.3 361.6,1226.8 363.2,1232.2 364.8,1237.6 366.5,1243 368.1,1248.3 369.8,1253.6 371.4,1258.9 373.1,1264.1 374.7,1269.3 376.4,1274.4 378,1279.5 379.6,1284.4 381.3,1289.4 382.9,1294.2 384.6,1299 386.2,1303.7 387.9,1308.3 389.5,1312.8 391.2,1317.3 392.8,1321.6 394.5,1325.8 396.1,1329.9 397.7,1333.9 399.4,1337.8 401,1341.6 402.7,1345.2 404.3,1348.7 406,1352.1 407.6,1355.3 409.3,1358.3 410.9,1361.3 412.5,1364 414.2,1366.6 415.8,1369 417.5,1371.3 419.1,1373.4 420.8,1375.3 422.4,1377 424.1,1378.5 425.7,1379.8 427.4,1381 429,1381.9 430.6,1382.6 432.3,1383.2 433.9,1383.5 435.6,1383.6 437.2,1383.5 438.9,1383.2 440.5,1382.6 442.2,1381.8 443.8,1380.9 445.4,1379.6 447.1,1378.2 448.7,1376.5 450.4,1374.6 452,1372.4 453.7,1370 455.3,1367.4 457,1364.6 458.6,1361.5 460.2,1358.2 461.9,1354.6 463.5,1350.8 465.2,1346.8 466.8,1342.6 468.5,1338.1 470.1,1333.4 471.8,1328.5 473.4,1323.3 475.1,1318 476.7,1312.4 478.3,1306.6 480,1300.6 481.6,1294.4 483.3,1288 484.9,1281.4 486.6,1274.6 488.2,1267.6 489.9,1260.5 491.5,1253.1 493.1,1245.6 494.8,1238 496.4,1230.1 498.1,1222.2 499.7,1214.1 501.4,1205.8 503,1197.5 504.7,1189 506.3,1180.4 507.9,1171.6 509.6,1162.8 511.2,1153.9 512.9,1145 514.5,1135.9 516.2,1126.8 517.8,1117.6 519.5,1108.4 521.1,1099.1 522.8,1089.9 524.4,1080.6 526,1071.2 527.7,1061.9 529.3,1052.6 531,1043.3 532.6,1034 534.3,1024.8 535.9,1015.6 537.6,1006.4 539.2,997.3 540.8,988.2 542.5,979.3 544.1,970.4 545.8,961.6 547.4,952.9 549.1,944.3 550.7,935.8 552.4,927.4 554,919.1 555.6,911 557.3,902.9 558.9,895.1 560.6,887.3 562.2,879.8 563.9,872.3 565.5,865.1 567.2,857.9 568.8,851 570.5,844.2 572.1,837.6 573.7,831.1 575.4,824.9 577,818.8 578.7,812.8 580.3,807.1 582,801.5 583.6,796.1 585.3,790.9 586.9,785.8 588.5,781 590.2,776.3 591.8,771.7 593.5,767.4 595.1,763.2 596.8,759.2 598.4,755.3 600.1,751.6 601.7,748.1 603.4,744.7 605,741.4 606.6,738.4 608.3,735.4 609.9,732.6 611.6,729.9 613.2,727.4 614,726.3 614.9,727.6 616.5,730 618.2,732.5 619.8,735.1 621.4,737.6 623.1,740.2 624.7,742.8 626.4,745.4 628,748.1 629.7,750.7 631.3,753.3 633,755.9 634.6,758.5 636.2,761.1 637.9,763.7 639.5,766.2 641.2,768.7 642.8,771.1 644.5,773.5 646.1,775.8 647.8,778.1 649.4,780.3 651.1,782.4 652.7,784.4 654.3,786.4 656,788.3 657.6,790.1 659.3,791.8 660.9,793.4 662.6,794.9 664.2,796.3 665.9,797.6 667.5,798.8 669.1,799.9 670.8,800.9 672.4,801.8 674.1,802.5 675.7,803.1 677.4,803.6 679,804 680.7,804.3 682.3,804.5 683.9,804.5 685.6,804.4 687.2,804.3 688.9,804 690.5,803.6 692.2,803 693.8,802.4 695.5,801.7 697.1,800.9 698.8,799.9 700.4,798.9 702,797.8 703.7,796.6 705.3,795.3 707,794 708.6,792.5 710.3,791 711.9,789.4 713.6,787.8 715.2,786.1 716.8,784.3 718.5,782.5 720.1,780.7 721.8,778.8 723.4,776.9 725.1,774.9 726.7,772.9 728.4,770.9 730,768.9 731.6,766.8 733.3,764.8 734.9,762.7 736.6,760.6 738.2,758.6 739.9,756.5 741.5,754.5 743.2,752.4 744.8,750.4 746.5,748.4 748.1,746.4 749.7,744.5 751.4,742.6 753,740.7 754.7,738.8 756.3,737 758,735.2 759.6,733.4 761.3,731.7 762.9,730 764.5,728.4 766.2,726.8 766.7,726.3 767.8,727.3 769.5,728.9 771.1,730.5 772.8,732.2 774.4,733.8 776.1,735.5 777.7,737.2 779.4,738.9 781,740.7 782.6,742.4 784.3,744.1 785.9,745.9 787.6,747.6 789.2,749.3 790.9,751.1 792.5,752.8 794.2,754.5 795.8,756.2 797.4,757.8 799.1,759.5 800.7,761.1 802.4,762.7 804,764.2 805.7,765.8 807.3,767.2 809,768.7 810.6,770.1 812.2,771.4 813.9,772.7 815.5,773.9 817.2,775.1 818.8,776.2 820.5,777.3 822.1,778.3 823.8,779.2 825.4,780.1 827.1,780.9 828.7,781.6 830.3,782.3 832,782.9 833.6,783.4 835.3,783.8 836.9,784.2 838.6,784.4 840.2,784.6 841.9,784.8 843.5,784.8 845.1,784.8 846.8,784.7 848.4,784.5 850.1,784.2 851.7,783.9 853.4,783.5 855,783 856.7,782.5 858.3,781.9 859.9,781.2 861.6,780.4 863.2,779.6 864.9,778.8 866.5,777.8 868.2,776.8 869.8,775.8 871.5,774.7 873.1,773.5 874.8,772.3 876.4,771.1 878,769.8 879.7,768.5 881.3,767.1 883,765.8 884.6,764.3 886.3,762.9 887.9,761.4 889.6,759.9 891.2,758.4 892.8,756.9 894.5,755.3 896.1,753.7 897.8,752.2 899.4,750.6 901.1,749 902.7,747.5 904.4,745.9 906,744.3 907.7,742.7 909.3,741.2 910.9,739.6 912.6,738.1 914.2,736.6 915.9,735.1 917.5,733.6 919.2,732.1 920.8,730.6 922.5,729.2 924.1,727.8 925.7,726.4 925.9,726.3 927.4,727.5 929,728.9 930.7,730.3 932.3,731.8 934,733.2 935.6,734.8 937.3,736.3 938.9,737.8 940.5,739.4 942.2,741 943.8,742.6 945.5,744.3 947.1,745.9 948.8,747.6 950.4,749.2 952.1,750.9 953.7,752.6 955.4,754.3 957,756 958.6,757.7 960.3,759.4 961.9,761.1 963.6,762.7 965.2,764.4 966.9,766.1 968.5,767.8 970.2,769.4 971.8,771 973.4,772.7 975.1,774.3 976.7,775.8 978.4,777.4 980,778.9 981.7,780.4 983.3,781.9 985,783.3 986.6,784.7 988.2,786.1 989.9,787.4 991.5,788.7 993.2,789.9 994.8,791.1 996.5,792.3 998.1,793.4 999.8,794.5 1001.4,795.5 1003.1,796.5 1004.7,797.4 1006.3,798.2 1008,799.1 1009.6,799.8 1011.3,800.5 1012.9,801.2 1014.6,801.8 1016.2,802.3 1017.9,802.8 1019.5,803.2 1021.1,803.6 1022.8,803.9 1024.4,804.1 1026.1,804.3 1027.7,804.4 1029.4,804.5 1031,804.5 1032.7,804.5 1034.3,804.4 1035.9,804.2 1037.6,804 1039.2,803.7 1040.9,803.4 1042.5,803 1044.2,802.6 1045.8,802.1 1047.5,801.6 1049.1,801 1050.8,800.4 1052.4,799.7 1054,798.9 1055.7,798.2 1057.3,797.4 1059,796.5 1060.6,795.6 1062.3,794.6 1063.9,793.7 1065.6,792.6 1067.2,791.6 1068.8,790.5 1070.5,789.4 1072.1,788.2 1073.8,787 1075.4,785.8 1077.1,784.6 1078.7,783.3 1080.4,782.1 1082,780.7 1083.7,779.4 1085.3,778.1 1086.9,776.7 1088.6,775.3 1090.2,773.9 1091.9,772.5 1093.5,771.1 1095.2,769.7 1096.8,768.3 1098.5,766.8 1100.1,765.4 1101.7,763.9 1103.4,762.5 1105,761 1106.7,759.6 1108.3,758.1 1110,756.7 1111.6,755.2 1113.3,753.8 1114.9,752.4 1116.5,750.9 1118.2,749.5 1119.8,748.1 1121.5,746.7 1123.1,745.3 1124.8,743.9 1126.4,742.6 1128.1,741.2 1129.7,739.9 1131.4,738.6 1133,737.2 1134.6,735.9 1136.3,734.7 1137.9,733.4 1139.6,732.2 1141.2,730.9 1142.9,729.7 1144.5,728.5 1146.2,727.4 1147.7,726.3 1147.8,726.3 1149.4,727.5 1151.1,728.6 1152.7,729.8 1154.4,731 1156,732.3 1157.7,733.5 1159.3,734.8 1161,736 1162.6,737.3 1164.2,738.7 1165.9,740 1167.5,741.3 1169.2,742.7 1170.8,744 1172.5,745.4 1174.1,746.8 1175.8,748.2 1177.4,749.6 1179.1,751.1 1180.7,752.5 1182.3,753.9 1184,755.4 1185.6,756.9 1187.3,758.3 1188.9,759.8 1190.6,761.3 1192.2,762.8 1193.9,764.3 1195.5,765.8 1197.1,767.3 1198.8,768.8 1200.4,770.3 1202.1,771.8 1203.7,773.4 1205.4,774.9 1207,776.4 1208.7,777.9 1210.3,779.4 1211.9,780.9 1213.6,782.4 1215.2,783.9 1216.9,785.4 1218.5,786.9 1220.2,788.4 1221.8,789.9 1223.5,791.3 1225.1,792.8 1226.8,794.2 1228.4,795.7 1230,797.1 1231.7,798.5 1233.3,799.9 1235,801.3 1236.6,802.7 1238.3,804.1 1239.9,805.4 1241.6,806.8 1243.2,808.1 1244.8,809.4 1246.5,810.7 1248.1,812 1249.8,813.2 1251.4,814.4 1253.1,815.6 1254.7,816.8 1256.4,818 1258,819.2 1259.7,820.3 1261.3,821.4 1262.9,822.5 1264.6,823.6 1266.2,824.6 1267.9,825.6 1269.5,826.6 1271.2,827.6 1272.8,828.5 1274.5,829.4 1276.1,830.3 1277.7,831.2 1279.4,832 1281,832.8 1282.7,833.6 1284.3,834.4 1286,835.1 1287.6,835.8 1289.3,836.4 1290.9,837.1 1292.5,837.7 1294.2,838.3 1295.8,838.8 1297.5,839.3 1299.1,839.8 1300.8,840.3 1302.4,840.7 1304.1,841.1 1305.7,841.5 1307.4,841.8 1309,842.1 1310.6,842.4 1312.3,842.6 1313.9,842.8 1315.6,843 1317.2,843.1 1318.9,843.3 1320.5,843.3 1322.2,843.4 1323.8,843.4" fill="none" stroke="#000000" stroke-width="4.8" stroke-dasharray="20 7 5 7" stroke-linejoin="round"/></g>
<path d="M139.5 836L150.3 850.8L128.7 850.8Z" stroke="#000000" stroke-width="4.2" fill="#000000" fill-opacity="0.55" stroke-linejoin="round"/>
<path d="M205.3 862.9L216.1 877.7L194.5 877.7Z" stroke="#000000" stroke-width="4.2" fill="#000000" fill-opacity="0.55" stroke-linejoin="round"/>
<path d="M271.1 956.9L281.9 971.7L260.3 971.7Z" stroke="#000000" stroke-width="4.2" fill="#000000" fill-opacity="0.55" stroke-linejoin="round"/>
<path d="M336.9 1137.3L347.7 1152.1L326.1 1152.1Z" stroke="#000000" stroke-width="4.2" fill="#000000" fill-opacity="0.55" stroke-linejoin="round"/>
<path d="M402.7 1337.8L413.5 1352.6L391.9 1352.6Z" stroke="#000000" stroke-width="4.2" fill="#000000" fill-opacity="0.55" stroke-linejoin="round"/>
<path d="M468.5 1330.7L479.3 1345.5L457.7 1345.5Z" stroke="#000000" stroke-width="4.2" fill="#000000" fill-opacity="0.55" stroke-linejoin="round"/>
<path d="M534.3 1017.4L545.1 1032.2L523.5 1032.2Z" stroke="#000000" stroke-width="4.2" fill="#000000" fill-opacity="0.55" stroke-linejoin="round"/>
<path d="M600.1 744.2L610.9 759L589.3 759Z" stroke="#000000" stroke-width="4.2" fill="#000000" fill-opacity="0.55" stroke-linejoin="round"/>
<path d="M665.9 790.2L676.7 805L655.1 805Z" stroke="#000000" stroke-width="4.2" fill="#000000" fill-opacity="0.55" stroke-linejoin="round"/>
<path d="M731.6 759.4L742.4 774.2L720.9 774.2Z" stroke="#000000" stroke-width="4.2" fill="#000000" fill-opacity="0.55" stroke-linejoin="round"/>
<path d="M797.4 750.4L808.2 765.2L786.6 765.2Z" stroke="#000000" stroke-width="4.2" fill="#000000" fill-opacity="0.55" stroke-linejoin="round"/>
<path d="M863.2 772.2L874 787L852.4 787Z" stroke="#000000" stroke-width="4.2" fill="#000000" fill-opacity="0.55" stroke-linejoin="round"/>
<path d="M929 718.9L939.8 733.7L918.2 733.7Z" stroke="#000000" stroke-width="4.2" fill="#000000" fill-opacity="0.55" stroke-linejoin="round"/>
<path d="M994.8 783.7L1005.6 798.5L984 798.5Z" stroke="#000000" stroke-width="4.2" fill="#000000" fill-opacity="0.55" stroke-linejoin="round"/>
<path d="M1060.6 788.2L1071.4 803L1049.8 803Z" stroke="#000000" stroke-width="4.2" fill="#000000" fill-opacity="0.55" stroke-linejoin="round"/>
<path d="M1126.4 735.2L1137.2 750L1115.6 750Z" stroke="#000000" stroke-width="4.2" fill="#000000" fill-opacity="0.55" stroke-linejoin="round"/>
<path d="M1192.2 755.4L1203 770.2L1181.4 770.2Z" stroke="#000000" stroke-width="4.2" fill="#000000" fill-opacity="0.55" stroke-linejoin="round"/>
<path d="M1258 811.8L1268.8 826.6L1247.2 826.6Z" stroke="#000000" stroke-width="4.2" fill="#000000" fill-opacity="0.55" stroke-linejoin="round"/>
<path d="M1323.8 836L1334.6 850.8L1313 850.8Z" stroke="#000000" stroke-width="4.2" fill="#000000" fill-opacity="0.55" stroke-linejoin="round"/>
<g clip-path="url(#cB)"><polyline points="139.5,751.9 141.1,753.4 142.8,754.9 144.4,753.3 146.1,751.7 147.7,752.4 149.4,753.2 151,753.3 152.7,753.5 154.3,753.6 155.9,753.7 157.6,755.1 159.2,756.6 160.9,755.7 162.5,754.7 164.2,755.3 165.8,755.8 167.5,753.9 169.1,751.8 170.8,752.8 172.4,753.6 174,753.5 175.7,753.3 177.3,752.7 179,752.1 180.6,751.9 182.3,751.8 183.9,751.8 185.6,752 187.2,751.7 188.8,751.3 190.5,750.9 192.1,750.6 193.8,751.3 195.4,752 197.1,751.4 198.7,750.8 200.4,751.7 202,752.6 203.6,752.4 205.3,752.3 206.9,751.2 208.6,750.1 210.2,750.6 211.9,751.2 213.5,751.7 215.2,752.2 216.8,751.9 218.5,751.5 220.1,750.8 221.7,750.1 223.4,749 225,747.7 226.7,748.7 228.3,749.7 230,749.1 231.6,748.5 233.3,747 234.9,745.6 236.5,746.3 238.2,747 239.8,746.2 241.5,745.4 243.1,744.3 244.8,743.2 246.4,743.1 248.1,743.1 249.7,743.1 251.4,743.2 253,742.5 254.6,741.9 256.3,743.5 257.9,745.1 259.6,742.8 261.2,740.4 262.9,741.4 264.5,742.5 266.2,742.7 267.8,742.8 269.4,741.4 271.1,740 272.7,739.2 274.4,738.5 276,738.9 277.7,739.3 279.3,739.4 281,739.5 282.6,738.4 284.2,737.4 285.9,737.2 287.5,737 289.2,735.8 290.8,734.7 292.5,734.9 294.1,735.2 295.8,735.4 297.4,735.6 299.1,734.8 300.7,734.1 302.3,734.8 304,735.5 305.6,735.8 307.3,736.1 308.9,735 310.6,733.8 312.2,733.7 313.9,733.6 315.5,733.9 317.1,734.1 318.8,734.2 320.4,734.2 322.1,733.6 323.7,733.1 325.4,733.6 327,734 328.7,733 330.3,732.3 331.9,732.2 333.6,732.1 335.2,732 336.9,731.8 338.5,731.6 340.2,731.4 341.8,731.2 343.5,731.1 345.1,730.9 346.8,730.7 348.4,730.5 350,730.3 351.7,730.1 353.3,729.9 355,729.7 356.6,729.5 358.3,729.3 359.9,729.1 361.6,728.9 363.2,728.7 364.8,728.5 366.5,728.3 368.1,728 369.8,727.8 371.4,727.6 373.1,727.4 374.7,727.2 376.4,727 378,726.8 379.6,726.6 381.3,726.4 382.1,726.3 382.9,726.4 384.6,726.6 386.2,726.8 387.9,727 389.5,727.2 391.2,727.5 392.8,727.7 394.5,727.9 396.1,728.1 397.7,728.4 399.4,728.6 401,728.8 402.7,729.1 404.3,729.3 406,729.5 407.6,729.7 409.3,730 410.9,730.2 412.5,730.5 414.2,730.7 415.8,730.9 417.5,731.2 419.1,731.4 420.8,731.6 422.4,731.9 424.1,732.1 425.7,732.3 427.4,732.6 429,732.8 430.6,733 432.3,733.3 433.9,733.5 435.6,733.7 437.2,733.9 438.9,734.2 440.5,734.4 442.2,734.6 443.8,734.8 445.4,735 447.1,735.2 448.7,735.4 450.4,735.6 452,735.8 453.7,736 455.3,736.2 457,736.4 458.6,736.6 460.2,736.8 461.9,737 463.5,737.1 465.2,737.3 466.8,737.5 468.5,737.6 470.1,737.8 471.8,737.9 473.4,738 475.1,738.2 476.7,738.3 478.3,738.4 480,738.5 481.6,738.6 483.3,738.7 484.9,738.8 486.6,738.8 488.2,738.9 489.9,739 491.5,739 493.1,739 494.8,739.1 496.4,739.1 498.1,739.1 499.7,739.1 501.4,739.1 503,739.1 504.7,739 506.3,739 507.9,739 509.6,738.9 511.2,738.8 512.9,738.8 514.5,738.7 516.2,738.6 517.8,738.5 519.5,738.4 521.1,738.2 522.8,738.1 524.4,737.9 526,737.7 527.7,737.5 529.3,737.3 531,737.1 532.6,736.9 534.3,736.7 535.9,736.4 537.6,736.1 539.2,735.8 540.8,735.5 542.5,735.2 544.1,734.9 545.8,734.6 547.4,734.2 549.1,733.8 550.7,733.5 552.4,733.1 554,732.7 555.6,732.3 557.3,731.9 558.9,731.4 560.6,731 562.2,730.5 563.9,730.1 565.5,729.6 567.2,729.1 568.8,728.6 570.5,728.2 572.1,727.6 573.7,727.1 575.4,726.6 576.5,726.3 577,726.4 578.7,727 580.3,727.5 582,728.1 583.6,728.7 585.3,729.3 586.9,729.9 588.5,730.6 590.2,731.2 591.8,731.9 593.5,732.6 595.1,733.3 596.8,734 598.4,734.8 600.1,735.6 601.7,736.4 603.4,737.4 605,738.6 606.6,739.7 608.3,740.6 609.9,741.4 611.6,742.4 613.2,743.3 614.9,744.2 616.5,745.1 618.2,746.1 619.8,747.2 621.4,748.5 623.1,749.9 624.7,751.6 626.4,753.3 628,755.1 629.7,756.8 631.3,758.6 633,760.5 634.6,762.4 636.2,764.4 637.9,766.5 639.5,769 641.2,771.7 642.8,774.5 644.5,776.8 646.1,778.5 647.8,780.9 649.4,787.3 651.1,794.8 652.7,800.1 654.3,805.1 656,808.5 657.6,810.8 659.3,813 660.9,815.3 662.6,817.5 664.2,819.7 665.9,822 667.5,824.5 669.1,827.6 670.8,831.4 672.4,835.6 674.1,840.5 675.7,845.7 677.4,851.5 679,857.5 680.7,863.9 682.3,870.3 683.9,876.8 685.6,883.6 687.2,891 688.9,898.9 690.5,907.4 692.2,916.4 693.8,926 695.5,936.1 697.1,947 698.8,958.7 700.4,971.3 702,984.6 703.7,998.7 705.3,1013.6 707,1029.4 708.6,1046.6 710.3,1065.6 711.9,1085.6 713.6,1109 715.2,1143.3 716.8,1199.5 718.5,1231.9 720.1,1256.1 721.8,1276 723.4,1294.1 725.1,1310.8 726.7,1323.8 728.4,1336.5 730,1353.3 731.6,1385.4 733.3,1370.5 734.9,1344.4 736.6,1320.2 738.2,1294.5 739.9,1270.4 741.5,1247.7 743.2,1225.9 744.8,1204.8 746.5,1184.3 748.1,1165.4 749.7,1147.3 751.4,1128.1 753,1106.3 754.7,1078.6 756.3,1048.5 758,1020.9 759.6,999.1 761.3,983 762.9,969.2 764.5,956.9 766.2,945.8 767.8,935.4 769.5,925.4 771.1,915.9 772.8,907 774.4,898.6 776.1,890.8 777.7,883.5 779.4,876.8 781,870.6 782.6,864.9 784.3,859.7 785.9,854.7 787.6,850 789.2,845.3 790.9,840.8 792.5,836.2 794.2,831.7 795.8,827 797.4,822.3 799.1,817.2 800.7,811.9 802.4,807.1 804,802.6 805.7,798.4 807.3,794.6 809,791.1 810.6,788 812.2,784.9 813.9,781.7 815.5,778.7 817.2,775.8 818.8,773.2 820.5,770.7 822.1,768.4 823.8,766.2 825.4,764.1 827.1,762.1 828.7,760.2 830.3,758.3 832,756.6 833.6,754.8 835.3,753.2 836.9,751.5 838.6,749.9 840.2,748.4 841.9,747 843.5,745.8 845.1,744.6 846.8,743.4 848.4,742.4 850.1,741.3 851.7,740.4 853.4,739.6 855,738.8 856.7,738.1 858.3,737.4 859.9,736.7 861.6,736 863.2,735.3 864.9,734.6 866.5,733.9 868.2,733.2 869.8,732.6 871.5,731.9 873.1,731.2 874.8,730.6 876.4,730 878,729.3 879.7,728.7 881.3,728.1 883,727.6 884.6,727 886.3,726.4 886.8,726.3 887.9,726.6 889.6,727.2 891.2,727.7 892.8,728.2 894.5,728.8 896.1,729.3 897.8,729.8 899.4,730.3 901.1,730.8 902.7,731.3 904.4,731.8 906,732.2 907.7,732.7 909.3,733.1 910.9,733.6 912.6,734 914.2,734.4 915.9,734.8 917.5,735.2 919.2,735.6 920.8,735.9 922.5,736.3 924.1,736.6 925.7,737 927.4,737.3 929,737.5 930.7,737.8 932.3,738 934,738.2 935.6,738.3 937.3,738.5 938.9,738.6 940.5,738.7 942.2,738.7 943.8,738.8 945.5,738.8 947.1,738.9 948.8,738.9 950.4,738.9 952.1,738.9 953.7,739 955.4,739 957,739 958.6,739 960.3,739.1 961.9,739.1 963.6,739.1 965.2,739.1 966.9,739.1 968.5,739.1 970.2,739.1 971.8,739.1 973.4,739 975.1,739 976.7,738.9 978.4,738.9 980,738.8 981.7,738.7 983.3,738.6 985,738.5 986.6,738.4 988.2,738.3 989.9,738.2 991.5,738.1 993.2,738 994.8,737.8 996.5,737.7 998.1,737.5 999.8,737.4 1001.4,737.3 1003.1,737.1 1004.7,737 1006.3,736.8 1008,736.7 1009.6,736.5 1011.3,736.3 1012.9,736.2 1014.6,736 1016.2,735.8 1017.9,735.6 1019.5,735.4 1021.1,735.2 1022.8,735 1024.4,734.8 1026.1,734.6 1027.7,734.4 1029.4,734.1 1031,733.9 1032.7,733.7 1034.3,733.4 1035.9,733.2 1037.6,733 1039.2,732.7 1040.9,732.5 1042.5,732.2 1044.2,732 1045.8,731.7 1047.5,731.5 1049.1,731.2 1050.8,731 1052.4,730.7 1054,730.5 1055.7,730.2 1057.3,729.9 1059,729.7 1060.6,729.4 1062.3,729.2 1063.9,728.9 1065.6,728.7 1067.2,728.4 1068.8,728.1 1070.5,727.9 1072.1,727.6 1073.8,727.4 1075.4,727.1 1077.1,726.9 1078.7,726.6 1080.4,726.4 1081.2,726.3 1082,726.4 1083.7,726.6 1085.3,726.9 1086.9,727.1 1088.6,727.4 1090.2,727.6 1091.9,727.9 1093.5,728.1 1095.2,728.4 1096.8,728.6 1098.5,728.9 1100.1,729.1 1101.7,729.3 1103.4,729.6 1105,729.8 1106.7,730.1 1108.3,730.3 1110,730.6 1111.6,730.8 1113.3,731.1 1114.9,731.2 1116.5,731.5 1118.2,732 1119.8,732.7 1121.5,732.8 1123.1,732.8 1124.8,732.9 1126.4,732.9 1128.1,733.6 1129.7,734.3 1131.4,734.7 1133,735.2 1134.6,734.6 1136.3,733.9 1137.9,734.7 1139.6,735.6 1141.2,736.5 1142.9,737.4 1144.5,736.9 1146.2,736.5 1147.8,735.7 1149.4,734.9 1151.1,736 1152.7,737 1154.4,736.3 1156,735.6 1157.7,735.4 1159.3,735.2 1161,736.4 1162.6,737.6 1164.2,738.5 1165.9,739.5 1167.5,739.8 1169.2,740.1 1170.8,739.5 1172.5,738.8 1174.1,738.4 1175.8,738 1177.4,738.6 1179.1,739.2 1180.7,739.2 1182.3,739.2 1184,740 1185.6,740.9 1187.3,740.6 1188.9,740.3 1190.6,740.7 1192.2,741.1 1193.9,741.5 1195.5,742 1197.1,742.9 1198.8,743.8 1200.4,744.3 1202.1,744.8 1203.7,744.5 1205.4,744.1 1207,744.9 1208.7,745.7 1210.3,746 1211.9,746.3 1213.6,745.6 1215.2,744.9 1216.9,745.7 1218.5,746.5 1220.2,745.3 1221.8,744.1 1223.5,745.2 1225.1,746.3 1226.8,747.6 1228.4,748.9 1230,748.2 1231.7,747.5 1233.3,748 1235,748.5 1236.6,749.4 1238.3,750.3 1239.9,749.4 1241.6,748.4 1243.2,749.8 1244.8,751.3 1246.5,752.4 1248.1,753.5 1249.8,751.7 1251.4,750 1253.1,751 1254.7,752.1 1256.4,751.9 1258,751.6 1259.7,752.1 1261.3,752.7 1262.9,753.2 1264.6,753.7 1266.2,752 1267.9,750.3 1269.5,752.2 1271.2,754 1272.8,753.3 1274.5,752.5 1276.1,751.8 1277.7,751.1 1279.4,752 1281,752.9 1282.7,753.1 1284.3,753.2 1286,753.1 1287.6,753 1289.3,752.5 1290.9,752.1 1292.5,753.1 1294.2,754.2 1295.8,753.3 1297.5,752.4 1299.1,752.4 1300.8,752.4 1302.4,751.4 1304.1,750.3 1305.7,751.9 1307.4,753.6 1309,754 1310.6,754.4 1312.3,753.3 1313.9,752.2 1315.6,752.9 1317.2,753.7 1318.9,753.2 1320.5,752.8 1322.2,753 1323.8,753.1" fill="none" stroke="#c400c4" stroke-width="4.8" stroke-linejoin="round"/></g>
<path d="M127 751.9L152 751.9M139.5 739.4L139.5 764.4" stroke="#c400c4" stroke-width="4.2" fill="none"/>
<path d="M192.8 752.3L217.8 752.3M205.3 739.8L205.3 764.8" stroke="#c400c4" stroke-width="4.2" fill="none"/>
<path d="M258.6 740L283.6 740M271.1 727.5L271.1 752.5" stroke="#c400c4" stroke-width="4.2" fill="none"/>
<path d="M324.4 731.8L349.4 731.8M336.9 719.3L336.9 744.3" stroke="#c400c4" stroke-width="4.2" fill="none"/>
<path d="M390.2 729.1L415.2 729.1M402.7 716.6L402.7 741.6" stroke="#c400c4" stroke-width="4.2" fill="none"/>
<path d="M456 737.6L481 737.6M468.5 725.1L468.5 750.1" stroke="#c400c4" stroke-width="4.2" fill="none"/>
<path d="M521.8 736.7L546.8 736.7M534.3 724.2L534.3 749.2" stroke="#c400c4" stroke-width="4.2" fill="none"/>
<path d="M587.6 735.6L612.6 735.6M600.1 723.1L600.1 748.1" stroke="#c400c4" stroke-width="4.2" fill="none"/>
<path d="M653.4 822L678.4 822M665.9 809.5L665.9 834.5" stroke="#c400c4" stroke-width="4.2" fill="none"/>
<path d="M719.1 1385.4L744.1 1385.4M731.6 1372.9L731.6 1397.9" stroke="#c400c4" stroke-width="4.2" fill="none"/>
<path d="M784.9 822.3L809.9 822.3M797.4 809.8L797.4 834.8" stroke="#c400c4" stroke-width="4.2" fill="none"/>
<path d="M850.7 735.3L875.7 735.3M863.2 722.8L863.2 747.8" stroke="#c400c4" stroke-width="4.2" fill="none"/>
<path d="M916.5 737.5L941.5 737.5M929 725L929 750" stroke="#c400c4" stroke-width="4.2" fill="none"/>
<path d="M982.3 737.8L1007.3 737.8M994.8 725.3L994.8 750.3" stroke="#c400c4" stroke-width="4.2" fill="none"/>
<path d="M1048.1 729.4L1073.1 729.4M1060.6 716.9L1060.6 741.9" stroke="#c400c4" stroke-width="4.2" fill="none"/>
<path d="M1113.9 732.9L1138.9 732.9M1126.4 720.4L1126.4 745.4" stroke="#c400c4" stroke-width="4.2" fill="none"/>
<path d="M1179.7 741.1L1204.7 741.1M1192.2 728.6L1192.2 753.6" stroke="#c400c4" stroke-width="4.2" fill="none"/>
<path d="M1245.5 751.6L1270.5 751.6M1258 739.1L1258 764.1" stroke="#c400c4" stroke-width="4.2" fill="none"/>
<path d="M1311.3 753.1L1336.3 753.1M1323.8 740.6L1323.8 765.6" stroke="#c400c4" stroke-width="4.2" fill="none"/>
<g clip-path="url(#cB)"><polyline points="139.5,758.5 141.1,758.2 142.8,758 144.4,758.1 146.1,758.3 147.7,758.6 149.4,758.8 151,758.5 152.7,758.2 154.3,758.4 155.9,758.6 157.6,758 159.2,757.4 160.9,756.7 162.5,756 164.2,756.9 165.8,757.8 167.5,757.9 169.1,757.9 170.8,757.4 172.4,756.8 174,756.9 175.7,757 177.3,757.1 179,757.3 180.6,757.9 182.3,758.5 183.9,758 185.6,757.6 187.2,757.3 188.8,756.9 190.5,758 192.1,759.1 193.8,758.6 195.4,758.2 197.1,758.9 198.7,759.6 200.4,759.3 202,758.9 203.6,758.2 205.3,757.4 206.9,757.4 208.6,757.4 210.2,757.9 211.9,758.3 213.5,757.4 215.2,756.4 216.8,756.4 218.5,756.3 220.1,756.3 221.7,756.4 223.4,757.3 225,758.1 226.7,757.1 228.3,756.1 230,755.7 231.6,755.3 233.3,755 234.9,754.7 236.5,755.4 238.2,756 239.8,755.3 241.5,754.5 243.1,754.6 244.8,754.6 246.4,754.3 248.1,753.9 249.7,752.7 251.4,751.5 253,752.2 254.6,752.9 256.3,752.2 257.9,751.5 259.6,750.7 261.2,750 262.9,750.4 264.5,750.9 266.2,750.3 267.8,749.8 269.4,749.4 271.1,749.1 272.7,748.7 274.4,748.4 276,748.8 277.7,749.1 279.3,748.2 281,747.2 282.6,746.2 284.2,745.2 285.9,746.4 287.5,747.6 289.2,746.1 290.8,744.5 292.5,744.6 294.1,744.6 295.8,744.7 297.4,744.8 299.1,743.1 300.7,741.5 302.3,741.8 304,742.1 305.6,742.9 307.3,743.6 308.9,742.6 310.6,741.6 312.2,741.1 313.9,740.5 315.5,740.6 317.1,740.6 318.8,739.9 320.4,739.3 322.1,739.2 323.7,739.1 325.4,738.6 327,738.1 328.7,737.7 330.3,737.3 331.9,737.3 333.6,737.1 335.2,736.7 336.9,736.3 338.5,736 340.2,735.6 341.8,735.2 343.5,734.9 345.1,734.5 346.8,734.2 348.4,733.8 350,733.4 351.7,733.1 353.3,732.7 355,732.3 356.6,732 358.3,731.6 359.9,731.2 361.6,730.9 363.2,730.5 364.8,730.1 366.5,729.8 368.1,729.4 369.8,729 371.4,728.6 373.1,728.3 374.7,727.9 376.4,727.5 378,727.2 379.6,726.8 381.3,726.4 382.1,726.3 382.9,726.4 384.6,726.8 386.2,727.2 387.9,727.6 389.5,727.9 391.2,728.3 392.8,728.7 394.5,729.1 396.1,729.5 397.7,729.9 399.4,730.3 401,730.7 402.7,731.1 404.3,731.5 406,731.9 407.6,732.3 409.3,732.7 410.9,733.1 412.5,733.5 414.2,733.9 415.8,734.3 417.5,734.8 419.1,735.2 420.8,735.6 422.4,736 424.1,736.4 425.7,736.8 427.4,737.3 429,737.7 430.6,738.1 432.3,738.5 433.9,738.9 435.6,739.4 437.2,739.8 438.9,740.2 440.5,740.9 442.2,741.6 443.8,742.1 445.4,742.5 447.1,742.9 448.7,743.3 450.4,743.7 452,744.1 453.7,744.5 455.3,744.9 457,745.2 458.6,745.6 460.2,745.9 461.9,746.3 463.5,746.6 465.2,746.9 466.8,747.2 468.5,747.5 470.1,747.8 471.8,748.1 473.4,748.4 475.1,748.7 476.7,749 478.3,749.3 480,749.6 481.6,749.9 483.3,750.2 484.9,750.4 486.6,750.7 488.2,750.9 489.9,751.1 491.5,751.2 493.1,751.4 494.8,751.5 496.4,751.5 498.1,751.5 499.7,751.5 501.4,751.4 503,751.3 504.7,751.2 506.3,751.1 507.9,750.9 509.6,750.7 511.2,750.4 512.9,750.1 514.5,749.9 516.2,749.5 517.8,749.2 519.5,748.8 521.1,748.4 522.8,747.9 524.4,747.3 526,746.7 527.7,746.1 529.3,745.6 531,745 532.6,744.5 534.3,744 535.9,743.5 537.6,743 539.2,742.5 540.8,742 542.5,741.4 544.1,740.8 545.8,740.2 547.4,739.6 549.1,739 550.7,738.3 552.4,737.7 554,737 555.6,736.3 557.3,735.6 558.9,734.8 560.6,734.1 562.2,733.3 563.9,732.6 565.5,731.8 567.2,731 568.8,730.2 570.5,729.3 572.1,728.5 573.7,727.7 575.4,726.8 576.5,726.3 577,726.5 578.7,727.4 580.3,728.3 582,729.2 583.6,730.2 585.3,731.2 586.9,732.2 588.5,733.3 590.2,734.4 591.8,735.5 593.5,736.7 595.1,737.8 596.8,739.1 598.4,740.3 600.1,741.6 601.7,743 603.4,744.7 605,746.8 606.6,749.1 608.3,751.7 609.9,754.4 611.6,757.2 613.2,759.8 614.9,762.1 616.5,764.3 618.2,766.6 619.8,768.9 621.4,771.3 623.1,773.8 624.7,776.5 626.4,779.4 628,782.4 629.7,785.7 631.3,789 633,792.6 634.6,796.2 636.2,800 637.9,803.8 639.5,807.6 641.2,811.6 642.8,815.7 644.5,819.9 646.1,824.6 647.8,829.8 649.4,834.6 651.1,837.4 652.7,837.9 654.3,841.8 656,846.5 657.6,852 659.3,858.1 660.9,864.8 662.6,871.8 664.2,879.1 665.9,886.2 667.5,893.4 669.1,900.9 670.8,908.7 672.4,916.9 674.1,925.3 675.7,934.1 677.4,943.1 679,952.4 680.7,961.9 682.3,971.5 683.9,981.4 685.6,991.8 687.2,1002.8 688.9,1014.7 690.5,1027.3 692.2,1040.9 693.8,1055.9 695.5,1073.2 697.1,1094.4 698.8,1115.2 700.4,1131.5 702,1146 703.7,1159.4 705.3,1172.5 707,1186.3 708.6,1201.8 710.3,1220.3 711.9,1240.6 713.6,1260.7 715.2,1278 716.8,1292.7 718.5,1306 720.1,1318.3 721.8,1329.7 723.4,1340.5 725.1,1351.6 726.7,1363.4 728.4,1374.3 730,1382.3 731.6,1385.4 733.3,1383.3 734.9,1377.7 736.6,1369.2 738.2,1358.5 739.9,1346.2 741.5,1333.2 743.2,1315.2 744.8,1292.7 746.5,1273.5 748.1,1257.7 749.7,1243.2 751.4,1229.4 753,1215.6 754.7,1201.6 756.3,1188 758,1175.8 759.6,1163.5 761.3,1149.5 762.9,1132.8 764.5,1107 766.2,1066.5 767.8,1048.5 769.5,1034.7 771.1,1023.4 772.8,1013.1 774.4,1002.9 776.1,992 777.7,981 779.4,970.2 781,959.9 782.6,950.2 784.3,941.2 785.9,932.9 787.6,925.4 789.2,918.6 790.9,912.2 792.5,906.1 794.2,899.9 795.8,893.6 797.4,887 799.1,879.7 800.7,871.5 802.4,863 804,854.8 805.7,847.3 807.3,840.7 809,835.3 810.6,831.3 812.2,833.1 813.9,831.3 815.5,827.3 817.2,822.9 818.8,818.6 820.5,814.5 822.1,810.6 823.8,806.6 825.4,802.5 827.1,797.5 828.7,790.1 830.3,784.5 832,782 833.6,779.7 835.3,777.4 836.9,775.1 838.6,772.6 840.2,769.3 841.9,766.1 843.5,763.6 845.1,761.4 846.8,759.4 848.4,757.4 850.1,755.3 851.7,753.4 853.4,751.5 855,749.7 856.7,748.1 858.3,746.8 859.9,745.9 861.6,745 863.2,743.8 864.9,742.3 866.5,740.9 868.2,739.5 869.8,738.1 871.5,736.8 873.1,735.5 874.8,734.2 876.4,733 878,731.8 879.7,730.7 881.3,729.6 883,728.5 884.6,727.5 886.3,726.6 886.8,726.3 887.9,726.9 889.6,727.8 891.2,728.8 892.8,729.7 894.5,730.6 896.1,731.4 897.8,732.3 899.4,733.1 901.1,733.9 902.7,734.8 904.4,735.5 906,736.3 907.7,737 909.3,737.8 910.9,738.5 912.6,739.1 914.2,739.8 915.9,740.4 917.5,741.1 919.2,741.7 920.8,742.3 922.5,742.8 924.1,743.4 925.7,743.9 927.4,744.4 929,744.9 930.7,745.4 932.3,745.8 934,746.3 935.6,746.7 937.3,747.2 938.9,747.6 940.5,748 942.2,748.3 943.8,748.7 945.5,749 947.1,749.4 948.8,749.7 950.4,750 952.1,750.2 953.7,750.4 955.4,750.7 957,750.9 958.6,751.1 960.3,751.3 961.9,751.4 963.6,751.5 965.2,751.5 966.9,751.5 968.5,751.4 970.2,751.4 971.8,751.3 973.4,751.1 975.1,751 976.7,750.8 978.4,750.6 980,750.4 981.7,750.2 983.3,749.9 985,749.6 986.6,749.3 988.2,749 989.9,748.7 991.5,748.4 993.2,748.1 994.8,747.7 996.5,747.3 998.1,746.9 999.8,746.5 1001.4,746.1 1003.1,745.6 1004.7,745.2 1006.3,744.7 1008,744.2 1009.6,743.8 1011.3,743.3 1012.9,742.9 1014.6,742.5 1016.2,742.1 1017.9,741.7 1019.5,741.3 1021.1,740.9 1022.8,740.5 1024.4,740.1 1026.1,739.7 1027.7,739.3 1029.4,738.9 1031,738.5 1032.7,738.1 1034.3,737.6 1035.9,737.2 1037.6,736.8 1039.2,736.4 1040.9,736 1042.5,735.6 1044.2,735.2 1045.8,734.8 1047.5,734.3 1049.1,733.9 1050.8,733.5 1052.4,733.1 1054,732.7 1055.7,732.3 1057.3,731.9 1059,731.5 1060.6,731.1 1062.3,730.7 1063.9,730.3 1065.6,729.9 1067.2,729.5 1068.8,729.1 1070.5,728.7 1072.1,728.3 1073.8,728 1075.4,727.6 1077.1,727.2 1078.7,726.8 1080.4,726.4 1081.2,726.3 1082,726.4 1083.7,726.8 1085.3,727.2 1086.9,727.5 1088.6,727.9 1090.2,728.3 1091.9,728.7 1093.5,729 1095.2,729.4 1096.8,729.8 1098.5,730.2 1100.1,730.6 1101.7,730.9 1103.4,731.3 1105,731.7 1106.7,732.1 1108.3,732.4 1110,732.8 1111.6,733.2 1113.3,733.6 1114.9,733.9 1116.5,734.4 1118.2,734.7 1119.8,735.1 1121.5,735.5 1123.1,735.8 1124.8,736.2 1126.4,736.6 1128.1,736.8 1129.7,736.9 1131.4,737.5 1133,738.1 1134.6,738.6 1136.3,739.3 1137.9,739.7 1139.6,740.1 1141.2,739.3 1142.9,738.5 1144.5,739.4 1146.2,740.4 1147.8,740.9 1149.4,741.5 1151.1,742.1 1152.7,742.6 1154.4,743.4 1156,744.1 1157.7,743.9 1159.3,743.7 1161,743.5 1162.6,743.4 1164.2,744.4 1165.9,745.3 1167.5,745.6 1169.2,745.8 1170.8,746.1 1172.5,746.4 1174.1,746.6 1175.8,746.7 1177.4,747.9 1179.1,749.1 1180.7,748.7 1182.3,748.3 1184,748.9 1185.6,749.5 1187.3,748.9 1188.9,748.3 1190.6,749 1192.2,749.8 1193.9,749.7 1195.5,749.7 1197.1,749.6 1198.8,749.4 1200.4,750.7 1202.1,752 1203.7,752.4 1205.4,752.9 1207,752.9 1208.7,752.8 1210.3,753.2 1211.9,753.6 1213.6,754.5 1215.2,755.2 1216.9,754.8 1218.5,754.2 1220.2,753.6 1221.8,753 1223.5,754.4 1225.1,755.8 1226.8,755.9 1228.4,756.1 1230,756.7 1231.7,757.3 1233.3,756.8 1235,756.2 1236.6,757.2 1238.3,758.1 1239.9,758.2 1241.6,758.2 1243.2,757.1 1244.8,756 1246.5,757.2 1248.1,758.4 1249.8,757.5 1251.4,756.5 1253.1,756.3 1254.7,756.1 1256.4,757 1258,757.8 1259.7,757.5 1261.3,757.2 1262.9,756.5 1264.6,755.8 1266.2,756.9 1267.9,758 1269.5,758.2 1271.2,758.4 1272.8,758.8 1274.5,759.2 1276.1,758.5 1277.7,757.7 1279.4,757 1281,756.2 1282.7,756.5 1284.3,756.7 1286,757.7 1287.6,758.7 1289.3,758.6 1290.9,758.5 1292.5,758.3 1294.2,758.1 1295.8,757.6 1297.5,757.2 1299.1,757.4 1300.8,757.6 1302.4,757.3 1304.1,757 1305.7,756.9 1307.4,756.8 1309,757.1 1310.6,757.3 1312.3,757.1 1313.9,756.9 1315.6,756.7 1317.2,756.5 1318.9,756.6 1320.5,756.7 1322.2,756.6 1323.8,756.4" fill="none" stroke="#00c0c0" stroke-width="4.8" stroke-dasharray="20 8" stroke-linejoin="round"/></g>
<path d="M148.5 758.5L130.5 746.7L130.5 770.3Z" stroke="#00c0c0" stroke-width="4.2" fill="#00c0c0" fill-opacity="0.55" stroke-linejoin="round"/>
<path d="M214.3 757.4L196.3 745.6L196.3 769.2Z" stroke="#00c0c0" stroke-width="4.2" fill="#00c0c0" fill-opacity="0.55" stroke-linejoin="round"/>
<path d="M280.1 749.1L262.1 737.3L262.1 760.9Z" stroke="#00c0c0" stroke-width="4.2" fill="#00c0c0" fill-opacity="0.55" stroke-linejoin="round"/>
<path d="M345.9 736.3L327.9 724.5L327.9 748.1Z" stroke="#00c0c0" stroke-width="4.2" fill="#00c0c0" fill-opacity="0.55" stroke-linejoin="round"/>
<path d="M411.7 731.1L393.7 719.3L393.7 742.9Z" stroke="#00c0c0" stroke-width="4.2" fill="#00c0c0" fill-opacity="0.55" stroke-linejoin="round"/>
<path d="M477.5 747.5L459.5 735.7L459.5 759.3Z" stroke="#00c0c0" stroke-width="4.2" fill="#00c0c0" fill-opacity="0.55" stroke-linejoin="round"/>
<path d="M543.3 744L525.3 732.2L525.3 755.8Z" stroke="#00c0c0" stroke-width="4.2" fill="#00c0c0" fill-opacity="0.55" stroke-linejoin="round"/>
<path d="M609.1 741.6L591.1 729.8L591.1 753.4Z" stroke="#00c0c0" stroke-width="4.2" fill="#00c0c0" fill-opacity="0.55" stroke-linejoin="round"/>
<path d="M674.9 886.2L656.9 874.4L656.9 898Z" stroke="#00c0c0" stroke-width="4.2" fill="#00c0c0" fill-opacity="0.55" stroke-linejoin="round"/>
<path d="M740.6 1385.4L722.6 1373.6L722.6 1397.2Z" stroke="#00c0c0" stroke-width="4.2" fill="#00c0c0" fill-opacity="0.55" stroke-linejoin="round"/>
<path d="M806.4 887L788.4 875.2L788.4 898.8Z" stroke="#00c0c0" stroke-width="4.2" fill="#00c0c0" fill-opacity="0.55" stroke-linejoin="round"/>
<path d="M872.2 743.8L854.2 732L854.2 755.6Z" stroke="#00c0c0" stroke-width="4.2" fill="#00c0c0" fill-opacity="0.55" stroke-linejoin="round"/>
<path d="M938 744.9L920 733.1L920 756.7Z" stroke="#00c0c0" stroke-width="4.2" fill="#00c0c0" fill-opacity="0.55" stroke-linejoin="round"/>
<path d="M1003.8 747.7L985.8 735.9L985.8 759.5Z" stroke="#00c0c0" stroke-width="4.2" fill="#00c0c0" fill-opacity="0.55" stroke-linejoin="round"/>
<path d="M1069.6 731.1L1051.6 719.3L1051.6 742.9Z" stroke="#00c0c0" stroke-width="4.2" fill="#00c0c0" fill-opacity="0.55" stroke-linejoin="round"/>
<path d="M1135.4 736.6L1117.4 724.8L1117.4 748.4Z" stroke="#00c0c0" stroke-width="4.2" fill="#00c0c0" fill-opacity="0.55" stroke-linejoin="round"/>
<path d="M1201.2 749.8L1183.2 738L1183.2 761.6Z" stroke="#00c0c0" stroke-width="4.2" fill="#00c0c0" fill-opacity="0.55" stroke-linejoin="round"/>
<path d="M1267 757.8L1249 746L1249 769.6Z" stroke="#00c0c0" stroke-width="4.2" fill="#00c0c0" fill-opacity="0.55" stroke-linejoin="round"/>
<path d="M1332.8 756.4L1314.8 744.6L1314.8 768.2Z" stroke="#00c0c0" stroke-width="4.2" fill="#00c0c0" fill-opacity="0.55" stroke-linejoin="round"/>
<g clip-path="url(#cB)"><polyline points="139.5,765.4 141.1,765.2 142.8,765 144.4,765 146.1,765 147.7,765.3 149.4,765.5 151,765.5 152.7,765.5 154.3,765.5 155.9,765.6 157.6,765.4 159.2,765.3 160.9,765.3 162.5,765.4 164.2,765.3 165.8,765.2 167.5,765.6 169.1,765.9 170.8,765.5 172.4,765 174,765.2 175.7,765.4 177.3,765.3 179,765.2 180.6,765.3 182.3,765.4 183.9,765.4 185.6,765.5 187.2,765.3 188.8,765.2 190.5,765.1 192.1,765.1 193.8,765.2 195.4,765.3 197.1,765.3 198.7,765.3 200.4,765.1 202,765 203.6,765.1 205.3,765.1 206.9,765.3 208.6,765.4 210.2,765.1 211.9,764.8 213.5,764.8 215.2,764.9 216.8,765 218.5,765 220.1,764.8 221.7,764.5 223.4,764.3 225,764.2 226.7,764.1 228.3,764.1 230,764 231.6,763.9 233.3,763.5 234.9,763.2 236.5,762.9 238.2,762.6 239.8,762.6 241.5,762.6 243.1,762.5 244.8,762.4 246.4,762 248.1,761.6 249.7,761.4 251.4,761.1 253,761 254.6,760.9 256.3,760.6 257.9,760.2 259.6,759.9 261.2,759.6 262.9,759.5 264.5,759.4 266.2,759.2 267.8,759 269.4,758.6 271.1,758.2 272.7,757.9 274.4,757.6 276,757.1 277.7,756.7 279.3,756.7 281,756.7 282.6,756.3 284.2,755.9 285.9,755.5 287.5,755.2 289.2,755 290.8,754.7 292.5,754.1 294.1,753.5 295.8,753 297.4,752.6 299.1,752.4 300.7,752.2 302.3,751.5 304,750.8 305.6,750.5 307.3,750.1 308.9,749.8 310.6,749.4 312.2,749 313.9,748.6 315.5,748.1 317.1,747.6 318.8,747.3 320.4,747.1 322.1,746.4 323.7,745.8 325.4,745.3 327,744.8 328.7,744.5 330.3,744 331.9,743.4 333.6,742.9 335.2,742.4 336.9,741.8 338.5,741.3 340.2,740.8 341.8,740.3 343.5,739.7 345.1,739.2 346.8,738.6 348.4,738.1 350,737.5 351.7,736.9 353.3,736.4 355,735.8 356.6,735.2 358.3,734.7 359.9,734.1 361.6,733.5 363.2,732.9 364.8,732.4 366.5,731.8 368.1,731.2 369.8,730.6 371.4,730 373.1,729.5 374.7,728.9 376.4,728.3 378,727.7 379.6,727.1 381.3,726.5 382.1,726.3 382.9,726.6 384.6,727.1 386.2,727.7 387.9,728.4 389.5,729 391.2,729.6 392.8,730.2 394.5,730.9 396.1,731.5 397.7,732.2 399.4,732.8 401,733.5 402.7,734.2 404.3,734.9 406,735.6 407.6,736.3 409.3,737 410.9,737.7 412.5,738.4 414.2,739.1 415.8,739.9 417.5,740.6 419.1,741.3 420.8,742.1 422.4,742.8 424.1,743.6 425.7,744.3 427.4,745.1 429,745.8 430.6,746.6 432.3,747.3 433.9,748.1 435.6,748.8 437.2,749.6 438.9,750.5 440.5,752 442.2,753.1 443.8,754.3 445.4,755.4 447.1,756.5 448.7,757.5 450.4,758.5 452,759.3 453.7,760 455.3,760.7 457,761.2 458.6,761.7 460.2,762.2 461.9,762.6 463.5,763.1 465.2,763.5 466.8,764 468.5,764.5 470.1,765 471.8,765.5 473.4,766 475.1,766.4 476.7,766.8 478.3,767.2 480,767.6 481.6,767.9 483.3,768.2 484.9,768.5 486.6,768.7 488.2,768.9 489.9,769.1 491.5,769.2 493.1,769.3 494.8,769.3 496.4,769.3 498.1,769.2 499.7,769.1 501.4,768.9 503,768.7 504.7,768.4 506.3,768.1 507.9,767.7 509.6,767.3 511.2,766.9 512.9,766.4 514.5,766 516.2,765.5 517.8,765 519.5,764.5 521.1,764 522.8,763.5 524.4,763 526,762.4 527.7,761.9 529.3,761.2 531,760.5 532.6,759.7 534.3,758.9 535.9,757.9 537.6,756.9 539.2,755.9 540.8,754.8 542.5,753.7 544.1,752.6 545.8,751.4 547.4,750.3 549.1,749.1 550.7,747.8 552.4,746.6 554,745.3 555.6,744 557.3,742.7 558.9,741.4 560.6,740 562.2,738.6 563.9,737.2 565.5,735.8 567.2,734.4 568.8,733 570.5,731.6 572.1,730.1 573.7,728.7 575.4,727.2 576.5,726.3 577,726.7 578.7,728.2 580.3,729.8 582,731.4 583.6,733.1 585.3,734.8 586.9,736.6 588.5,738.5 590.2,740.5 591.8,742.5 593.5,744.6 595.1,746.8 596.8,749 598.4,751.3 600.1,753.7 601.7,756.2 603.4,758.7 605,761.3 606.6,764 608.3,767.4 609.9,772.4 611.6,777.1 613.2,780.7 614.9,784.3 616.5,787.9 618.2,791.7 619.8,795.6 621.4,799.6 623.1,803.7 624.7,808 626.4,812.4 628,817 629.7,822 631.3,828 633,834.3 634.6,835.4 636.2,839.8 637.9,846 639.5,853.4 641.2,861.6 642.8,870.4 644.5,879.5 646.1,888.2 647.8,896.1 649.4,902.9 651.1,909.6 652.7,916.2 654.3,922.9 656,929.6 657.6,936.4 659.3,943.4 660.9,950.7 662.6,959 664.2,969 665.9,979.1 667.5,988.6 669.1,998.1 670.8,1007.5 672.4,1017 674.1,1026.7 675.7,1036.5 677.4,1046 679,1055.5 680.7,1065.5 682.3,1076.3 683.9,1088.6 685.6,1107.6 687.2,1130 688.9,1147.7 690.5,1161.3 692.2,1173.7 693.8,1185.3 695.5,1196.7 697.1,1208.5 698.8,1221 700.4,1233.7 702,1246.5 703.7,1259 705.3,1271 707,1282.4 708.6,1293.5 710.3,1304.3 711.9,1314.6 713.6,1324.4 715.2,1333.4 716.8,1341.5 718.5,1348.9 720.1,1356 721.8,1362.7 723.4,1368.9 725.1,1374.4 726.7,1378.9 728.4,1382.4 730,1384.6 731.6,1385.4 733.3,1384.7 734.9,1382.8 736.6,1379.8 738.2,1375.7 739.9,1370.6 741.5,1364.7 743.2,1358 744.8,1350.6 746.5,1342.7 748.1,1334.3 749.7,1325.5 751.4,1316.2 753,1305 754.7,1292.5 756.3,1279.3 758,1266.1 759.6,1253.4 761.3,1241 762.9,1228.6 764.5,1216.2 766.2,1203.8 767.8,1191.3 769.5,1179.1 771.1,1167.1 772.8,1155.1 774.4,1142.9 776.1,1130.3 777.7,1117.1 779.4,1102.3 781,1086.7 782.6,1071.3 784.3,1057.1 785.9,1044.6 787.6,1034 789.2,1024.2 790.9,1014.9 792.5,1006 794.2,997.2 795.8,988.2 797.4,979.2 799.1,969.5 800.7,959.5 802.4,950.2 804,942.1 805.7,935.1 807.3,928.4 809,921.8 810.6,915.3 812.2,908.8 813.9,902.3 815.5,895.7 817.2,887.5 818.8,878 820.5,868.1 822.1,858.5 823.8,849.6 825.4,841.8 827.1,835.3 828.7,830.3 830.3,826.5 832,823.3 833.6,820.5 835.3,817.6 836.9,814.5 838.6,810.9 840.2,806.5 841.9,799.7 843.5,793.3 845.1,788.9 846.8,785.1 848.4,781.4 850.1,777.8 851.7,774.4 853.4,771 855,767.8 856.7,764.8 858.3,761.9 859.9,759.1 861.6,756.4 863.2,753.9 864.9,751.5 866.5,749.2 868.2,746.9 869.8,744.8 871.5,742.7 873.1,740.6 874.8,738.7 876.4,736.8 878,734.9 879.7,733.2 881.3,731.5 883,729.8 884.6,728.2 886.3,726.7 886.8,726.3 887.9,727.3 889.6,728.8 891.2,730.3 892.8,731.8 894.5,733.3 896.1,734.8 897.8,736.3 899.4,737.7 901.1,739.2 902.7,740.7 904.4,742.2 906,743.6 907.7,745 909.3,746.4 910.9,747.8 912.6,749.2 914.2,750.5 915.9,751.8 917.5,753.1 919.2,754.3 920.8,755.4 922.5,756.3 924.1,757.1 925.7,757.8 927.4,758.5 929,759.4 930.7,760.2 932.3,761 934,761.7 935.6,762.4 937.3,763.1 938.9,763.8 940.5,764.4 942.2,765 943.8,765.6 945.5,766.1 947.1,766.6 948.8,767.1 950.4,767.5 952.1,767.9 953.7,768.2 955.4,768.5 957,768.8 958.6,769 960.3,769.1 961.9,769.2 963.6,769.3 965.2,769.3 966.9,769.3 968.5,769.2 970.2,769.1 971.8,768.9 973.4,768.7 975.1,768.5 976.7,768.2 978.4,767.9 980,767.6 981.7,767.2 983.3,766.8 985,766.4 986.6,766 988.2,765.5 989.9,765 991.5,764.5 993.2,764 994.8,763.4 996.5,762.9 998.1,762.3 999.8,761.7 1001.4,761.1 1003.1,760.4 1004.7,759.8 1006.3,759.1 1008,758.4 1009.6,757.7 1011.3,757 1012.9,756.3 1014.6,755.6 1016.2,754.9 1017.9,754.1 1019.5,753.4 1021.1,752.6 1022.8,751.9 1024.4,751.1 1026.1,750.3 1027.7,749.6 1029.4,748.8 1031,748 1032.7,747.3 1034.3,746.5 1035.9,745.7 1037.6,744.9 1039.2,744.2 1040.9,743.4 1042.5,742.6 1044.2,741.9 1045.8,741.1 1047.5,740.3 1049.1,739.6 1050.8,738.8 1052.4,738.1 1054,737.4 1055.7,736.6 1057.3,735.9 1059,735.2 1060.6,734.5 1062.3,733.8 1063.9,733.1 1065.6,732.4 1067.2,731.7 1068.8,731 1070.5,730.4 1072.1,729.7 1073.8,729.1 1075.4,728.4 1077.1,727.8 1078.7,727.2 1080.4,726.6 1081.2,726.3 1082,726.5 1083.7,727.1 1085.3,727.8 1086.9,728.4 1088.6,729 1090.2,729.6 1091.9,730.2 1093.5,730.8 1095.2,731.4 1096.8,732 1098.5,732.6 1100.1,733.2 1101.7,733.8 1103.4,734.4 1105,735 1106.7,735.6 1108.3,736.2 1110,736.8 1111.6,737.4 1113.3,737.9 1114.9,738.5 1116.5,739.1 1118.2,739.7 1119.8,740.2 1121.5,740.8 1123.1,741.4 1124.8,741.9 1126.4,742.4 1128.1,743.1 1129.7,743.7 1131.4,744.1 1133,744.5 1134.6,744.8 1136.3,745.1 1137.9,746 1139.6,747 1141.2,747.2 1142.9,747.5 1144.5,748.1 1146.2,748.6 1147.8,749 1149.4,749.4 1151.1,750.1 1152.7,750.9 1154.4,751.2 1156,751.5 1157.7,751.7 1159.3,751.9 1161,752.4 1162.6,752.9 1164.2,753 1165.9,753.2 1167.5,753.9 1169.2,754.6 1170.8,754.8 1172.5,755.1 1174.1,755.1 1175.8,755.2 1177.4,755.9 1179.1,756.7 1180.7,757 1182.3,757.3 1184,757.5 1185.6,757.7 1187.3,758 1188.9,758.3 1190.6,758.5 1192.2,758.8 1193.9,759.1 1195.5,759.3 1197.1,759.7 1198.8,760.1 1200.4,760.2 1202.1,760.3 1203.7,760.2 1205.4,760.2 1207,760.5 1208.7,760.9 1210.3,761.5 1211.9,762.2 1213.6,762.1 1215.2,762 1216.9,762.2 1218.5,762.5 1220.2,762.4 1221.8,762.3 1223.5,762.5 1225.1,762.7 1226.8,762.4 1228.4,762.2 1230,762.4 1231.7,762.6 1233.3,762.6 1235,762.6 1236.6,762.8 1238.3,762.9 1239.9,762.9 1241.6,763 1243.2,762.9 1244.8,762.9 1246.5,762.8 1248.1,762.6 1249.8,762.7 1251.4,762.9 1253.1,763 1254.7,763.2 1256.4,763.1 1258,763.1 1259.7,763.2 1261.3,763.2 1262.9,763.4 1264.6,763.5 1266.2,763.8 1267.9,764 1269.5,764.2 1271.2,764.3 1272.8,764.5 1274.5,764.7 1276.1,765 1277.7,765.4 1279.4,765.1 1281,764.7 1282.7,764.9 1284.3,765 1286,765.1 1287.6,765.2 1289.3,765.1 1290.9,764.9 1292.5,765 1294.2,765.1 1295.8,765.1 1297.5,765.1 1299.1,765.5 1300.8,765.8 1302.4,765.5 1304.1,765.3 1305.7,765.2 1307.4,765 1309,764.9 1310.6,764.7 1312.3,764.7 1313.9,764.7 1315.6,764.7 1317.2,764.8 1318.9,765.1 1320.5,765.5 1322.2,765.3 1323.8,765.2" fill="none" stroke="#008000" stroke-width="4.8" stroke-dasharray="5 7" stroke-linejoin="round"/></g>
<path d="M139.5 753.9L149 765.4L139.5 776.9L130 765.4Z" stroke="#008000" stroke-width="4.0" fill="#008000" fill-opacity="0.4" stroke-linejoin="round"/>
<path d="M205.3 753.6L214.8 765.1L205.3 776.6L195.8 765.1Z" stroke="#008000" stroke-width="4.0" fill="#008000" fill-opacity="0.4" stroke-linejoin="round"/>
<path d="M271.1 746.7L280.6 758.2L271.1 769.7L261.6 758.2Z" stroke="#008000" stroke-width="4.0" fill="#008000" fill-opacity="0.4" stroke-linejoin="round"/>
<path d="M336.9 730.3L346.4 741.8L336.9 753.3L327.4 741.8Z" stroke="#008000" stroke-width="4.0" fill="#008000" fill-opacity="0.4" stroke-linejoin="round"/>
<path d="M402.7 722.7L412.2 734.2L402.7 745.7L393.2 734.2Z" stroke="#008000" stroke-width="4.0" fill="#008000" fill-opacity="0.4" stroke-linejoin="round"/>
<path d="M468.5 753L478 764.5L468.5 776L459 764.5Z" stroke="#008000" stroke-width="4.0" fill="#008000" fill-opacity="0.4" stroke-linejoin="round"/>
<path d="M534.3 747.4L543.8 758.9L534.3 770.4L524.8 758.9Z" stroke="#008000" stroke-width="4.0" fill="#008000" fill-opacity="0.4" stroke-linejoin="round"/>
<path d="M600.1 742.2L609.6 753.7L600.1 765.2L590.6 753.7Z" stroke="#008000" stroke-width="4.0" fill="#008000" fill-opacity="0.4" stroke-linejoin="round"/>
<path d="M665.9 967.6L675.4 979.1L665.9 990.6L656.4 979.1Z" stroke="#008000" stroke-width="4.0" fill="#008000" fill-opacity="0.4" stroke-linejoin="round"/>
<path d="M731.6 1373.9L741.1 1385.4L731.6 1396.9L722.1 1385.4Z" stroke="#008000" stroke-width="4.0" fill="#008000" fill-opacity="0.4" stroke-linejoin="round"/>
<path d="M797.4 967.7L806.9 979.2L797.4 990.7L787.9 979.2Z" stroke="#008000" stroke-width="4.0" fill="#008000" fill-opacity="0.4" stroke-linejoin="round"/>
<path d="M863.2 742.4L872.7 753.9L863.2 765.4L853.7 753.9Z" stroke="#008000" stroke-width="4.0" fill="#008000" fill-opacity="0.4" stroke-linejoin="round"/>
<path d="M929 747.9L938.5 759.4L929 770.9L919.5 759.4Z" stroke="#008000" stroke-width="4.0" fill="#008000" fill-opacity="0.4" stroke-linejoin="round"/>
<path d="M994.8 751.9L1004.3 763.4L994.8 774.9L985.3 763.4Z" stroke="#008000" stroke-width="4.0" fill="#008000" fill-opacity="0.4" stroke-linejoin="round"/>
<path d="M1060.6 723L1070.1 734.5L1060.6 746L1051.1 734.5Z" stroke="#008000" stroke-width="4.0" fill="#008000" fill-opacity="0.4" stroke-linejoin="round"/>
<path d="M1126.4 730.9L1135.9 742.4L1126.4 753.9L1116.9 742.4Z" stroke="#008000" stroke-width="4.0" fill="#008000" fill-opacity="0.4" stroke-linejoin="round"/>
<path d="M1192.2 747.3L1201.7 758.8L1192.2 770.3L1182.7 758.8Z" stroke="#008000" stroke-width="4.0" fill="#008000" fill-opacity="0.4" stroke-linejoin="round"/>
<path d="M1258 751.6L1267.5 763.1L1258 774.6L1248.5 763.1Z" stroke="#008000" stroke-width="4.0" fill="#008000" fill-opacity="0.4" stroke-linejoin="round"/>
<path d="M1323.8 753.7L1333.3 765.2L1323.8 776.7L1314.3 765.2Z" stroke="#008000" stroke-width="4.0" fill="#008000" fill-opacity="0.4" stroke-linejoin="round"/>
<g clip-path="url(#cB)"><polyline points="139.5,784.8 141.1,784.8 142.8,784.8 144.4,784.8 146.1,784.8 147.7,784.8 149.4,784.8 151,784.8 152.7,784.8 154.3,784.8 155.9,784.8 157.6,784.8 159.2,784.8 160.9,784.8 162.5,784.8 164.2,784.8 165.8,784.8 167.5,784.8 169.1,784.8 170.8,784.8 172.4,784.8 174,784.8 175.7,784.8 177.3,784.8 179,784.8 180.6,784.7 182.3,784.7 183.9,784.7 185.6,784.7 187.2,784.7 188.8,784.7 190.5,784.6 192.1,784.6 193.8,784.6 195.4,784.6 197.1,784.5 198.7,784.5 200.4,784.4 202,784.4 203.6,784.4 205.3,784.3 206.9,784.3 208.6,784.2 210.2,784.1 211.9,784.1 213.5,784 215.2,783.9 216.8,783.9 218.5,783.8 220.1,783.7 221.7,783.6 223.4,783.5 225,783.4 226.7,783.3 228.3,783.1 230,783 231.6,782.9 233.3,782.8 234.9,782.6 236.5,782.5 238.2,782.3 239.8,782.1 241.5,781.9 243.1,781.8 244.8,781.6 246.4,781.4 248.1,781.1 249.7,780.9 251.4,780.7 253,780.5 254.6,780.2 256.3,779.9 257.9,779.7 259.6,779.4 261.2,779.1 262.9,778.8 264.5,778.5 266.2,778.1 267.8,777.8 269.4,777.5 271.1,777.1 272.7,776.7 274.4,776.3 276,775.9 277.7,775.5 279.3,775.1 281,774.7 282.6,774.2 284.2,773.8 285.9,773.3 287.5,772.8 289.2,772.3 290.8,771.8 292.5,771.3 294.1,770.7 295.8,770.2 297.4,769.6 299.1,769 300.7,768.4 302.3,767.8 304,767.2 305.6,766.5 307.3,765.9 308.9,765.2 310.6,764.6 312.2,763.9 313.9,763.2 315.5,762.5 317.1,761.7 318.8,761 320.4,760.2 322.1,759.5 323.7,758.7 325.4,757.9 327,757.1 328.7,756.3 330.3,755.5 331.9,754.6 333.6,753.8 335.2,752.9 336.9,752.1 338.5,751.2 340.2,750.3 341.8,749.4 343.5,748.5 345.1,747.6 346.8,746.7 348.4,745.8 350,744.8 351.7,743.9 353.3,743 355,742 356.6,741.1 358.3,740.1 359.9,739.2 361.6,738.2 363.2,737.3 364.8,736.3 366.5,735.3 368.1,734.4 369.8,733.4 371.4,732.4 373.1,731.5 374.7,730.5 376.4,729.6 378,728.6 379.6,727.7 381.3,726.7 382.1,726.3 382.9,726.7 384.6,727.7 386.2,728.7 387.9,729.7 389.5,730.7 391.2,731.8 392.8,732.8 394.5,733.9 396.1,735 397.7,736.2 399.4,737.3 401,738.5 402.7,739.7 404.3,740.9 406,742.1 407.6,743.4 409.3,744.7 410.9,745.9 412.5,747.2 414.2,748.6 415.8,749.9 417.5,751.3 419.1,752.6 420.8,754 422.4,755.4 424.1,756.8 425.7,758.2 427.4,759.6 429,761.1 430.6,762.5 432.3,763.9 433.9,765.4 435.6,766.8 437.2,768.3 438.9,769.7 440.5,771.2 442.2,772.6 443.8,774.1 445.4,775.5 447.1,776.9 448.7,778.3 450.4,779.7 452,781.1 453.7,782.5 455.3,783.8 457,785.1 458.6,786.4 460.2,787.7 461.9,789 463.5,790.2 465.2,791.4 466.8,792.5 468.5,793.6 470.1,794.7 471.8,795.7 473.4,796.7 475.1,797.6 476.7,798.5 478.3,799.4 480,800.1 481.6,800.9 483.3,801.5 484.9,802.1 486.6,802.7 488.2,803.1 489.9,803.5 491.5,803.9 493.1,804.2 494.8,804.3 496.4,804.5 498.1,804.5 499.7,804.5 501.4,804.4 503,804.2 504.7,803.9 506.3,803.5 507.9,803.1 509.6,802.6 511.2,802 512.9,801.3 514.5,800.5 516.2,799.7 517.8,798.7 519.5,797.7 521.1,796.6 522.8,795.4 524.4,794.1 526,792.8 527.7,791.3 529.3,789.8 531,788.2 532.6,786.6 534.3,784.8 535.9,783 537.6,781.1 539.2,779.2 540.8,777.2 542.5,775.2 544.1,773 545.8,770.9 547.4,768.7 549.1,766.4 550.7,764.1 552.4,761.8 554,759.4 555.6,757.1 557.3,754.6 558.9,752.2 560.6,749.8 562.2,747.3 563.9,744.8 565.5,742.4 567.2,739.9 568.8,737.5 570.5,735 572.1,732.6 573.7,730.2 575.4,727.9 576.5,726.3 577,727 578.7,729.4 580.3,732 582,734.7 583.6,737.5 585.3,740.5 586.9,743.6 588.5,746.9 590.2,750.4 591.8,754 593.5,757.8 595.1,761.7 596.8,765.9 598.4,770.2 600.1,774.7 601.7,779.4 603.4,784.2 605,789.3 606.6,794.6 608.3,800.1 609.9,805.8 611.6,811.7 613.2,817.8 614.9,824.1 616.5,830.6 618.2,837.3 619.8,844.3 621.4,851.4 623.1,858.8 624.7,866.4 626.4,874.1 628,882.1 629.7,890.3 631.3,898.7 633,907.2 634.6,916 636.2,924.9 637.9,934 639.5,943.3 641.2,952.8 642.8,962.4 644.5,972.1 646.1,982 647.8,992 649.4,1002.2 651.1,1012.4 652.7,1022.8 654.3,1033.3 656,1043.8 657.6,1054.4 659.3,1065.1 660.9,1075.8 662.6,1086.5 664.2,1097.2 665.9,1108 667.5,1118.8 669.1,1129.5 670.8,1140.2 672.4,1150.8 674.1,1161.4 675.7,1171.9 677.4,1182.3 679,1192.6 680.7,1202.7 682.3,1212.8 683.9,1222.6 685.6,1232.3 687.2,1241.9 688.9,1251.2 690.5,1260.3 692.2,1269.2 693.8,1277.8 695.5,1286.2 697.1,1294.3 698.8,1302.1 700.4,1309.6 702,1316.9 703.7,1323.8 705.3,1330.4 707,1336.6 708.6,1342.5 710.3,1348 711.9,1353.2 713.6,1357.9 715.2,1362.3 716.8,1366.3 718.5,1369.9 720.1,1373.1 721.8,1375.9 723.4,1378.2 725.1,1380.2 726.7,1381.7 728.4,1382.7 730,1383.4 731.6,1383.6 733.3,1383.4 734.9,1382.7 736.6,1381.7 738.2,1380.2 739.9,1378.2 741.5,1375.9 743.2,1373.1 744.8,1369.9 746.5,1366.3 748.1,1362.3 749.7,1357.9 751.4,1353.2 753,1348 754.7,1342.5 756.3,1336.6 758,1330.4 759.6,1323.8 761.3,1316.9 762.9,1309.6 764.5,1302.1 766.2,1294.3 767.8,1286.2 769.5,1277.8 771.1,1269.2 772.8,1260.3 774.4,1251.2 776.1,1241.9 777.7,1232.3 779.4,1222.6 781,1212.8 782.6,1202.7 784.3,1192.6 785.9,1182.3 787.6,1171.9 789.2,1161.4 790.9,1150.8 792.5,1140.2 794.2,1129.5 795.8,1118.8 797.4,1108 799.1,1097.2 800.7,1086.5 802.4,1075.8 804,1065.1 805.7,1054.4 807.3,1043.8 809,1033.3 810.6,1022.8 812.2,1012.4 813.9,1002.2 815.5,992 817.2,982 818.8,972.1 820.5,962.4 822.1,952.8 823.8,943.3 825.4,934 827.1,924.9 828.7,916 830.3,907.2 832,898.7 833.6,890.3 835.3,882.1 836.9,874.1 838.6,866.4 840.2,858.8 841.9,851.4 843.5,844.3 845.1,837.3 846.8,830.6 848.4,824.1 850.1,817.8 851.7,811.7 853.4,805.8 855,800.1 856.7,794.6 858.3,789.3 859.9,784.2 861.6,779.4 863.2,774.7 864.9,770.2 866.5,765.9 868.2,761.7 869.8,757.8 871.5,754 873.1,750.4 874.8,746.9 876.4,743.6 878,740.5 879.7,737.5 881.3,734.7 883,732 884.6,729.4 886.3,727 886.8,726.3 887.9,727.9 889.6,730.2 891.2,732.6 892.8,735 894.5,737.5 896.1,739.9 897.8,742.4 899.4,744.8 901.1,747.3 902.7,749.8 904.4,752.2 906,754.6 907.7,757.1 909.3,759.4 910.9,761.8 912.6,764.1 914.2,766.4 915.9,768.7 917.5,770.9 919.2,773 920.8,775.2 922.5,777.2 924.1,779.2 925.7,781.1 927.4,783 929,784.8 930.7,786.6 932.3,788.2 934,789.8 935.6,791.3 937.3,792.8 938.9,794.1 940.5,795.4 942.2,796.6 943.8,797.7 945.5,798.7 947.1,799.7 948.8,800.5 950.4,801.3 952.1,802 953.7,802.6 955.4,803.1 957,803.5 958.6,803.9 960.3,804.2 961.9,804.4 963.6,804.5 965.2,804.5 966.9,804.5 968.5,804.3 970.2,804.2 971.8,803.9 973.4,803.5 975.1,803.1 976.7,802.7 978.4,802.1 980,801.5 981.7,800.9 983.3,800.1 985,799.4 986.6,798.5 988.2,797.6 989.9,796.7 991.5,795.7 993.2,794.7 994.8,793.6 996.5,792.5 998.1,791.4 999.8,790.2 1001.4,789 1003.1,787.7 1004.7,786.4 1006.3,785.1 1008,783.8 1009.6,782.5 1011.3,781.1 1012.9,779.7 1014.6,778.3 1016.2,776.9 1017.9,775.5 1019.5,774.1 1021.1,772.6 1022.8,771.2 1024.4,769.7 1026.1,768.3 1027.7,766.8 1029.4,765.4 1031,763.9 1032.7,762.5 1034.3,761.1 1035.9,759.6 1037.6,758.2 1039.2,756.8 1040.9,755.4 1042.5,754 1044.2,752.6 1045.8,751.3 1047.5,749.9 1049.1,748.6 1050.8,747.2 1052.4,745.9 1054,744.7 1055.7,743.4 1057.3,742.1 1059,740.9 1060.6,739.7 1062.3,738.5 1063.9,737.3 1065.6,736.2 1067.2,735 1068.8,733.9 1070.5,732.8 1072.1,731.8 1073.8,730.7 1075.4,729.7 1077.1,728.7 1078.7,727.7 1080.4,726.7 1081.2,726.3 1082,726.7 1083.7,727.7 1085.3,728.6 1086.9,729.6 1088.6,730.5 1090.2,731.5 1091.9,732.4 1093.5,733.4 1095.2,734.4 1096.8,735.3 1098.5,736.3 1100.1,737.3 1101.7,738.2 1103.4,739.2 1105,740.1 1106.7,741.1 1108.3,742 1110,743 1111.6,743.9 1113.3,744.8 1114.9,745.8 1116.5,746.7 1118.2,747.6 1119.8,748.5 1121.5,749.4 1123.1,750.3 1124.8,751.2 1126.4,752.1 1128.1,752.9 1129.7,753.8 1131.4,754.6 1133,755.5 1134.6,756.3 1136.3,757.1 1137.9,757.9 1139.6,758.7 1141.2,759.5 1142.9,760.2 1144.5,761 1146.2,761.7 1147.8,762.5 1149.4,763.2 1151.1,763.9 1152.7,764.6 1154.4,765.2 1156,765.9 1157.7,766.5 1159.3,767.2 1161,767.8 1162.6,768.4 1164.2,769 1165.9,769.6 1167.5,770.2 1169.2,770.7 1170.8,771.3 1172.5,771.8 1174.1,772.3 1175.8,772.8 1177.4,773.3 1179.1,773.8 1180.7,774.2 1182.3,774.7 1184,775.1 1185.6,775.5 1187.3,775.9 1188.9,776.3 1190.6,776.7 1192.2,777.1 1193.9,777.5 1195.5,777.8 1197.1,778.1 1198.8,778.5 1200.4,778.8 1202.1,779.1 1203.7,779.4 1205.4,779.7 1207,779.9 1208.7,780.2 1210.3,780.5 1211.9,780.7 1213.6,780.9 1215.2,781.1 1216.9,781.4 1218.5,781.6 1220.2,781.8 1221.8,781.9 1223.5,782.1 1225.1,782.3 1226.8,782.5 1228.4,782.6 1230,782.8 1231.7,782.9 1233.3,783 1235,783.1 1236.6,783.3 1238.3,783.4 1239.9,783.5 1241.6,783.6 1243.2,783.7 1244.8,783.8 1246.5,783.9 1248.1,783.9 1249.8,784 1251.4,784.1 1253.1,784.1 1254.7,784.2 1256.4,784.3 1258,784.3 1259.7,784.4 1261.3,784.4 1262.9,784.4 1264.6,784.5 1266.2,784.5 1267.9,784.6 1269.5,784.6 1271.2,784.6 1272.8,784.6 1274.5,784.7 1276.1,784.7 1277.7,784.7 1279.4,784.7 1281,784.7 1282.7,784.7 1284.3,784.8 1286,784.8 1287.6,784.8 1289.3,784.8 1290.9,784.8 1292.5,784.8 1294.2,784.8 1295.8,784.8 1297.5,784.8 1299.1,784.8 1300.8,784.8 1302.4,784.8 1304.1,784.8 1305.7,784.8 1307.4,784.8 1309,784.8 1310.6,784.8 1312.3,784.8 1313.9,784.8 1315.6,784.8 1317.2,784.8 1318.9,784.8 1320.5,784.8 1322.2,784.8 1323.8,784.8" fill="none" stroke="#0c2472" stroke-width="4.8" stroke-dasharray="20 7 5 7" stroke-linejoin="round"/></g>
<path d="M139.5 792.2L150.3 777.4L128.7 777.4Z" stroke="#0c2472" stroke-width="4.2" fill="#0c2472" fill-opacity="0.55" stroke-linejoin="round"/>
<path d="M205.3 791.7L216.1 776.9L194.5 776.9Z" stroke="#0c2472" stroke-width="4.2" fill="#0c2472" fill-opacity="0.55" stroke-linejoin="round"/>
<path d="M271.1 784.5L281.9 769.7L260.3 769.7Z" stroke="#0c2472" stroke-width="4.2" fill="#0c2472" fill-opacity="0.55" stroke-linejoin="round"/>
<path d="M336.9 759.5L347.7 744.7L326.1 744.7Z" stroke="#0c2472" stroke-width="4.2" fill="#0c2472" fill-opacity="0.55" stroke-linejoin="round"/>
<path d="M402.7 747.1L413.5 732.3L391.9 732.3Z" stroke="#0c2472" stroke-width="4.2" fill="#0c2472" fill-opacity="0.55" stroke-linejoin="round"/>
<path d="M468.5 801L479.3 786.2L457.7 786.2Z" stroke="#0c2472" stroke-width="4.2" fill="#0c2472" fill-opacity="0.55" stroke-linejoin="round"/>
<path d="M534.3 792.2L545.1 777.4L523.5 777.4Z" stroke="#0c2472" stroke-width="4.2" fill="#0c2472" fill-opacity="0.55" stroke-linejoin="round"/>
<path d="M600.1 782.1L610.9 767.3L589.3 767.3Z" stroke="#0c2472" stroke-width="4.2" fill="#0c2472" fill-opacity="0.55" stroke-linejoin="round"/>
<path d="M665.9 1115.4L676.7 1100.6L655.1 1100.6Z" stroke="#0c2472" stroke-width="4.2" fill="#0c2472" fill-opacity="0.55" stroke-linejoin="round"/>
<path d="M731.6 1391L742.4 1376.2L720.9 1376.2Z" stroke="#0c2472" stroke-width="4.2" fill="#0c2472" fill-opacity="0.55" stroke-linejoin="round"/>
<path d="M797.4 1115.4L808.2 1100.6L786.6 1100.6Z" stroke="#0c2472" stroke-width="4.2" fill="#0c2472" fill-opacity="0.55" stroke-linejoin="round"/>
<path d="M863.2 782.1L874 767.3L852.4 767.3Z" stroke="#0c2472" stroke-width="4.2" fill="#0c2472" fill-opacity="0.55" stroke-linejoin="round"/>
<path d="M929 792.2L939.8 777.4L918.2 777.4Z" stroke="#0c2472" stroke-width="4.2" fill="#0c2472" fill-opacity="0.55" stroke-linejoin="round"/>
<path d="M994.8 801L1005.6 786.2L984 786.2Z" stroke="#0c2472" stroke-width="4.2" fill="#0c2472" fill-opacity="0.55" stroke-linejoin="round"/>
<path d="M1060.6 747.1L1071.4 732.3L1049.8 732.3Z" stroke="#0c2472" stroke-width="4.2" fill="#0c2472" fill-opacity="0.55" stroke-linejoin="round"/>
<path d="M1126.4 759.5L1137.2 744.7L1115.6 744.7Z" stroke="#0c2472" stroke-width="4.2" fill="#0c2472" fill-opacity="0.55" stroke-linejoin="round"/>
<path d="M1192.2 784.5L1203 769.7L1181.4 769.7Z" stroke="#0c2472" stroke-width="4.2" fill="#0c2472" fill-opacity="0.55" stroke-linejoin="round"/>
<path d="M1258 791.7L1268.8 776.9L1247.2 776.9Z" stroke="#0c2472" stroke-width="4.2" fill="#0c2472" fill-opacity="0.55" stroke-linejoin="round"/>
<path d="M1323.8 792.2L1334.6 777.4L1313 777.4Z" stroke="#0c2472" stroke-width="4.2" fill="#0c2472" fill-opacity="0.55" stroke-linejoin="round"/>
<line x1="139.6" y1="680.6" x2="139.6" y2="1469.8" stroke="#333" stroke-width="2.6"/>
<line x1="138.3" y1="681.7" x2="1325.1" y2="681.7" stroke="#666" stroke-width="2.3"/>
<line x1="1323.6" y1="680.6" x2="1323.6" y2="1469.8" stroke="#000" stroke-width="3"/>
<line x1="138.3" y1="1468.4" x2="1325.1" y2="1468.4" stroke="#333" stroke-width="2.6"/>
<rect x="184" y="1360" width="174" height="40" fill="#fff"/>
<text id="t343" x="192.4" y="1397" font-size="36" textLength="151.7">3.43&#215;10<tspan font-size="25" dy="-17">&#8722;5</tspan></text>
<text x="63.3" y="696.6" font-size="38">10<tspan font-size="26" dx="-2.5" dy="-17.5">0</tspan></text>
<text x="61.6" y="848.5" font-size="38">10<tspan font-size="26" dx="-2.5" dy="-17.5">&#8722;1</tspan></text>
<text x="61.6" y="1007.4" font-size="38">10<tspan font-size="26" dx="-2.5" dy="-17.5">&#8722;2</tspan></text>
<text x="61.6" y="1166.4" font-size="38">10<tspan font-size="26" dx="-2.5" dy="-17.5">&#8722;3</tspan></text>
<text x="61.6" y="1324.9" font-size="38">10<tspan font-size="26" dx="-2.5" dy="-17.5">&#8722;4</tspan></text>
<text x="61.6" y="1479.9" font-size="38">10<tspan font-size="26" dx="-2.5" dy="-17.5">&#8722;5</tspan></text>
<text x="138.1" y="1514" font-size="38" text-anchor="middle">0&#186;</text>
<text x="435.3" y="1514" font-size="38" text-anchor="middle">45&#186;</text>
<text x="733.1" y="1514" font-size="38" text-anchor="middle">90&#186;</text>
<text x="1031.1" y="1514" font-size="38" text-anchor="middle">135&#186;</text>
<text x="1325.7" y="1514" font-size="38" text-anchor="middle">180&#186;</text>
<text id="xl" x="564" y="1573.4" font-size="46" textLength="342.6">Spatial Direction <tspan font-style="italic">&#952;</tspan></text>
<text transform="translate(32.8 1110.2) rotate(-90)" font-size="46">BER</text>
<text id="snr" x="1081.6" y="914.3" font-size="36" textLength="207.1">SNR = 12 dB</text>
<rect x="962" y="961" width="359.5" height="46" fill="#fff"/>
<line x1="843" y1="983" x2="949" y2="983" stroke="#ff0000" stroke-width="5.5" stroke-linecap="round"/>
<circle cx="897" cy="983" r="11.5" fill="none" stroke="#ff0000" stroke-width="5.0"/>
<text id="legred" x="976.75" y="995" font-size="37" textLength="317.0"><tspan font-style="italic">&#952;</tspan><tspan font-size="26" dy="5">0</tspan><tspan dy="-5">=45&#186;; PE</tspan><tspan font-size="26" dy="5">DM</tspan><tspan dy="-5"> = 25%</tspan></text>
<rect x="962" y="1019" width="359.5" height="46" fill="#fff"/>
<line x1="843" y1="1041" x2="949" y2="1041" stroke="#0000ff" stroke-width="5.5" stroke-linecap="round" stroke-dasharray="15.3 18"/>
<rect x="885" y="1029" width="24" height="24" fill="none" stroke="#0000ff" stroke-width="5.0"/>
<text id="legblue" x="976.75" y="1053" font-size="37" textLength="317.0"><tspan font-style="italic">&#952;</tspan><tspan font-size="26" dy="5">0</tspan><tspan dy="-5">=45&#186;; PE</tspan><tspan font-size="26" dy="5">DM</tspan><tspan dy="-5"> = 50%</tspan></text>
<rect x="962" y="1077.5" width="359.5" height="46" fill="#fff"/>
<line x1="843" y1="1099.5" x2="949" y2="1099.5" stroke="#8b4a18" stroke-width="5.5" stroke-linecap="round" stroke-dasharray="4.7 11.3"/>
<path d="M886 1088.5L908 1110.5M886 1110.5L908 1088.5" stroke="#8b4a18" stroke-width="5.0" fill="none"/>
<text id="legbrown" x="976.75" y="1111.5" font-size="37" textLength="317.0"><tspan font-style="italic">&#952;</tspan><tspan font-size="26" dy="5">0</tspan><tspan dy="-5">=45&#186;; PE</tspan><tspan font-size="26" dy="5">DM</tspan><tspan dy="-5"> = 75%</tspan></text>
<rect x="962" y="1134.4" width="359.5" height="46" fill="#fff"/>
<line x1="843" y1="1156.4" x2="949" y2="1156.4" stroke="#000000" stroke-width="5.5" stroke-linecap="round" stroke-dasharray="15.3 17.7 0.01 17.7"/>
<path d="M898.5 1146.9L910.5 1165.9L886.5 1165.9Z" stroke="#000000" stroke-width="5.0" fill="none" stroke-linejoin="round"/>
<text id="legblack" x="976.75" y="1168.4" font-size="37" textLength="336.2"><tspan font-style="italic">&#952;</tspan><tspan font-size="26" dy="5">0</tspan><tspan dy="-5">=45&#186;; PE</tspan><tspan font-size="26" dy="5">DM</tspan><tspan dy="-5"> = 100%</tspan></text>
<rect x="962" y="1211.7" width="359.5" height="46" fill="#fff"/>
<line x1="843" y1="1233.7" x2="949" y2="1233.7" stroke="#c20cb6" stroke-width="5.5" stroke-linecap="round"/>
<path d="M884 1233.7L913 1233.7M898.5 1219.2L898.5 1248.2" stroke="#c20cb6" stroke-width="5.0" fill="none"/>
<text id="legmagenta" x="976.75" y="1245.7" font-size="37" textLength="317.0"><tspan font-style="italic">&#952;</tspan><tspan font-size="26" dy="5">0</tspan><tspan dy="-5">=90&#186;; PE</tspan><tspan font-size="26" dy="5">DM</tspan><tspan dy="-5"> = 25%</tspan></text>
<rect x="962" y="1270" width="359.5" height="46" fill="#fff"/>
<line x1="843" y1="1292" x2="949" y2="1292" stroke="#0b8bc0" stroke-width="5.5" stroke-linecap="round" stroke-dasharray="15.3 18"/>
<path d="M907 1292L890 1280L890 1304Z" stroke="#0b8bc0" stroke-width="5.0" fill="none" stroke-linejoin="round"/>
<text id="legcyan" x="976.75" y="1304" font-size="37" textLength="317.0"><tspan font-style="italic">&#952;</tspan><tspan font-size="26" dy="5">0</tspan><tspan dy="-5">=90&#186;; PE</tspan><tspan font-size="26" dy="5">DM</tspan><tspan dy="-5"> = 50%</tspan></text>
<rect x="962" y="1328" width="359.5" height="46" fill="#fff"/>
<line x1="843" y1="1350" x2="949" y2="1350" stroke="#5b6c32" stroke-width="5.5" stroke-linecap="round" stroke-dasharray="4.7 11.3"/>
<path d="M898.5 1335L913.5 1350L898.5 1365L883.5 1350Z" stroke="#5b6c32" stroke-width="5.0" fill="none" stroke-linejoin="round"/>
<text id="leggreen" x="976.75" y="1362" font-size="37" textLength="317.0"><tspan font-style="italic">&#952;</tspan><tspan font-size="26" dy="5">0</tspan><tspan dy="-5">=90&#186;; PE</tspan><tspan font-size="26" dy="5">DM</tspan><tspan dy="-5"> = 75%</tspan></text>
<rect x="962" y="1387.6" width="359.5" height="46" fill="#fff"/>
<line x1="843" y1="1409.6" x2="949" y2="1409.6" stroke="#222e5c" stroke-width="5.5" stroke-linecap="round" stroke-dasharray="15.3 17.7 0.01 17.7"/>
<path d="M898.5 1419.1L910.5 1400.1L886.5 1400.1Z" stroke="#222e5c" stroke-width="5.0" fill="none" stroke-linejoin="round"/>
<text id="legnavy" x="976.75" y="1421.6" font-size="37" textLength="336.2"><tspan font-style="italic">&#952;</tspan><tspan font-size="26" dy="5">0</tspan><tspan dy="-5">=90&#186;; PE</tspan><tspan font-size="26" dy="5">DM</tspan><tspan dy="-5"> = 100%</tspan></text>
<ellipse cx="735" cy="765.5" rx="659.5" ry="67" fill="none" stroke="#404040" stroke-width="5" stroke-dasharray="6 11" stroke-linecap="round"/>
<line x1="711.4" y1="685.5" x2="711.4" y2="640" stroke="#404040" stroke-width="6" stroke-dasharray="4 13" stroke-linecap="round"/>
<path d="M711.4 607.8L726.6 637.1Q711.4 630 696.3 637.1Z" fill="#404040"/>
<line x1="711.4" y1="632" x2="711.4" y2="634.5" stroke="#404040" stroke-width="6" stroke-linecap="round"/>
<line x1="141" y1="605.3" x2="1322.3" y2="605.3" stroke="#ececec" stroke-width="2"/>
</svg>
</body></html>
